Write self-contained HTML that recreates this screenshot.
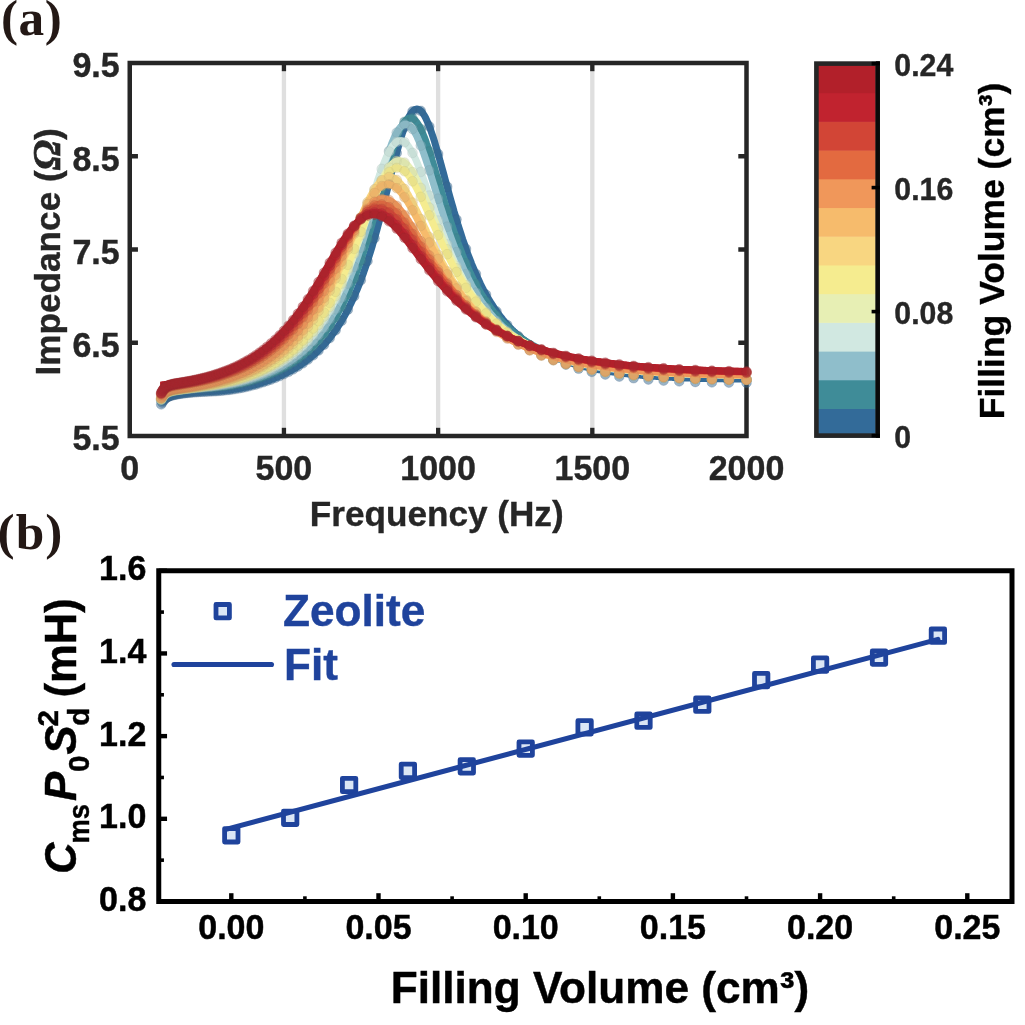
<!DOCTYPE html>
<html lang="en"><head><meta charset="utf-8"><title>Impedance vs filling volume</title>
<style>html,body{margin:0;padding:0;background:#fff}svg{display:block}</style></head>
<body>
<svg width="1025" height="1025" viewBox="0 0 1025 1025">
<rect width="1025" height="1025" fill="#ffffff"/>
<defs>
<marker id="m0" markerWidth="12" markerHeight="12" refX="6" refY="6" markerUnits="userSpaceOnUse"><circle cx="6" cy="6" r="4.9" fill="#35678f" fill-opacity="0.5" stroke="#396080" stroke-opacity="0.25" stroke-width="0.9"/></marker>
<marker id="m1" markerWidth="12" markerHeight="12" refX="6" refY="6" markerUnits="userSpaceOnUse"><circle cx="6" cy="6" r="4.9" fill="#40848e" fill-opacity="0.5" stroke="#41777f" stroke-opacity="0.25" stroke-width="0.9"/></marker>
<marker id="m2" markerWidth="12" markerHeight="12" refX="6" refY="6" markerUnits="userSpaceOnUse"><circle cx="6" cy="6" r="4.9" fill="#86b0bb" fill-opacity="0.5" stroke="#799aa3" stroke-opacity="0.25" stroke-width="0.9"/></marker>
<marker id="m3" markerWidth="12" markerHeight="12" refX="6" refY="6" markerUnits="userSpaceOnUse"><circle cx="6" cy="6" r="4.9" fill="#c0d5ce" fill-opacity="0.5" stroke="#a7b7b2" stroke-opacity="0.25" stroke-width="0.9"/></marker>
<marker id="m4" markerWidth="12" markerHeight="12" refX="6" refY="6" markerUnits="userSpaceOnUse"><circle cx="6" cy="6" r="4.9" fill="#d4dba7" fill-opacity="0.5" stroke="#b7bc93" stroke-opacity="0.25" stroke-width="0.9"/></marker>
<marker id="m5" markerWidth="12" markerHeight="12" refX="6" refY="6" markerUnits="userSpaceOnUse"><circle cx="6" cy="6" r="4.9" fill="#e0d886" fill-opacity="0.5" stroke="#c0ba79" stroke-opacity="0.25" stroke-width="0.9"/></marker>
<marker id="m6" markerWidth="12" markerHeight="12" refX="6" refY="6" markerUnits="userSpaceOnUse"><circle cx="6" cy="6" r="4.9" fill="#e3c57a" fill-opacity="0.5" stroke="#c3ab6f" stroke-opacity="0.25" stroke-width="0.9"/></marker>
<marker id="m7" markerWidth="12" markerHeight="12" refX="6" refY="6" markerUnits="userSpaceOnUse"><circle cx="6" cy="6" r="4.9" fill="#e1ad67" fill-opacity="0.5" stroke="#c19861" stroke-opacity="0.25" stroke-width="0.9"/></marker>
<marker id="m8" markerWidth="12" markerHeight="12" refX="6" refY="6" markerUnits="userSpaceOnUse"><circle cx="6" cy="6" r="4.9" fill="#dc8d58" fill-opacity="0.5" stroke="#bd7f54" stroke-opacity="0.25" stroke-width="0.9"/></marker>
<marker id="m9" markerWidth="12" markerHeight="12" refX="6" refY="6" markerUnits="userSpaceOnUse"><circle cx="6" cy="6" r="4.9" fill="#d06641" fill-opacity="0.5" stroke="#b45f42" stroke-opacity="0.25" stroke-width="0.9"/></marker>
<marker id="m10" markerWidth="12" markerHeight="12" refX="6" refY="6" markerUnits="userSpaceOnUse"><circle cx="6" cy="6" r="4.9" fill="#c14538" fill-opacity="0.5" stroke="#a8453b" stroke-opacity="0.25" stroke-width="0.9"/></marker>
<marker id="m11" markerWidth="12" markerHeight="12" refX="6" refY="6" markerUnits="userSpaceOnUse"><circle cx="6" cy="6" r="4.9" fill="#b22732" fill-opacity="0.5" stroke="#9c2e36" stroke-opacity="0.25" stroke-width="0.9"/></marker>
<marker id="m12" markerWidth="12" markerHeight="12" refX="6" refY="6" markerUnits="userSpaceOnUse"><circle cx="6" cy="6" r="4.9" fill="#a5252d" fill-opacity="0.5" stroke="#922b32" stroke-opacity="0.25" stroke-width="0.9"/></marker>
<clipPath id="clipa"><rect x="125" y="60" width="630" height="380"/></clipPath>
</defs>
<line x1="283.94" y1="63.0" x2="283.94" y2="436.0" stroke="#dfdfdf" stroke-width="4.3"/>
<line x1="438.12" y1="63.0" x2="438.12" y2="436.0" stroke="#dfdfdf" stroke-width="4.3"/>
<line x1="592.31" y1="63.0" x2="592.31" y2="436.0" stroke="#dfdfdf" stroke-width="4.3"/>
<rect x="129.75" y="63.0" width="616.75" height="373.0" fill="none" stroke="#262626" stroke-width="4.5"/>
<line x1="283.94" y1="63.0" x2="283.94" y2="71.2" stroke="#262626" stroke-width="4.3"/>
<line x1="283.94" y1="436.0" x2="283.94" y2="427.8" stroke="#262626" stroke-width="4.3"/>
<line x1="438.12" y1="63.0" x2="438.12" y2="71.2" stroke="#262626" stroke-width="4.3"/>
<line x1="438.12" y1="436.0" x2="438.12" y2="427.8" stroke="#262626" stroke-width="4.3"/>
<line x1="592.31" y1="63.0" x2="592.31" y2="71.2" stroke="#262626" stroke-width="4.3"/>
<line x1="592.31" y1="436.0" x2="592.31" y2="427.8" stroke="#262626" stroke-width="4.3"/>
<line x1="129.75" y1="342.75" x2="137.95" y2="342.75" stroke="#262626" stroke-width="4.5"/>
<line x1="746.5" y1="342.75" x2="738.3" y2="342.75" stroke="#262626" stroke-width="4.5"/>
<line x1="129.75" y1="249.50" x2="137.95" y2="249.50" stroke="#262626" stroke-width="4.5"/>
<line x1="746.5" y1="249.50" x2="738.3" y2="249.50" stroke="#262626" stroke-width="4.5"/>
<line x1="129.75" y1="156.25" x2="137.95" y2="156.25" stroke="#262626" stroke-width="4.5"/>
<line x1="746.5" y1="156.25" x2="738.3" y2="156.25" stroke="#262626" stroke-width="4.5"/>
<g fill="none" stroke-linejoin="round" stroke-linecap="butt">
<path d="M160.6 396.7 L161.6 396.6 L162.5 396.4 L163.5 396.3 L164.5 396.1 L165.5 396.0 L166.5 395.8 L167.4 395.6 L168.4 395.5 L169.4 395.3 L170.4 395.2 L171.3 395.0 L172.3 394.9 L173.3 394.7 L174.3 394.6 L175.3 394.4 L176.2 394.3 L177.2 394.1 L178.2 394.0 L179.2 393.8 L180.2 393.7 L181.1 393.6 L182.1 393.4 L183.1 393.3 L184.1 393.2 L185.0 393.1 L186.0 393.0 L187.0 392.9 L188.0 392.8 L189.0 392.7 L189.9 392.6 L190.9 392.5 L191.9 392.4 L192.9 392.3 L193.8 392.2 L194.8 392.2 L195.8 392.1 L196.8 392.0 L197.8 392.0 L198.7 391.9 L199.7 391.9 L200.7 391.8 L201.7 391.8 L202.6 391.7 L203.6 391.7 L204.6 391.6 L205.6 391.6 L206.6 391.5 L207.5 391.5 L208.5 391.5 L209.5 391.4 L210.5 391.4 L211.5 391.3 L212.4 391.3 L213.4 391.2 L214.4 391.2 L215.4 391.1 L216.3 391.0 L217.3 391.0 L218.3 390.9 L219.3 390.8 L220.3 390.8 L221.2 390.7 L222.2 390.6 L223.2 390.5 L224.2 390.4 L225.1 390.3 L226.1 390.2 L227.1 390.1 L228.1 390.0 L229.1 389.9 L230.0 389.8 L231.0 389.6 L232.0 389.5 L233.0 389.4 L233.9 389.2 L234.9 389.0 L235.9 388.9 L236.9 388.7 L237.9 388.6 L238.8 388.4 L239.8 388.2 L240.8 388.0 L241.8 387.8 L242.8 387.6 L243.7 387.4 L244.7 387.2 L245.7 387.0 L246.7 386.8 L247.6 386.5 L248.6 386.3 L249.6 386.1 L250.6 385.8 L251.6 385.6 L252.5 385.3 L253.5 385.1 L254.5 384.8 L255.5 384.6 L256.4 384.3 L257.4 384.0 L258.4 383.7 L259.4 383.4 L260.4 383.1 L261.3 382.8 L262.3 382.5 L263.3 382.2 L264.3 381.9 L265.2 381.6 L266.2 381.2 L267.2 380.9 L268.2 380.6 L269.2 380.2 L270.1 379.9 L271.1 379.5 L272.1 379.1 L273.1 378.8 L274.1 378.4 L275.0 378.0 L276.0 377.6 L277.0 377.2 L278.0 376.8 L278.9 376.4 L279.9 375.9 L280.9 375.5 L281.9 375.1 L282.9 374.6 L283.8 374.2 L284.8 373.7 L285.8 373.2 L286.8 372.7 L287.7 372.2 L288.7 371.7 L289.7 371.2 L290.7 370.7 L291.7 370.2 L292.6 369.6 L293.6 369.1 L294.6 368.5 L295.6 367.9 L296.6 367.3 L297.5 366.7 L298.5 366.1 L299.5 365.5 L300.5 364.9 L301.4 364.2 L302.4 363.6 L303.4 362.9 L304.4 362.2 L305.4 361.5 L306.3 360.8 L307.3 360.0 L308.3 359.3 L309.3 358.5 L310.2 357.7 L311.2 356.9 L312.2 356.1 L313.2 355.3 L314.2 354.5 L315.1 353.6 L316.1 352.7 L317.1 351.8 L318.1 350.9 L319.0 349.9 L320.0 348.9 L321.0 347.9 L322.0 346.9 L323.0 345.9 L323.9 344.8 L324.9 343.8 L325.9 342.6 L326.9 341.5 L327.9 340.4 L328.8 339.2 L329.8 337.9 L330.8 336.7 L331.8 335.4 L332.7 334.1 L333.7 332.8 L334.7 331.4 L335.7 330.0 L336.7 328.6 L337.6 327.1 L338.6 325.7 L339.6 324.1 L340.6 322.5 L341.5 320.9 L342.5 319.3 L343.5 317.6 L344.5 315.9 L345.5 314.1 L346.4 312.3 L347.4 310.5 L348.4 308.6 L349.4 306.6 L350.3 304.6 L351.3 302.6 L352.3 300.5 L353.3 298.4 L354.3 296.2 L355.2 294.0 L356.2 291.7 L357.2 289.3 L358.2 286.9 L359.2 284.5 L360.1 282.0 L361.1 279.4 L362.1 276.8 L363.1 274.1 L364.0 271.4 L365.0 268.6 L366.0 265.7 L367.0 262.8 L368.0 259.8 L368.9 256.8 L369.9 253.7 L370.9 250.5 L371.9 247.3 L372.8 244.0 L373.8 240.7 L374.8 237.3 L375.8 233.8 L376.8 230.3 L377.7 226.8 L378.7 223.1 L379.7 219.5 L380.7 215.8 L381.6 212.0 L382.6 208.2 L383.6 204.4 L384.6 200.6 L385.6 196.7 L386.5 192.8 L387.5 188.9 L388.5 185.0 L389.5 181.1 L390.5 177.1 L391.4 173.2 L392.4 169.4 L393.4 165.5 L394.4 161.7 L395.3 158.0 L396.3 154.3 L397.3 150.6 L398.3 147.1 L399.3 143.6 L400.2 140.3 L401.2 137.1 L402.2 133.9 L403.2 131.0 L404.1 128.2 L405.1 125.5 L406.1 123.0 L407.1 120.7 L408.1 118.5 L409.0 116.6 L410.0 114.9 L411.0 113.4 L412.0 112.1 L413.0 111.0 L413.9 110.2 L414.9 109.6 L415.9 109.2 L416.9 109.1 L417.8 109.2 L418.8 109.5 L419.8 110.1 L420.8 110.8 L421.8 111.8 L422.7 113.1 L423.7 114.5 L424.7 116.1 L425.7 118.0 L426.6 120.0 L427.6 122.2 L428.6 124.5 L429.6 127.0 L430.6 129.7 L431.5 132.5 L432.5 135.4 L433.5 138.4 L434.5 141.5 L435.4 144.7 L436.4 148.0 L437.4 151.4 L438.4 154.8 L439.4 158.3 L440.3 161.8 L441.3 165.3 L442.3 168.9 L443.3 172.5 L444.3 176.1 L445.2 179.6 L446.2 183.2 L447.2 186.8 L448.2 190.4 L449.1 193.9 L450.1 197.5 L451.1 200.9 L452.1 204.4 L453.1 207.8 L454.0 211.2 L455.0 214.6 L456.0 217.9 L457.0 221.1 L457.9 224.3 L458.9 227.5 L459.9 230.6 L460.9 233.6 L461.9 236.7 L462.8 239.6 L463.8 242.5 L464.8 245.3 L465.8 248.1 L466.7 250.9 L467.7 253.6 L468.7 256.2 L469.7 258.8 L470.7 261.3 L471.6 263.8 L472.6 266.2 L473.6 268.5 L474.6 270.9 L475.6 273.1 L476.5 275.3 L477.5 277.5 L478.5 279.6 L479.5 281.7 L480.4 283.7 L481.4 285.7 L482.4 287.7 L483.4 289.6 L484.4 291.4 L485.3 293.2 L486.3 295.0 L487.3 296.7 L488.3 298.4 L489.2 300.1 L490.2 301.7 L491.2 303.3 L492.2 304.8 L493.2 306.3 L494.1 307.8 L495.1 309.2 L496.1 310.6 L497.1 312.0 L498.0 313.4 L499.0 314.7 L500.0 316.0 L501.0 317.2 L502.0 318.5 L502.9 319.7 L503.9 320.8 L504.9 322.0 L505.9 323.1 L506.9 324.2 L507.8 325.3 L508.8 326.4 L509.8 327.4 L510.8 328.4 L511.7 329.4 L512.7 330.3 L513.7 331.3 L514.7 332.2 L515.7 333.1 L516.6 334.0 L517.6 334.9 L518.6 335.7 L519.6 336.5 L520.5 337.3 L521.5 338.1 L522.5 338.9 L523.5 339.7 L524.5 340.4 L525.4 341.2 L526.4 341.9 L527.4 342.6 L528.4 343.3 L529.4 343.9 L530.3 344.6 L531.3 345.2 L532.3 345.9 L533.3 346.5 L534.2 347.1 L535.2 347.7 L536.2 348.3 L537.2 348.8 L538.2 349.4 L539.1 350.0 L540.1 350.5 L541.1 351.0 L542.1 351.5 L543.0 352.0 L544.0 352.5 L545.0 353.0 L546.0 353.5 L547.0 354.0 L547.9 354.4 L548.9 354.9 L549.9 355.3 L550.9 355.8 L551.8 356.2 L552.8 356.6 L553.8 357.0 L554.8 357.4 L555.8 357.8 L556.7 358.2 L557.7 358.6 L558.7 359.0 L559.7 359.3 L560.7 359.7 L561.6 360.0 L562.6 360.4 L563.6 360.7 L564.6 361.1 L565.5 361.4 L566.5 361.7 L567.5 362.0 L568.5 362.3 L569.5 362.7 L570.4 363.0 L571.4 363.2 L572.4 363.5 L573.4 363.8 L574.3 364.1 L575.3 364.4 L576.3 364.6 L577.3 364.9 L578.3 365.2 L579.2 365.4 L580.2 365.7 L581.2 365.9 L582.2 366.2 L583.1 366.4 L584.1 366.6 L585.1 366.9 L586.1 367.1 L587.1 367.3 L588.0 367.5 L589.0 367.8 L590.0 368.0 L591.0 368.2 L592.0 368.4 L592.9 368.6 L593.9 368.8 L594.9 369.0 L595.9 369.2 L596.8 369.3 L597.8 369.5 L598.8 369.7 L599.8 369.9 L600.8 370.1 L601.7 370.2 L602.7 370.4 L603.7 370.6 L604.7 370.7 L605.6 370.9 L606.6 371.1 L607.6 371.2 L608.6 371.4 L609.6 371.5 L610.5 371.7 L611.5 371.8 L612.5 371.9 L613.5 372.1 L614.4 372.2 L615.4 372.4 L616.4 372.5 L617.4 372.6 L618.4 372.8 L619.3 372.9 L620.3 373.0 L621.3 373.1 L622.3 373.3 L623.3 373.4 L624.2 373.5 L625.2 373.6 L626.2 373.7 L627.2 373.8 L628.1 373.9 L629.1 374.0 L630.1 374.2 L631.1 374.3 L632.1 374.4 L633.0 374.5 L634.0 374.6 L635.0 374.7 L636.0 374.7 L636.9 374.8 L637.9 374.9 L638.9 375.0 L639.9 375.1 L640.9 375.2 L641.8 375.3 L642.8 375.4 L643.8 375.5 L644.8 375.5 L645.8 375.6 L646.7 375.7 L647.7 375.8 L648.7 375.9 L649.7 375.9 L650.6 376.0 L651.6 376.1 L652.6 376.1 L653.6 376.2 L654.6 376.3 L655.5 376.3 L656.5 376.4 L657.5 376.5 L658.5 376.5 L659.4 376.6 L660.4 376.7 L661.4 376.7 L662.4 376.8 L663.4 376.8 L664.3 376.9 L665.3 377.0 L666.3 377.0 L667.3 377.1 L668.2 377.1 L669.2 377.2 L670.2 377.2 L671.2 377.3 L672.2 377.3 L673.1 377.4 L674.1 377.4 L675.1 377.5 L676.1 377.5 L677.1 377.6 L678.0 377.6 L679.0 377.6 L680.0 377.7 L681.0 377.7 L681.9 377.8 L682.9 377.8 L683.9 377.8 L684.9 377.9 L685.9 377.9 L686.8 378.0 L687.8 378.0 L688.8 378.0 L689.8 378.1 L690.7 378.1 L691.7 378.1 L692.7 378.2 L693.7 378.2 L694.7 378.2 L695.6 378.3 L696.6 378.3 L697.6 378.3 L698.6 378.3 L699.5 378.4 L700.5 378.4 L701.5 378.4 L702.5 378.4 L703.5 378.5 L704.4 378.5 L705.4 378.5 L706.4 378.5 L707.4 378.6 L708.4 378.6 L709.3 378.6 L710.3 378.6 L711.3 378.7 L712.3 378.7 L713.2 378.7 L714.2 378.7 L715.2 378.7 L716.2 378.7 L717.2 378.8 L718.1 378.8 L719.1 378.8 L720.1 378.8 L721.1 378.8 L722.0 378.8 L723.0 378.8 L724.0 378.9 L725.0 378.9 L726.0 378.9 L726.9 378.9 L727.9 378.9 L728.9 378.9 L729.9 378.9 L730.8 378.9 L731.8 378.9 L732.8 379.0 L733.8 379.0 L734.8 379.0 L735.7 379.0 L736.7 379.0 L737.7 379.0 L738.7 379.0 L739.7 379.0 L740.6 379.0 L741.6 379.0 L742.6 379.0 L743.6 379.0 L744.5 379.0 L745.5 379.0 L746.5 379.0" stroke="#336b99" stroke-width="7"/>
<polyline points="161.2,404.4 162.2,402.6 163.1,401.0 164.1,399.8 165.1,398.8 166.1,397.9 167.2,397.2 168.3,396.7 169.4,396.2 170.6,395.8 171.8,395.4 173.0,395.1 174.3,394.8 175.6,394.5 176.9,394.3 178.3,394.0 179.7,393.8 181.2,393.6 182.7,393.4 184.3,393.2 185.9,393.0 187.5,392.8 189.2,392.6 190.9,392.5 192.7,392.3 194.6,392.2 196.5,392.1 198.4,391.9 200.4,391.8 202.5,391.7 204.6,391.6 206.8,391.5 209.1,391.4 211.4,391.3 213.8,391.2 216.3,391.1 218.8,390.9 221.4,390.7 224.1,390.4 226.9,390.1 229.7,389.8 232.7,389.4 235.7,388.9 238.8,388.4 242.0,387.8 245.3,387.1 248.6,386.3 252.1,385.4 255.7,384.5 259.4,383.4 263.2,382.2 267.1,380.9 271.1,379.5 275.3,377.9 279.5,376.1 283.9,374.1 288.5,371.9 293.1,369.4 297.9,366.5 302.8,363.3 307.9,359.6 313.1,355.4 318.5,350.5 324.0,344.8 329.7,338.1 335.6,330.2 341.6,320.9 347.8,309.7 354.2,296.3 360.8,280.3 367.5,261.1 374.5,238.3 381.7,211.9 389.1,182.7 396.7,153.0 404.5,127.2 412.5,111.5 420.8,110.9 429.3,126.4 438.1,153.9 447.2,186.7 456.5,219.5 466.0,248.9 475.9,273.9 486.0,294.6 496.5,311.4 507.2,325.0 518.3,336.2 529.7,345.4 541.4,353.1 553.4,359.5 565.9,364.6 578.6,368.7 591.8,371.9 605.3,374.5 619.3,376.6 633.6,378.2 648.4,379.5 663.6,380.6 679.2,381.4 695.3,382.0 711.9,382.4 728.9,382.6 746.5,382.7" stroke="none" marker-start="url(#m0)" marker-mid="url(#m0)" marker-end="url(#m0)"/>
<path d="M160.6 392.6 L161.6 392.5 L162.5 392.4 L163.5 392.2 L164.5 392.1 L165.5 391.9 L166.5 391.8 L167.4 391.6 L168.4 391.5 L169.4 391.3 L170.4 391.2 L171.3 391.0 L172.3 390.9 L173.3 390.8 L174.3 390.6 L175.3 390.5 L176.2 390.3 L177.2 390.2 L178.2 390.0 L179.2 389.9 L180.2 389.8 L181.1 389.7 L182.1 389.5 L183.1 389.4 L184.1 389.3 L185.0 389.2 L186.0 389.1 L187.0 388.9 L188.0 388.8 L189.0 388.7 L189.9 388.6 L190.9 388.5 L191.9 388.4 L192.9 388.4 L193.8 388.3 L194.8 388.2 L195.8 388.1 L196.8 388.0 L197.8 387.9 L198.7 387.9 L199.7 387.8 L200.7 387.7 L201.7 387.7 L202.6 387.6 L203.6 387.5 L204.6 387.5 L205.6 387.4 L206.6 387.3 L207.5 387.3 L208.5 387.2 L209.5 387.1 L210.5 387.1 L211.5 387.0 L212.4 386.9 L213.4 386.8 L214.4 386.7 L215.4 386.7 L216.3 386.6 L217.3 386.5 L218.3 386.4 L219.3 386.3 L220.3 386.2 L221.2 386.1 L222.2 386.0 L223.2 385.9 L224.2 385.7 L225.1 385.6 L226.1 385.5 L227.1 385.4 L228.1 385.2 L229.1 385.1 L230.0 384.9 L231.0 384.8 L232.0 384.6 L233.0 384.4 L233.9 384.3 L234.9 384.1 L235.9 383.9 L236.9 383.7 L237.9 383.5 L238.8 383.3 L239.8 383.1 L240.8 382.9 L241.8 382.7 L242.8 382.4 L243.7 382.2 L244.7 382.0 L245.7 381.7 L246.7 381.5 L247.6 381.2 L248.6 381.0 L249.6 380.7 L250.6 380.4 L251.6 380.2 L252.5 379.9 L253.5 379.6 L254.5 379.3 L255.5 379.0 L256.4 378.7 L257.4 378.4 L258.4 378.1 L259.4 377.8 L260.4 377.4 L261.3 377.1 L262.3 376.8 L263.3 376.4 L264.3 376.0 L265.2 375.7 L266.2 375.3 L267.2 374.9 L268.2 374.6 L269.2 374.2 L270.1 373.8 L271.1 373.4 L272.1 373.0 L273.1 372.5 L274.1 372.1 L275.0 371.7 L276.0 371.2 L277.0 370.8 L278.0 370.3 L278.9 369.9 L279.9 369.4 L280.9 368.9 L281.9 368.4 L282.9 367.9 L283.8 367.4 L284.8 366.9 L285.8 366.3 L286.8 365.8 L287.7 365.2 L288.7 364.6 L289.7 364.1 L290.7 363.5 L291.7 362.9 L292.6 362.3 L293.6 361.6 L294.6 361.0 L295.6 360.3 L296.6 359.7 L297.5 359.0 L298.5 358.3 L299.5 357.6 L300.5 356.9 L301.4 356.1 L302.4 355.4 L303.4 354.6 L304.4 353.8 L305.4 353.0 L306.3 352.2 L307.3 351.4 L308.3 350.5 L309.3 349.6 L310.2 348.7 L311.2 347.8 L312.2 346.9 L313.2 345.9 L314.2 345.0 L315.1 344.0 L316.1 342.9 L317.1 341.9 L318.1 340.8 L319.0 339.7 L320.0 338.6 L321.0 337.5 L322.0 336.3 L323.0 335.1 L323.9 333.9 L324.9 332.7 L325.9 331.4 L326.9 330.1 L327.9 328.8 L328.8 327.4 L329.8 326.0 L330.8 324.6 L331.8 323.1 L332.7 321.6 L333.7 320.1 L334.7 318.5 L335.7 316.9 L336.7 315.2 L337.6 313.6 L338.6 311.8 L339.6 310.1 L340.6 308.3 L341.5 306.4 L342.5 304.5 L343.5 302.6 L344.5 300.6 L345.5 298.6 L346.4 296.5 L347.4 294.4 L348.4 292.3 L349.4 290.0 L350.3 287.8 L351.3 285.5 L352.3 283.1 L353.3 280.7 L354.3 278.2 L355.2 275.7 L356.2 273.1 L357.2 270.5 L358.2 267.8 L359.2 265.0 L360.1 262.2 L361.1 259.4 L362.1 256.5 L363.1 253.5 L364.0 250.5 L365.0 247.4 L366.0 244.3 L367.0 241.1 L368.0 237.9 L368.9 234.6 L369.9 231.3 L370.9 227.9 L371.9 224.5 L372.8 221.1 L373.8 217.6 L374.8 214.0 L375.8 210.5 L376.8 206.9 L377.7 203.3 L378.7 199.6 L379.7 196.0 L380.7 192.3 L381.6 188.7 L382.6 185.0 L383.6 181.3 L384.6 177.7 L385.6 174.1 L386.5 170.5 L387.5 167.0 L388.5 163.5 L389.5 160.1 L390.5 156.7 L391.4 153.5 L392.4 150.3 L393.4 147.2 L394.4 144.2 L395.3 141.3 L396.3 138.6 L397.3 135.9 L398.3 133.5 L399.3 131.2 L400.2 129.0 L401.2 127.0 L402.2 125.2 L403.2 123.6 L404.1 122.2 L405.1 121.0 L406.1 120.0 L407.1 119.1 L408.1 118.5 L409.0 118.1 L410.0 117.9 L411.0 118.0 L412.0 118.2 L413.0 118.6 L413.9 119.3 L414.9 120.1 L415.9 121.2 L416.9 122.4 L417.8 123.8 L418.8 125.4 L419.8 127.2 L420.8 129.1 L421.8 131.2 L422.7 133.4 L423.7 135.8 L424.7 138.2 L425.7 140.8 L426.6 143.6 L427.6 146.4 L428.6 149.2 L429.6 152.2 L430.6 155.3 L431.5 158.4 L432.5 161.5 L433.5 164.7 L434.5 168.0 L435.4 171.2 L436.4 174.5 L437.4 177.8 L438.4 181.1 L439.4 184.4 L440.3 187.7 L441.3 191.0 L442.3 194.3 L443.3 197.6 L444.3 200.9 L445.2 204.1 L446.2 207.3 L447.2 210.5 L448.2 213.6 L449.1 216.7 L450.1 219.8 L451.1 222.8 L452.1 225.8 L453.1 228.7 L454.0 231.6 L455.0 234.5 L456.0 237.3 L457.0 240.0 L457.9 242.7 L458.9 245.4 L459.9 248.0 L460.9 250.6 L461.9 253.1 L462.8 255.6 L463.8 258.0 L464.8 260.4 L465.8 262.7 L466.7 265.0 L467.7 267.2 L468.7 269.4 L469.7 271.6 L470.7 273.7 L471.6 275.7 L472.6 277.7 L473.6 279.7 L474.6 281.6 L475.6 283.5 L476.5 285.4 L477.5 287.2 L478.5 288.9 L479.5 290.7 L480.4 292.4 L481.4 294.0 L482.4 295.6 L483.4 297.2 L484.4 298.8 L485.3 300.3 L486.3 301.8 L487.3 303.2 L488.3 304.6 L489.2 306.0 L490.2 307.4 L491.2 308.7 L492.2 310.0 L493.2 311.3 L494.1 312.5 L495.1 313.7 L496.1 314.9 L497.1 316.1 L498.0 317.2 L499.0 318.3 L500.0 319.4 L501.0 320.5 L502.0 321.5 L502.9 322.5 L503.9 323.5 L504.9 324.5 L505.9 325.5 L506.9 326.4 L507.8 327.3 L508.8 328.2 L509.8 329.1 L510.8 330.0 L511.7 330.8 L512.7 331.6 L513.7 332.5 L514.7 333.2 L515.7 334.0 L516.6 334.8 L517.6 335.5 L518.6 336.3 L519.6 337.0 L520.5 337.7 L521.5 338.4 L522.5 339.0 L523.5 339.7 L524.5 340.3 L525.4 341.0 L526.4 341.6 L527.4 342.2 L528.4 342.8 L529.4 343.4 L530.3 344.0 L531.3 344.5 L532.3 345.1 L533.3 345.6 L534.2 346.1 L535.2 346.7 L536.2 347.2 L537.2 347.7 L538.2 348.2 L539.1 348.7 L540.1 349.1 L541.1 349.6 L542.1 350.0 L543.0 350.5 L544.0 350.9 L545.0 351.4 L546.0 351.8 L547.0 352.2 L547.9 352.6 L548.9 353.0 L549.9 353.4 L550.9 353.8 L551.8 354.2 L552.8 354.5 L553.8 354.9 L554.8 355.3 L555.8 355.6 L556.7 356.0 L557.7 356.3 L558.7 356.6 L559.7 357.0 L560.7 357.3 L561.6 357.6 L562.6 357.9 L563.6 358.2 L564.6 358.5 L565.5 358.8 L566.5 359.1 L567.5 359.4 L568.5 359.6 L569.5 359.9 L570.4 360.2 L571.4 360.5 L572.4 360.7 L573.4 361.0 L574.3 361.2 L575.3 361.5 L576.3 361.7 L577.3 362.0 L578.3 362.2 L579.2 362.4 L580.2 362.6 L581.2 362.9 L582.2 363.1 L583.1 363.3 L584.1 363.5 L585.1 363.7 L586.1 363.9 L587.1 364.1 L588.0 364.3 L589.0 364.5 L590.0 364.7 L591.0 364.9 L592.0 365.1 L592.9 365.3 L593.9 365.4 L594.9 365.6 L595.9 365.8 L596.8 366.0 L597.8 366.1 L598.8 366.3 L599.8 366.5 L600.8 366.6 L601.7 366.8 L602.7 366.9 L603.7 367.1 L604.7 367.2 L605.6 367.4 L606.6 367.5 L607.6 367.7 L608.6 367.8 L609.6 367.9 L610.5 368.1 L611.5 368.2 L612.5 368.3 L613.5 368.5 L614.4 368.6 L615.4 368.7 L616.4 368.8 L617.4 369.0 L618.4 369.1 L619.3 369.2 L620.3 369.3 L621.3 369.4 L622.3 369.5 L623.3 369.6 L624.2 369.7 L625.2 369.9 L626.2 370.0 L627.2 370.1 L628.1 370.2 L629.1 370.3 L630.1 370.4 L631.1 370.4 L632.1 370.5 L633.0 370.6 L634.0 370.7 L635.0 370.8 L636.0 370.9 L636.9 371.0 L637.9 371.1 L638.9 371.2 L639.9 371.2 L640.9 371.3 L641.8 371.4 L642.8 371.5 L643.8 371.6 L644.8 371.6 L645.8 371.7 L646.7 371.8 L647.7 371.8 L648.7 371.9 L649.7 372.0 L650.6 372.1 L651.6 372.1 L652.6 372.2 L653.6 372.3 L654.6 372.3 L655.5 372.4 L656.5 372.4 L657.5 372.5 L658.5 372.6 L659.4 372.6 L660.4 372.7 L661.4 372.7 L662.4 372.8 L663.4 372.8 L664.3 372.9 L665.3 372.9 L666.3 373.0 L667.3 373.0 L668.2 373.1 L669.2 373.1 L670.2 373.2 L671.2 373.2 L672.2 373.3 L673.1 373.3 L674.1 373.4 L675.1 373.4 L676.1 373.5 L677.1 373.5 L678.0 373.5 L679.0 373.6 L680.0 373.6 L681.0 373.7 L681.9 373.7 L682.9 373.7 L683.9 373.8 L684.9 373.8 L685.9 373.8 L686.8 373.9 L687.8 373.9 L688.8 373.9 L689.8 374.0 L690.7 374.0 L691.7 374.0 L692.7 374.1 L693.7 374.1 L694.7 374.1 L695.6 374.1 L696.6 374.2 L697.6 374.2 L698.6 374.2 L699.5 374.2 L700.5 374.3 L701.5 374.3 L702.5 374.3 L703.5 374.3 L704.4 374.4 L705.4 374.4 L706.4 374.4 L707.4 374.4 L708.4 374.4 L709.3 374.5 L710.3 374.5 L711.3 374.5 L712.3 374.5 L713.2 374.5 L714.2 374.5 L715.2 374.6 L716.2 374.6 L717.2 374.6 L718.1 374.6 L719.1 374.6 L720.1 374.6 L721.1 374.6 L722.0 374.7 L723.0 374.7 L724.0 374.7 L725.0 374.7 L726.0 374.7 L726.9 374.7 L727.9 374.7 L728.9 374.7 L729.9 374.7 L730.8 374.7 L731.8 374.8 L732.8 374.8 L733.8 374.8 L734.8 374.8 L735.7 374.8 L736.7 374.8 L737.7 374.8 L738.7 374.8 L739.7 374.8 L740.6 374.8 L741.6 374.8 L742.6 374.8 L743.6 374.8 L744.5 374.8 L745.5 374.8 L746.5 374.8" stroke="#3f8c98" stroke-width="7"/>
<polyline points="161.2,400.3 162.2,398.5 163.1,397.0 164.1,395.7 165.1,394.7 166.1,393.9 167.2,393.2 168.3,392.7 169.4,392.2 170.6,391.8 171.8,391.4 173.0,391.1 174.3,390.8 175.6,390.6 176.9,390.3 178.3,390.1 179.7,389.9 181.2,389.7 182.7,389.5 184.3,389.3 185.9,389.1 187.5,388.9 189.2,388.7 190.9,388.5 192.7,388.4 194.6,388.2 196.5,388.0 198.4,387.9 200.4,387.7 202.5,387.6 204.6,387.5 206.8,387.3 209.1,387.2 211.4,387.0 213.8,386.8 216.3,386.6 218.8,386.3 221.4,386.1 224.1,385.8 226.9,385.4 229.7,385.0 232.7,384.5 235.7,383.9 238.8,383.3 242.0,382.6 245.3,381.8 248.6,381.0 252.1,380.0 255.7,378.9 259.4,377.7 263.2,376.4 267.1,375.0 271.1,373.4 275.3,371.6 279.5,369.6 283.9,367.3 288.5,364.8 293.1,362.0 297.9,358.7 302.8,355.1 307.9,350.9 313.1,346.0 318.5,340.4 324.0,333.8 329.7,326.1 335.6,317.1 341.6,306.3 347.8,293.6 354.2,278.4 360.8,260.4 367.5,239.3 374.5,215.1 381.7,188.5 389.1,161.5 396.7,137.6 404.5,121.8 412.5,118.4 420.8,129.2 429.3,151.5 438.1,180.3 447.2,210.4 456.5,238.6 466.0,263.4 475.9,284.2 486.0,301.5 496.5,315.6 507.2,327.3 518.3,337.0 529.7,345.2 541.4,352.2 553.4,358.1 565.9,362.8 578.6,366.6 591.8,369.6 605.3,371.9 619.3,373.8 633.6,375.3 648.4,376.5 663.6,377.5 679.2,378.2 695.3,378.8 711.9,379.1 728.9,379.4 746.5,379.5" stroke="none" marker-start="url(#m1)" marker-mid="url(#m1)" marker-end="url(#m1)"/>
<path d="M160.6 392.3 L161.6 392.1 L162.5 392.0 L163.5 391.9 L164.5 391.8 L165.5 391.6 L166.5 391.5 L167.4 391.4 L168.4 391.2 L169.4 391.1 L170.4 390.9 L171.3 390.8 L172.3 390.7 L173.3 390.5 L174.3 390.4 L175.3 390.3 L176.2 390.1 L177.2 390.0 L178.2 389.9 L179.2 389.7 L180.2 389.6 L181.1 389.5 L182.1 389.4 L183.1 389.2 L184.1 389.1 L185.0 389.0 L186.0 388.9 L187.0 388.8 L188.0 388.7 L189.0 388.6 L189.9 388.5 L190.9 388.4 L191.9 388.3 L192.9 388.2 L193.8 388.1 L194.8 388.0 L195.8 387.9 L196.8 387.8 L197.8 387.7 L198.7 387.6 L199.7 387.5 L200.7 387.4 L201.7 387.4 L202.6 387.3 L203.6 387.2 L204.6 387.1 L205.6 387.0 L206.6 386.9 L207.5 386.8 L208.5 386.8 L209.5 386.7 L210.5 386.6 L211.5 386.5 L212.4 386.4 L213.4 386.3 L214.4 386.2 L215.4 386.1 L216.3 386.0 L217.3 385.9 L218.3 385.7 L219.3 385.6 L220.3 385.5 L221.2 385.4 L222.2 385.2 L223.2 385.1 L224.2 385.0 L225.1 384.8 L226.1 384.7 L227.1 384.5 L228.1 384.3 L229.1 384.2 L230.0 384.0 L231.0 383.8 L232.0 383.6 L233.0 383.5 L233.9 383.3 L234.9 383.1 L235.9 382.9 L236.9 382.6 L237.9 382.4 L238.8 382.2 L239.8 382.0 L240.8 381.7 L241.8 381.5 L242.8 381.3 L243.7 381.0 L244.7 380.8 L245.7 380.5 L246.7 380.2 L247.6 379.9 L248.6 379.7 L249.6 379.4 L250.6 379.1 L251.6 378.8 L252.5 378.5 L253.5 378.2 L254.5 377.9 L255.5 377.5 L256.4 377.2 L257.4 376.9 L258.4 376.5 L259.4 376.2 L260.4 375.8 L261.3 375.5 L262.3 375.1 L263.3 374.7 L264.3 374.3 L265.2 373.9 L266.2 373.5 L267.2 373.1 L268.2 372.7 L269.2 372.3 L270.1 371.9 L271.1 371.4 L272.1 371.0 L273.1 370.5 L274.1 370.1 L275.0 369.6 L276.0 369.1 L277.0 368.6 L278.0 368.1 L278.9 367.6 L279.9 367.1 L280.9 366.5 L281.9 366.0 L282.9 365.5 L283.8 364.9 L284.8 364.3 L285.8 363.7 L286.8 363.1 L287.7 362.5 L288.7 361.9 L289.7 361.3 L290.7 360.6 L291.7 360.0 L292.6 359.3 L293.6 358.6 L294.6 357.9 L295.6 357.2 L296.6 356.5 L297.5 355.7 L298.5 354.9 L299.5 354.2 L300.5 353.4 L301.4 352.6 L302.4 351.7 L303.4 350.9 L304.4 350.0 L305.4 349.1 L306.3 348.2 L307.3 347.3 L308.3 346.4 L309.3 345.4 L310.2 344.4 L311.2 343.4 L312.2 342.4 L313.2 341.3 L314.2 340.2 L315.1 339.1 L316.1 338.0 L317.1 336.8 L318.1 335.7 L319.0 334.5 L320.0 333.2 L321.0 332.0 L322.0 330.7 L323.0 329.4 L323.9 328.0 L324.9 326.6 L325.9 325.2 L326.9 323.8 L327.9 322.3 L328.8 320.8 L329.8 319.2 L330.8 317.6 L331.8 316.0 L332.7 314.4 L333.7 312.7 L334.7 310.9 L335.7 309.2 L336.7 307.3 L337.6 305.5 L338.6 303.6 L339.6 301.6 L340.6 299.6 L341.5 297.6 L342.5 295.5 L343.5 293.4 L344.5 291.2 L345.5 289.0 L346.4 286.7 L347.4 284.4 L348.4 282.0 L349.4 279.6 L350.3 277.2 L351.3 274.6 L352.3 272.1 L353.3 269.4 L354.3 266.7 L355.2 264.0 L356.2 261.2 L357.2 258.4 L358.2 255.5 L359.2 252.5 L360.1 249.6 L361.1 246.5 L362.1 243.4 L363.1 240.3 L364.0 237.1 L365.0 233.9 L366.0 230.6 L367.0 227.3 L368.0 223.9 L368.9 220.5 L369.9 217.1 L370.9 213.7 L371.9 210.2 L372.8 206.7 L373.8 203.2 L374.8 199.6 L375.8 196.1 L376.8 192.6 L377.7 189.0 L378.7 185.5 L379.7 182.0 L380.7 178.6 L381.6 175.1 L382.6 171.7 L383.6 168.4 L384.6 165.1 L385.6 161.8 L386.5 158.7 L387.5 155.6 L388.5 152.6 L389.5 149.8 L390.5 147.0 L391.4 144.4 L392.4 141.9 L393.4 139.5 L394.4 137.3 L395.3 135.2 L396.3 133.3 L397.3 131.5 L398.3 130.0 L399.3 128.6 L400.2 127.4 L401.2 126.4 L402.2 125.6 L403.2 124.9 L404.1 124.5 L405.1 124.3 L406.1 124.3 L407.1 124.5 L408.1 124.8 L409.0 125.4 L410.0 126.2 L411.0 127.1 L412.0 128.2 L413.0 129.5 L413.9 131.0 L414.9 132.7 L415.9 134.4 L416.9 136.4 L417.8 138.5 L418.8 140.7 L419.8 143.0 L420.8 145.4 L421.8 148.0 L422.7 150.6 L423.7 153.4 L424.7 156.2 L425.7 159.1 L426.6 162.0 L427.6 165.0 L428.6 168.0 L429.6 171.1 L430.6 174.2 L431.5 177.4 L432.5 180.5 L433.5 183.7 L434.5 186.9 L435.4 190.0 L436.4 193.2 L437.4 196.4 L438.4 199.5 L439.4 202.7 L440.3 205.8 L441.3 208.9 L442.3 211.9 L443.3 215.0 L444.3 218.0 L445.2 220.9 L446.2 223.9 L447.2 226.8 L448.2 229.6 L449.1 232.4 L450.1 235.2 L451.1 237.9 L452.1 240.6 L453.1 243.3 L454.0 245.9 L455.0 248.4 L456.0 250.9 L457.0 253.4 L457.9 255.8 L458.9 258.2 L459.9 260.5 L460.9 262.8 L461.9 265.0 L462.8 267.2 L463.8 269.4 L464.8 271.5 L465.8 273.5 L466.7 275.6 L467.7 277.5 L468.7 279.5 L469.7 281.4 L470.7 283.2 L471.6 285.1 L472.6 286.9 L473.6 288.6 L474.6 290.3 L475.6 292.0 L476.5 293.6 L477.5 295.2 L478.5 296.8 L479.5 298.3 L480.4 299.8 L481.4 301.3 L482.4 302.7 L483.4 304.1 L484.4 305.5 L485.3 306.9 L486.3 308.2 L487.3 309.5 L488.3 310.7 L489.2 312.0 L490.2 313.2 L491.2 314.4 L492.2 315.5 L493.2 316.7 L494.1 317.8 L495.1 318.9 L496.1 319.9 L497.1 321.0 L498.0 322.0 L499.0 323.0 L500.0 324.0 L501.0 324.9 L502.0 325.9 L502.9 326.8 L503.9 327.7 L504.9 328.6 L505.9 329.4 L506.9 330.3 L507.8 331.1 L508.8 331.9 L509.8 332.7 L510.8 333.5 L511.7 334.2 L512.7 335.0 L513.7 335.7 L514.7 336.4 L515.7 337.1 L516.6 337.8 L517.6 338.5 L518.6 339.2 L519.6 339.8 L520.5 340.4 L521.5 341.1 L522.5 341.7 L523.5 342.3 L524.5 342.9 L525.4 343.4 L526.4 344.0 L527.4 344.6 L528.4 345.1 L529.4 345.6 L530.3 346.2 L531.3 346.7 L532.3 347.2 L533.3 347.7 L534.2 348.2 L535.2 348.6 L536.2 349.1 L537.2 349.6 L538.2 350.0 L539.1 350.5 L540.1 350.9 L541.1 351.3 L542.1 351.7 L543.0 352.2 L544.0 352.6 L545.0 353.0 L546.0 353.3 L547.0 353.7 L547.9 354.1 L548.9 354.5 L549.9 354.8 L550.9 355.2 L551.8 355.5 L552.8 355.9 L553.8 356.2 L554.8 356.6 L555.8 356.9 L556.7 357.2 L557.7 357.5 L558.7 357.8 L559.7 358.1 L560.7 358.4 L561.6 358.7 L562.6 359.0 L563.6 359.3 L564.6 359.6 L565.5 359.8 L566.5 360.1 L567.5 360.4 L568.5 360.6 L569.5 360.9 L570.4 361.1 L571.4 361.4 L572.4 361.6 L573.4 361.9 L574.3 362.1 L575.3 362.3 L576.3 362.6 L577.3 362.8 L578.3 363.0 L579.2 363.2 L580.2 363.4 L581.2 363.6 L582.2 363.8 L583.1 364.0 L584.1 364.2 L585.1 364.4 L586.1 364.6 L587.1 364.8 L588.0 365.0 L589.0 365.2 L590.0 365.4 L591.0 365.5 L592.0 365.7 L592.9 365.9 L593.9 366.0 L594.9 366.2 L595.9 366.4 L596.8 366.5 L597.8 366.7 L598.8 366.8 L599.8 367.0 L600.8 367.1 L601.7 367.3 L602.7 367.4 L603.7 367.6 L604.7 367.7 L605.6 367.9 L606.6 368.0 L607.6 368.1 L608.6 368.3 L609.6 368.4 L610.5 368.5 L611.5 368.6 L612.5 368.8 L613.5 368.9 L614.4 369.0 L615.4 369.1 L616.4 369.2 L617.4 369.4 L618.4 369.5 L619.3 369.6 L620.3 369.7 L621.3 369.8 L622.3 369.9 L623.3 370.0 L624.2 370.1 L625.2 370.2 L626.2 370.3 L627.2 370.4 L628.1 370.5 L629.1 370.6 L630.1 370.7 L631.1 370.8 L632.1 370.9 L633.0 370.9 L634.0 371.0 L635.0 371.1 L636.0 371.2 L636.9 371.3 L637.9 371.4 L638.9 371.4 L639.9 371.5 L640.9 371.6 L641.8 371.7 L642.8 371.7 L643.8 371.8 L644.8 371.9 L645.8 372.0 L646.7 372.0 L647.7 372.1 L648.7 372.2 L649.7 372.2 L650.6 372.3 L651.6 372.4 L652.6 372.4 L653.6 372.5 L654.6 372.5 L655.5 372.6 L656.5 372.7 L657.5 372.7 L658.5 372.8 L659.4 372.8 L660.4 372.9 L661.4 372.9 L662.4 373.0 L663.4 373.0 L664.3 373.1 L665.3 373.1 L666.3 373.2 L667.3 373.2 L668.2 373.3 L669.2 373.3 L670.2 373.4 L671.2 373.4 L672.2 373.5 L673.1 373.5 L674.1 373.5 L675.1 373.6 L676.1 373.6 L677.1 373.7 L678.0 373.7 L679.0 373.7 L680.0 373.8 L681.0 373.8 L681.9 373.9 L682.9 373.9 L683.9 373.9 L684.9 374.0 L685.9 374.0 L686.8 374.0 L687.8 374.1 L688.8 374.1 L689.8 374.1 L690.7 374.1 L691.7 374.2 L692.7 374.2 L693.7 374.2 L694.7 374.3 L695.6 374.3 L696.6 374.3 L697.6 374.3 L698.6 374.4 L699.5 374.4 L700.5 374.4 L701.5 374.4 L702.5 374.5 L703.5 374.5 L704.4 374.5 L705.4 374.5 L706.4 374.5 L707.4 374.6 L708.4 374.6 L709.3 374.6 L710.3 374.6 L711.3 374.6 L712.3 374.6 L713.2 374.7 L714.2 374.7 L715.2 374.7 L716.2 374.7 L717.2 374.7 L718.1 374.7 L719.1 374.7 L720.1 374.8 L721.1 374.8 L722.0 374.8 L723.0 374.8 L724.0 374.8 L725.0 374.8 L726.0 374.8 L726.9 374.8 L727.9 374.8 L728.9 374.9 L729.9 374.9 L730.8 374.9 L731.8 374.9 L732.8 374.9 L733.8 374.9 L734.8 374.9 L735.7 374.9 L736.7 374.9 L737.7 374.9 L738.7 374.9 L739.7 374.9 L740.6 374.9 L741.6 374.9 L742.6 374.9 L743.6 374.9 L744.5 374.9 L745.5 374.9 L746.5 374.9" stroke="#8fbecb" stroke-width="7"/>
<polyline points="161.2,400.0 162.2,398.1 163.1,396.6 164.1,395.4 165.1,394.4 166.1,393.6 167.2,392.9 168.3,392.4 169.4,391.9 170.6,391.5 171.8,391.2 173.0,390.9 174.3,390.6 175.6,390.4 176.9,390.2 178.3,389.9 179.7,389.7 181.2,389.5 182.7,389.3 184.3,389.1 185.9,388.9 187.5,388.7 189.2,388.5 190.9,388.4 192.7,388.2 194.6,388.0 196.5,387.8 198.4,387.6 200.4,387.5 202.5,387.3 204.6,387.1 206.8,386.9 209.1,386.7 211.4,386.5 213.8,386.2 216.3,386.0 218.8,385.7 221.4,385.3 224.1,385.0 226.9,384.5 229.7,384.1 232.7,383.5 235.7,382.9 238.8,382.2 242.0,381.5 245.3,380.6 248.6,379.7 252.1,378.6 255.7,377.4 259.4,376.2 263.2,374.7 267.1,373.2 271.1,371.4 275.3,369.5 279.5,367.3 283.9,364.8 288.5,362.1 293.1,359.0 297.9,355.4 302.8,351.4 307.9,346.7 313.1,341.4 318.5,335.2 324.0,327.9 329.7,319.4 335.6,309.4 341.6,297.5 347.8,283.5 354.2,266.9 360.8,247.6 367.5,225.3 374.5,200.7 381.7,175.0 389.1,151.0 396.7,132.6 404.5,124.4 412.5,129.0 420.8,145.6 429.3,170.4 438.1,198.7 447.2,226.7 456.5,252.1 466.0,274.1 475.9,292.6 486.0,307.9 496.5,320.6 507.2,331.1 518.3,339.9 529.7,347.4 541.4,353.9 553.4,359.4 565.9,363.9 578.6,367.4 591.8,370.2 605.3,372.4 619.3,374.2 633.6,375.6 648.4,376.8 663.6,377.7 679.2,378.4 695.3,378.9 711.9,379.3 728.9,379.5 746.5,379.6" stroke="none" marker-start="url(#m2)" marker-mid="url(#m2)" marker-end="url(#m2)"/>
<path d="M160.6 391.9 L161.6 391.8 L162.5 391.6 L163.5 391.5 L164.5 391.4 L165.5 391.3 L166.5 391.2 L167.4 391.0 L168.4 390.9 L169.4 390.8 L170.4 390.6 L171.3 390.5 L172.3 390.4 L173.3 390.3 L174.3 390.1 L175.3 390.0 L176.2 389.9 L177.2 389.7 L178.2 389.6 L179.2 389.5 L180.2 389.4 L181.1 389.2 L182.1 389.1 L183.1 389.0 L184.1 388.9 L185.0 388.7 L186.0 388.6 L187.0 388.5 L188.0 388.4 L189.0 388.3 L189.9 388.2 L190.9 388.1 L191.9 387.9 L192.9 387.8 L193.8 387.7 L194.8 387.6 L195.8 387.5 L196.8 387.4 L197.8 387.3 L198.7 387.2 L199.7 387.1 L200.7 387.0 L201.7 386.9 L202.6 386.8 L203.6 386.7 L204.6 386.6 L205.6 386.5 L206.6 386.4 L207.5 386.3 L208.5 386.1 L209.5 386.0 L210.5 385.9 L211.5 385.8 L212.4 385.7 L213.4 385.5 L214.4 385.4 L215.4 385.3 L216.3 385.2 L217.3 385.0 L218.3 384.9 L219.3 384.7 L220.3 384.6 L221.2 384.4 L222.2 384.3 L223.2 384.1 L224.2 383.9 L225.1 383.8 L226.1 383.6 L227.1 383.4 L228.1 383.2 L229.1 383.0 L230.0 382.8 L231.0 382.6 L232.0 382.4 L233.0 382.2 L233.9 382.0 L234.9 381.7 L235.9 381.5 L236.9 381.3 L237.9 381.0 L238.8 380.8 L239.8 380.5 L240.8 380.3 L241.8 380.0 L242.8 379.7 L243.7 379.4 L244.7 379.1 L245.7 378.8 L246.7 378.5 L247.6 378.2 L248.6 377.9 L249.6 377.6 L250.6 377.3 L251.6 377.0 L252.5 376.6 L253.5 376.3 L254.5 375.9 L255.5 375.6 L256.4 375.2 L257.4 374.8 L258.4 374.4 L259.4 374.0 L260.4 373.7 L261.3 373.2 L262.3 372.8 L263.3 372.4 L264.3 372.0 L265.2 371.6 L266.2 371.1 L267.2 370.7 L268.2 370.2 L269.2 369.7 L270.1 369.3 L271.1 368.8 L272.1 368.3 L273.1 367.8 L274.1 367.2 L275.0 366.7 L276.0 366.2 L277.0 365.6 L278.0 365.1 L278.9 364.5 L279.9 363.9 L280.9 363.3 L281.9 362.7 L282.9 362.1 L283.8 361.5 L284.8 360.8 L285.8 360.2 L286.8 359.5 L287.7 358.8 L288.7 358.1 L289.7 357.4 L290.7 356.7 L291.7 356.0 L292.6 355.2 L293.6 354.4 L294.6 353.6 L295.6 352.8 L296.6 352.0 L297.5 351.2 L298.5 350.3 L299.5 349.4 L300.5 348.6 L301.4 347.6 L302.4 346.7 L303.4 345.8 L304.4 344.8 L305.4 343.8 L306.3 342.8 L307.3 341.7 L308.3 340.7 L309.3 339.6 L310.2 338.5 L311.2 337.4 L312.2 336.2 L313.2 335.0 L314.2 333.8 L315.1 332.6 L316.1 331.3 L317.1 330.0 L318.1 328.7 L319.0 327.4 L320.0 326.0 L321.0 324.6 L322.0 323.1 L323.0 321.7 L323.9 320.2 L324.9 318.6 L325.9 317.1 L326.9 315.5 L327.9 313.8 L328.8 312.1 L329.8 310.4 L330.8 308.7 L331.8 306.9 L332.7 305.0 L333.7 303.2 L334.7 301.3 L335.7 299.3 L336.7 297.3 L337.6 295.3 L338.6 293.2 L339.6 291.1 L340.6 288.9 L341.5 286.7 L342.5 284.5 L343.5 282.2 L344.5 279.8 L345.5 277.5 L346.4 275.0 L347.4 272.6 L348.4 270.0 L349.4 267.5 L350.3 264.9 L351.3 262.2 L352.3 259.5 L353.3 256.8 L354.3 254.0 L355.2 251.1 L356.2 248.3 L357.2 245.4 L358.2 242.4 L359.2 239.4 L360.1 236.4 L361.1 233.4 L362.1 230.3 L363.1 227.2 L364.0 224.1 L365.0 221.0 L366.0 217.8 L367.0 214.6 L368.0 211.4 L368.9 208.3 L369.9 205.1 L370.9 201.9 L371.9 198.7 L372.8 195.6 L373.8 192.4 L374.8 189.3 L375.8 186.3 L376.8 183.2 L377.7 180.2 L378.7 177.3 L379.7 174.5 L380.7 171.7 L381.6 168.9 L382.6 166.3 L383.6 163.8 L384.6 161.3 L385.6 159.0 L386.5 156.8 L387.5 154.7 L388.5 152.7 L389.5 150.8 L390.5 149.1 L391.4 147.6 L392.4 146.1 L393.4 144.9 L394.4 143.8 L395.3 142.9 L396.3 142.1 L397.3 141.5 L398.3 141.0 L399.3 140.8 L400.2 140.7 L401.2 140.7 L402.2 141.0 L403.2 141.4 L404.1 142.0 L405.1 142.7 L406.1 143.6 L407.1 144.6 L408.1 145.8 L409.0 147.1 L410.0 148.6 L411.0 150.2 L412.0 151.9 L413.0 153.7 L413.9 155.7 L414.9 157.7 L415.9 159.8 L416.9 162.1 L417.8 164.4 L418.8 166.8 L419.8 169.3 L420.8 171.8 L421.8 174.4 L422.7 177.0 L423.7 179.7 L424.7 182.4 L425.7 185.1 L426.6 187.9 L427.6 190.6 L428.6 193.4 L429.6 196.3 L430.6 199.1 L431.5 201.9 L432.5 204.7 L433.5 207.5 L434.5 210.3 L435.4 213.1 L436.4 215.9 L437.4 218.6 L438.4 221.3 L439.4 224.0 L440.3 226.7 L441.3 229.4 L442.3 232.0 L443.3 234.6 L444.3 237.1 L445.2 239.6 L446.2 242.1 L447.2 244.6 L448.2 247.0 L449.1 249.4 L450.1 251.7 L451.1 254.0 L452.1 256.3 L453.1 258.5 L454.0 260.7 L455.0 262.9 L456.0 265.0 L457.0 267.1 L457.9 269.1 L458.9 271.1 L459.9 273.1 L460.9 275.0 L461.9 276.9 L462.8 278.8 L463.8 280.6 L464.8 282.4 L465.8 284.2 L466.7 285.9 L467.7 287.6 L468.7 289.2 L469.7 290.8 L470.7 292.4 L471.6 294.0 L472.6 295.5 L473.6 297.0 L474.6 298.5 L475.6 299.9 L476.5 301.3 L477.5 302.7 L478.5 304.0 L479.5 305.4 L480.4 306.7 L481.4 307.9 L482.4 309.2 L483.4 310.4 L484.4 311.6 L485.3 312.8 L486.3 313.9 L487.3 315.0 L488.3 316.1 L489.2 317.2 L490.2 318.3 L491.2 319.3 L492.2 320.3 L493.2 321.3 L494.1 322.3 L495.1 323.2 L496.1 324.2 L497.1 325.1 L498.0 326.0 L499.0 326.9 L500.0 327.7 L501.0 328.6 L502.0 329.4 L502.9 330.2 L503.9 331.0 L504.9 331.8 L505.9 332.6 L506.9 333.3 L507.8 334.1 L508.8 334.8 L509.8 335.5 L510.8 336.2 L511.7 336.9 L512.7 337.5 L513.7 338.2 L514.7 338.8 L515.7 339.5 L516.6 340.1 L517.6 340.7 L518.6 341.3 L519.6 341.9 L520.5 342.5 L521.5 343.0 L522.5 343.6 L523.5 344.1 L524.5 344.7 L525.4 345.2 L526.4 345.7 L527.4 346.2 L528.4 346.7 L529.4 347.2 L530.3 347.7 L531.3 348.1 L532.3 348.6 L533.3 349.1 L534.2 349.5 L535.2 349.9 L536.2 350.4 L537.2 350.8 L538.2 351.2 L539.1 351.6 L540.1 352.0 L541.1 352.4 L542.1 352.8 L543.0 353.2 L544.0 353.5 L545.0 353.9 L546.0 354.3 L547.0 354.6 L547.9 355.0 L548.9 355.3 L549.9 355.6 L550.9 356.0 L551.8 356.3 L552.8 356.6 L553.8 356.9 L554.8 357.2 L555.8 357.5 L556.7 357.8 L557.7 358.1 L558.7 358.4 L559.7 358.7 L560.7 359.0 L561.6 359.3 L562.6 359.5 L563.6 359.8 L564.6 360.1 L565.5 360.3 L566.5 360.6 L567.5 360.8 L568.5 361.1 L569.5 361.3 L570.4 361.5 L571.4 361.8 L572.4 362.0 L573.4 362.2 L574.3 362.4 L575.3 362.7 L576.3 362.9 L577.3 363.1 L578.3 363.3 L579.2 363.5 L580.2 363.7 L581.2 363.9 L582.2 364.1 L583.1 364.3 L584.1 364.5 L585.1 364.7 L586.1 364.8 L587.1 365.0 L588.0 365.2 L589.0 365.4 L590.0 365.5 L591.0 365.7 L592.0 365.9 L592.9 366.0 L593.9 366.2 L594.9 366.4 L595.9 366.5 L596.8 366.7 L597.8 366.8 L598.8 367.0 L599.8 367.1 L600.8 367.3 L601.7 367.4 L602.7 367.5 L603.7 367.7 L604.7 367.8 L605.6 368.0 L606.6 368.1 L607.6 368.2 L608.6 368.3 L609.6 368.5 L610.5 368.6 L611.5 368.7 L612.5 368.8 L613.5 368.9 L614.4 369.1 L615.4 369.2 L616.4 369.3 L617.4 369.4 L618.4 369.5 L619.3 369.6 L620.3 369.7 L621.3 369.8 L622.3 369.9 L623.3 370.0 L624.2 370.1 L625.2 370.2 L626.2 370.3 L627.2 370.4 L628.1 370.5 L629.1 370.6 L630.1 370.7 L631.1 370.8 L632.1 370.9 L633.0 371.0 L634.0 371.0 L635.0 371.1 L636.0 371.2 L636.9 371.3 L637.9 371.4 L638.9 371.4 L639.9 371.5 L640.9 371.6 L641.8 371.7 L642.8 371.7 L643.8 371.8 L644.8 371.9 L645.8 372.0 L646.7 372.0 L647.7 372.1 L648.7 372.2 L649.7 372.2 L650.6 372.3 L651.6 372.3 L652.6 372.4 L653.6 372.5 L654.6 372.5 L655.5 372.6 L656.5 372.6 L657.5 372.7 L658.5 372.8 L659.4 372.8 L660.4 372.9 L661.4 372.9 L662.4 373.0 L663.4 373.0 L664.3 373.1 L665.3 373.1 L666.3 373.2 L667.3 373.2 L668.2 373.3 L669.2 373.3 L670.2 373.4 L671.2 373.4 L672.2 373.5 L673.1 373.5 L674.1 373.5 L675.1 373.6 L676.1 373.6 L677.1 373.7 L678.0 373.7 L679.0 373.7 L680.0 373.8 L681.0 373.8 L681.9 373.8 L682.9 373.9 L683.9 373.9 L684.9 374.0 L685.9 374.0 L686.8 374.0 L687.8 374.1 L688.8 374.1 L689.8 374.1 L690.7 374.1 L691.7 374.2 L692.7 374.2 L693.7 374.2 L694.7 374.3 L695.6 374.3 L696.6 374.3 L697.6 374.3 L698.6 374.4 L699.5 374.4 L700.5 374.4 L701.5 374.4 L702.5 374.5 L703.5 374.5 L704.4 374.5 L705.4 374.5 L706.4 374.5 L707.4 374.6 L708.4 374.6 L709.3 374.6 L710.3 374.6 L711.3 374.6 L712.3 374.7 L713.2 374.7 L714.2 374.7 L715.2 374.7 L716.2 374.7 L717.2 374.7 L718.1 374.8 L719.1 374.8 L720.1 374.8 L721.1 374.8 L722.0 374.8 L723.0 374.8 L724.0 374.8 L725.0 374.9 L726.0 374.9 L726.9 374.9 L727.9 374.9 L728.9 374.9 L729.9 374.9 L730.8 374.9 L731.8 374.9 L732.8 374.9 L733.8 374.9 L734.8 374.9 L735.7 375.0 L736.7 375.0 L737.7 375.0 L738.7 375.0 L739.7 375.0 L740.6 375.0 L741.6 375.0 L742.6 375.0 L743.6 375.0 L744.5 375.0 L745.5 375.0 L746.5 375.0" stroke="#d1e8e1" stroke-width="7"/>
<polyline points="161.2,399.6 162.2,397.8 163.1,396.3 164.1,395.1 165.1,394.1 166.1,393.3 167.2,392.6 168.3,392.1 169.4,391.6 170.6,391.2 171.8,390.9 173.0,390.6 174.3,390.4 175.6,390.1 176.9,389.9 178.3,389.7 179.7,389.5 181.2,389.3 182.7,389.1 184.3,388.9 185.9,388.7 187.5,388.5 189.2,388.3 190.9,388.1 192.7,387.9 194.6,387.7 196.5,387.4 198.4,387.2 200.4,387.0 202.5,386.8 204.6,386.6 206.8,386.3 209.1,386.1 211.4,385.8 213.8,385.5 216.3,385.2 218.8,384.8 221.4,384.4 224.1,383.9 226.9,383.4 229.7,382.9 232.7,382.3 235.7,381.6 238.8,380.8 242.0,379.9 245.3,379.0 248.6,377.9 252.1,376.8 255.7,375.5 259.4,374.0 263.2,372.5 267.1,370.7 271.1,368.8 275.3,366.6 279.5,364.1 283.9,361.4 288.5,358.3 293.1,354.8 297.9,350.9 302.8,346.3 307.9,341.1 313.1,335.1 318.5,328.1 324.0,320.1 329.7,310.6 335.6,299.5 341.6,286.6 347.8,271.6 354.2,254.2 360.8,234.4 367.5,212.8 374.5,190.3 381.7,168.9 389.1,151.6 396.7,141.9 404.5,142.2 412.5,152.9 420.8,171.9 429.3,195.6 438.1,220.6 447.2,244.5 456.5,266.0 466.0,284.7 475.9,300.5 486.0,313.7 496.5,324.8 507.2,334.1 518.3,342.0 529.7,348.9 541.4,355.0 553.4,360.1 565.9,364.3 578.6,367.7 591.8,370.4 605.3,372.5 619.3,374.2 633.6,375.6 648.4,376.8 663.6,377.7 679.2,378.4 695.3,378.9 711.9,379.3 728.9,379.5 746.5,379.6" stroke="none" marker-start="url(#m3)" marker-mid="url(#m3)" marker-end="url(#m3)"/>
<path d="M160.6 391.6 L161.6 391.5 L162.5 391.4 L163.5 391.2 L164.5 391.1 L165.5 391.0 L166.5 390.9 L167.4 390.8 L168.4 390.7 L169.4 390.6 L170.4 390.4 L171.3 390.3 L172.3 390.2 L173.3 390.1 L174.3 389.9 L175.3 389.8 L176.2 389.7 L177.2 389.6 L178.2 389.5 L179.2 389.3 L180.2 389.2 L181.1 389.1 L182.1 389.0 L183.1 388.8 L184.1 388.7 L185.0 388.6 L186.0 388.5 L187.0 388.4 L188.0 388.2 L189.0 388.1 L189.9 388.0 L190.9 387.9 L191.9 387.8 L192.9 387.6 L193.8 387.5 L194.8 387.4 L195.8 387.3 L196.8 387.2 L197.8 387.1 L198.7 386.9 L199.7 386.8 L200.7 386.7 L201.7 386.6 L202.6 386.5 L203.6 386.3 L204.6 386.2 L205.6 386.1 L206.6 386.0 L207.5 385.8 L208.5 385.7 L209.5 385.6 L210.5 385.4 L211.5 385.3 L212.4 385.2 L213.4 385.0 L214.4 384.9 L215.4 384.7 L216.3 384.6 L217.3 384.4 L218.3 384.2 L219.3 384.1 L220.3 383.9 L221.2 383.7 L222.2 383.6 L223.2 383.4 L224.2 383.2 L225.1 383.0 L226.1 382.8 L227.1 382.6 L228.1 382.4 L229.1 382.2 L230.0 381.9 L231.0 381.7 L232.0 381.5 L233.0 381.2 L233.9 381.0 L234.9 380.7 L235.9 380.5 L236.9 380.2 L237.9 380.0 L238.8 379.7 L239.8 379.4 L240.8 379.1 L241.8 378.8 L242.8 378.6 L243.7 378.3 L244.7 377.9 L245.7 377.6 L246.7 377.3 L247.6 377.0 L248.6 376.6 L249.6 376.3 L250.6 376.0 L251.6 375.6 L252.5 375.2 L253.5 374.9 L254.5 374.5 L255.5 374.1 L256.4 373.7 L257.4 373.3 L258.4 372.9 L259.4 372.5 L260.4 372.1 L261.3 371.7 L262.3 371.2 L263.3 370.8 L264.3 370.3 L265.2 369.9 L266.2 369.4 L267.2 368.9 L268.2 368.4 L269.2 367.9 L270.1 367.4 L271.1 366.9 L272.1 366.4 L273.1 365.8 L274.1 365.3 L275.0 364.7 L276.0 364.2 L277.0 363.6 L278.0 363.0 L278.9 362.4 L279.9 361.8 L280.9 361.2 L281.9 360.5 L282.9 359.9 L283.8 359.2 L284.8 358.5 L285.8 357.8 L286.8 357.1 L287.7 356.4 L288.7 355.7 L289.7 354.9 L290.7 354.2 L291.7 353.4 L292.6 352.6 L293.6 351.8 L294.6 351.0 L295.6 350.1 L296.6 349.3 L297.5 348.4 L298.5 347.5 L299.5 346.6 L300.5 345.7 L301.4 344.7 L302.4 343.8 L303.4 342.8 L304.4 341.8 L305.4 340.7 L306.3 339.7 L307.3 338.6 L308.3 337.5 L309.3 336.4 L310.2 335.3 L311.2 334.1 L312.2 332.9 L313.2 331.7 L314.2 330.5 L315.1 329.2 L316.1 327.9 L317.1 326.6 L318.1 325.2 L319.0 323.9 L320.0 322.5 L321.0 321.1 L322.0 319.6 L323.0 318.1 L323.9 316.6 L324.9 315.0 L325.9 313.5 L326.9 311.9 L327.9 310.2 L328.8 308.5 L329.8 306.8 L330.8 305.1 L331.8 303.3 L332.7 301.5 L333.7 299.7 L334.7 297.8 L335.7 295.9 L336.7 293.9 L337.6 291.9 L338.6 289.9 L339.6 287.9 L340.6 285.8 L341.5 283.6 L342.5 281.5 L343.5 279.3 L344.5 277.0 L345.5 274.8 L346.4 272.5 L347.4 270.1 L348.4 267.7 L349.4 265.3 L350.3 262.9 L351.3 260.4 L352.3 257.9 L353.3 255.4 L354.3 252.8 L355.2 250.2 L356.2 247.6 L357.2 245.0 L358.2 242.3 L359.2 239.7 L360.1 237.0 L361.1 234.3 L362.1 231.5 L363.1 228.8 L364.0 226.1 L365.0 223.3 L366.0 220.6 L367.0 217.9 L368.0 215.2 L368.9 212.4 L369.9 209.8 L370.9 207.1 L371.9 204.4 L372.8 201.8 L373.8 199.2 L374.8 196.7 L375.8 194.2 L376.8 191.8 L377.7 189.4 L378.7 187.0 L379.7 184.8 L380.7 182.6 L381.6 180.5 L382.6 178.5 L383.6 176.5 L384.6 174.7 L385.6 172.9 L386.5 171.3 L387.5 169.7 L388.5 168.3 L389.5 167.0 L390.5 165.8 L391.4 164.7 L392.4 163.7 L393.4 162.9 L394.4 162.2 L395.3 161.6 L396.3 161.2 L397.3 160.9 L398.3 160.7 L399.3 160.6 L400.2 160.7 L401.2 160.9 L402.2 161.3 L403.2 161.7 L404.1 162.3 L405.1 163.1 L406.1 163.9 L407.1 164.8 L408.1 165.9 L409.0 167.1 L410.0 168.3 L411.0 169.7 L412.0 171.2 L413.0 172.7 L413.9 174.4 L414.9 176.1 L415.9 177.9 L416.9 179.8 L417.8 181.7 L418.8 183.7 L419.8 185.7 L420.8 187.8 L421.8 190.0 L422.7 192.1 L423.7 194.4 L424.7 196.6 L425.7 198.9 L426.6 201.2 L427.6 203.5 L428.6 205.8 L429.6 208.2 L430.6 210.6 L431.5 212.9 L432.5 215.3 L433.5 217.6 L434.5 220.0 L435.4 222.4 L436.4 224.7 L437.4 227.1 L438.4 229.4 L439.4 231.7 L440.3 234.0 L441.3 236.3 L442.3 238.5 L443.3 240.7 L444.3 243.0 L445.2 245.2 L446.2 247.3 L447.2 249.5 L448.2 251.6 L449.1 253.7 L450.1 255.7 L451.1 257.8 L452.1 259.8 L453.1 261.8 L454.0 263.7 L455.0 265.6 L456.0 267.5 L457.0 269.4 L457.9 271.2 L458.9 273.0 L459.9 274.8 L460.9 276.5 L461.9 278.3 L462.8 280.0 L463.8 281.6 L464.8 283.3 L465.8 284.9 L466.7 286.4 L467.7 288.0 L468.7 289.5 L469.7 291.0 L470.7 292.5 L471.6 293.9 L472.6 295.3 L473.6 296.7 L474.6 298.1 L475.6 299.4 L476.5 300.8 L477.5 302.0 L478.5 303.3 L479.5 304.6 L480.4 305.8 L481.4 307.0 L482.4 308.2 L483.4 309.3 L484.4 310.5 L485.3 311.6 L486.3 312.7 L487.3 313.7 L488.3 314.8 L489.2 315.8 L490.2 316.8 L491.2 317.8 L492.2 318.8 L493.2 319.8 L494.1 320.7 L495.1 321.6 L496.1 322.6 L497.1 323.4 L498.0 324.3 L499.0 325.2 L500.0 326.0 L501.0 326.8 L502.0 327.7 L502.9 328.5 L503.9 329.2 L504.9 330.0 L505.9 330.8 L506.9 331.5 L507.8 332.2 L508.8 332.9 L509.8 333.6 L510.8 334.3 L511.7 335.0 L512.7 335.7 L513.7 336.3 L514.7 337.0 L515.7 337.6 L516.6 338.2 L517.6 338.8 L518.6 339.4 L519.6 340.0 L520.5 340.6 L521.5 341.2 L522.5 341.7 L523.5 342.3 L524.5 342.8 L525.4 343.3 L526.4 343.8 L527.4 344.4 L528.4 344.9 L529.4 345.3 L530.3 345.8 L531.3 346.3 L532.3 346.8 L533.3 347.2 L534.2 347.7 L535.2 348.1 L536.2 348.6 L537.2 349.0 L538.2 349.4 L539.1 349.8 L540.1 350.2 L541.1 350.7 L542.1 351.0 L543.0 351.4 L544.0 351.8 L545.0 352.2 L546.0 352.6 L547.0 352.9 L547.9 353.3 L548.9 353.6 L549.9 354.0 L550.9 354.3 L551.8 354.7 L552.8 355.0 L553.8 355.3 L554.8 355.6 L555.8 356.0 L556.7 356.3 L557.7 356.6 L558.7 356.9 L559.7 357.2 L560.7 357.5 L561.6 357.7 L562.6 358.0 L563.6 358.3 L564.6 358.6 L565.5 358.8 L566.5 359.1 L567.5 359.4 L568.5 359.6 L569.5 359.9 L570.4 360.1 L571.4 360.4 L572.4 360.6 L573.4 360.8 L574.3 361.1 L575.3 361.3 L576.3 361.5 L577.3 361.8 L578.3 362.0 L579.2 362.2 L580.2 362.4 L581.2 362.6 L582.2 362.8 L583.1 363.0 L584.1 363.2 L585.1 363.4 L586.1 363.6 L587.1 363.8 L588.0 364.0 L589.0 364.2 L590.0 364.4 L591.0 364.5 L592.0 364.7 L592.9 364.9 L593.9 365.1 L594.9 365.2 L595.9 365.4 L596.8 365.6 L597.8 365.7 L598.8 365.9 L599.8 366.1 L600.8 366.2 L601.7 366.4 L602.7 366.5 L603.7 366.7 L604.7 366.8 L605.6 366.9 L606.6 367.1 L607.6 367.2 L608.6 367.4 L609.6 367.5 L610.5 367.6 L611.5 367.8 L612.5 367.9 L613.5 368.0 L614.4 368.2 L615.4 368.3 L616.4 368.4 L617.4 368.5 L618.4 368.6 L619.3 368.8 L620.3 368.9 L621.3 369.0 L622.3 369.1 L623.3 369.2 L624.2 369.3 L625.2 369.4 L626.2 369.5 L627.2 369.6 L628.1 369.7 L629.1 369.8 L630.1 369.9 L631.1 370.0 L632.1 370.1 L633.0 370.2 L634.0 370.3 L635.0 370.4 L636.0 370.5 L636.9 370.6 L637.9 370.7 L638.9 370.8 L639.9 370.9 L640.9 370.9 L641.8 371.0 L642.8 371.1 L643.8 371.2 L644.8 371.3 L645.8 371.4 L646.7 371.4 L647.7 371.5 L648.7 371.6 L649.7 371.7 L650.6 371.7 L651.6 371.8 L652.6 371.9 L653.6 371.9 L654.6 372.0 L655.5 372.1 L656.5 372.1 L657.5 372.2 L658.5 372.3 L659.4 372.3 L660.4 372.4 L661.4 372.5 L662.4 372.5 L663.4 372.6 L664.3 372.6 L665.3 372.7 L666.3 372.8 L667.3 372.8 L668.2 372.9 L669.2 372.9 L670.2 373.0 L671.2 373.0 L672.2 373.1 L673.1 373.1 L674.1 373.2 L675.1 373.2 L676.1 373.3 L677.1 373.3 L678.0 373.4 L679.0 373.4 L680.0 373.5 L681.0 373.5 L681.9 373.5 L682.9 373.6 L683.9 373.6 L684.9 373.7 L685.9 373.7 L686.8 373.8 L687.8 373.8 L688.8 373.8 L689.8 373.9 L690.7 373.9 L691.7 373.9 L692.7 374.0 L693.7 374.0 L694.7 374.0 L695.6 374.1 L696.6 374.1 L697.6 374.2 L698.6 374.2 L699.5 374.2 L700.5 374.2 L701.5 374.3 L702.5 374.3 L703.5 374.3 L704.4 374.4 L705.4 374.4 L706.4 374.4 L707.4 374.4 L708.4 374.5 L709.3 374.5 L710.3 374.5 L711.3 374.5 L712.3 374.6 L713.2 374.6 L714.2 374.6 L715.2 374.6 L716.2 374.7 L717.2 374.7 L718.1 374.7 L719.1 374.7 L720.1 374.7 L721.1 374.8 L722.0 374.8 L723.0 374.8 L724.0 374.8 L725.0 374.8 L726.0 374.9 L726.9 374.9 L727.9 374.9 L728.9 374.9 L729.9 374.9 L730.8 374.9 L731.8 375.0 L732.8 375.0 L733.8 375.0 L734.8 375.0 L735.7 375.0 L736.7 375.0 L737.7 375.0 L738.7 375.0 L739.7 375.1 L740.6 375.1 L741.6 375.1 L742.6 375.1 L743.6 375.1 L744.5 375.1 L745.5 375.1 L746.5 375.1" stroke="#e7efb4" stroke-width="7"/>
<polyline points="161.2,399.3 162.2,397.5 163.1,396.0 164.1,394.8 165.1,393.8 166.1,393.0 167.2,392.4 168.3,391.8 169.4,391.4 170.6,391.0 171.8,390.7 173.0,390.4 174.3,390.2 175.6,389.9 176.9,389.7 178.3,389.5 179.7,389.3 181.2,389.1 182.7,388.9 184.3,388.7 185.9,388.5 187.5,388.3 189.2,388.1 190.9,387.9 192.7,387.7 194.6,387.4 196.5,387.2 198.4,387.0 200.4,386.7 202.5,386.5 204.6,386.2 206.8,385.9 209.1,385.6 211.4,385.3 213.8,385.0 216.3,384.6 218.8,384.2 221.4,383.7 224.1,383.2 226.9,382.6 229.7,382.0 232.7,381.3 235.7,380.6 238.8,379.7 242.0,378.8 245.3,377.8 248.6,376.6 252.1,375.4 255.7,374.0 259.4,372.5 263.2,370.8 267.1,369.0 271.1,366.9 275.3,364.6 279.5,362.0 283.9,359.1 288.5,355.9 293.1,352.2 297.9,348.1 302.8,343.4 307.9,338.0 313.1,331.8 318.5,324.7 324.0,316.5 329.7,307.0 335.6,296.1 341.6,283.5 347.8,269.2 354.2,253.0 360.8,235.2 367.5,216.3 374.5,197.5 381.7,180.4 389.1,167.5 396.7,161.0 404.5,162.6 412.5,172.1 420.8,187.9 429.3,207.6 438.1,228.8 447.2,249.4 456.5,268.4 466.0,285.3 475.9,300.0 486.0,312.5 496.5,323.2 507.2,332.3 518.3,340.2 529.7,347.1 541.4,353.2 553.4,358.5 565.9,362.9 578.6,366.4 591.8,369.2 605.3,371.5 619.3,373.4 633.6,374.9 648.4,376.2 663.6,377.2 679.2,378.1 695.3,378.7 711.9,379.2 728.9,379.5 746.5,379.7" stroke="none" marker-start="url(#m4)" marker-mid="url(#m4)" marker-end="url(#m4)"/>
<path d="M160.6 391.3 L161.6 391.2 L162.5 391.1 L163.5 391.0 L164.5 390.9 L165.5 390.8 L166.5 390.7 L167.4 390.6 L168.4 390.5 L169.4 390.4 L170.4 390.3 L171.3 390.1 L172.3 390.0 L173.3 389.9 L174.3 389.8 L175.3 389.7 L176.2 389.6 L177.2 389.4 L178.2 389.3 L179.2 389.2 L180.2 389.1 L181.1 389.0 L182.1 388.8 L183.1 388.7 L184.1 388.6 L185.0 388.5 L186.0 388.3 L187.0 388.2 L188.0 388.1 L189.0 388.0 L189.9 387.9 L190.9 387.7 L191.9 387.6 L192.9 387.5 L193.8 387.4 L194.8 387.2 L195.8 387.1 L196.8 387.0 L197.8 386.8 L198.7 386.7 L199.7 386.6 L200.7 386.5 L201.7 386.3 L202.6 386.2 L203.6 386.1 L204.6 385.9 L205.6 385.8 L206.6 385.6 L207.5 385.5 L208.5 385.3 L209.5 385.2 L210.5 385.0 L211.5 384.9 L212.4 384.7 L213.4 384.6 L214.4 384.4 L215.4 384.2 L216.3 384.1 L217.3 383.9 L218.3 383.7 L219.3 383.5 L220.3 383.3 L221.2 383.1 L222.2 382.9 L223.2 382.7 L224.2 382.5 L225.1 382.3 L226.1 382.1 L227.1 381.9 L228.1 381.6 L229.1 381.4 L230.0 381.2 L231.0 380.9 L232.0 380.7 L233.0 380.4 L233.9 380.2 L234.9 379.9 L235.9 379.6 L236.9 379.4 L237.9 379.1 L238.8 378.8 L239.8 378.5 L240.8 378.2 L241.8 377.9 L242.8 377.6 L243.7 377.2 L244.7 376.9 L245.7 376.6 L246.7 376.2 L247.6 375.9 L248.6 375.5 L249.6 375.2 L250.6 374.8 L251.6 374.4 L252.5 374.1 L253.5 373.7 L254.5 373.3 L255.5 372.9 L256.4 372.5 L257.4 372.0 L258.4 371.6 L259.4 371.2 L260.4 370.7 L261.3 370.3 L262.3 369.8 L263.3 369.4 L264.3 368.9 L265.2 368.4 L266.2 367.9 L267.2 367.4 L268.2 366.9 L269.2 366.4 L270.1 365.8 L271.1 365.3 L272.1 364.7 L273.1 364.2 L274.1 363.6 L275.0 363.0 L276.0 362.4 L277.0 361.8 L278.0 361.2 L278.9 360.5 L279.9 359.9 L280.9 359.2 L281.9 358.6 L282.9 357.9 L283.8 357.2 L284.8 356.5 L285.8 355.8 L286.8 355.0 L287.7 354.3 L288.7 353.5 L289.7 352.7 L290.7 351.9 L291.7 351.1 L292.6 350.3 L293.6 349.4 L294.6 348.6 L295.6 347.7 L296.6 346.8 L297.5 345.9 L298.5 344.9 L299.5 344.0 L300.5 343.0 L301.4 342.0 L302.4 341.0 L303.4 340.0 L304.4 338.9 L305.4 337.8 L306.3 336.7 L307.3 335.6 L308.3 334.5 L309.3 333.3 L310.2 332.1 L311.2 330.9 L312.2 329.7 L313.2 328.4 L314.2 327.1 L315.1 325.8 L316.1 324.5 L317.1 323.1 L318.1 321.7 L319.0 320.3 L320.0 318.9 L321.0 317.4 L322.0 315.9 L323.0 314.3 L323.9 312.8 L324.9 311.2 L325.9 309.6 L326.9 307.9 L327.9 306.2 L328.8 304.5 L329.8 302.8 L330.8 301.0 L331.8 299.2 L332.7 297.3 L333.7 295.4 L334.7 293.5 L335.7 291.6 L336.7 289.6 L337.6 287.6 L338.6 285.6 L339.6 283.5 L340.6 281.4 L341.5 279.2 L342.5 277.1 L343.5 274.9 L344.5 272.6 L345.5 270.4 L346.4 268.1 L347.4 265.7 L348.4 263.4 L349.4 261.0 L350.3 258.6 L351.3 256.2 L352.3 253.7 L353.3 251.2 L354.3 248.8 L355.2 246.2 L356.2 243.7 L357.2 241.2 L358.2 238.6 L359.2 236.0 L360.1 233.5 L361.1 230.9 L362.1 228.3 L363.1 225.7 L364.0 223.2 L365.0 220.6 L366.0 218.0 L367.0 215.5 L368.0 213.0 L368.9 210.5 L369.9 208.0 L370.9 205.6 L371.9 203.2 L372.8 200.9 L373.8 198.6 L374.8 196.3 L375.8 194.1 L376.8 192.0 L377.7 189.9 L378.7 187.9 L379.7 185.9 L380.7 184.1 L381.6 182.3 L382.6 180.6 L383.6 179.0 L384.6 177.5 L385.6 176.1 L386.5 174.8 L387.5 173.6 L388.5 172.5 L389.5 171.5 L390.5 170.7 L391.4 169.9 L392.4 169.3 L393.4 168.8 L394.4 168.4 L395.3 168.1 L396.3 167.9 L397.3 167.9 L398.3 168.0 L399.3 168.2 L400.2 168.5 L401.2 168.9 L402.2 169.5 L403.2 170.1 L404.1 170.9 L405.1 171.7 L406.1 172.7 L407.1 173.8 L408.1 174.9 L409.0 176.2 L410.0 177.5 L411.0 178.9 L412.0 180.4 L413.0 182.0 L413.9 183.6 L414.9 185.3 L415.9 187.1 L416.9 188.9 L417.8 190.8 L418.8 192.7 L419.8 194.7 L420.8 196.7 L421.8 198.7 L422.7 200.8 L423.7 202.9 L424.7 205.0 L425.7 207.2 L426.6 209.3 L427.6 211.5 L428.6 213.7 L429.6 215.9 L430.6 218.1 L431.5 220.3 L432.5 222.5 L433.5 224.7 L434.5 226.9 L435.4 229.1 L436.4 231.3 L437.4 233.5 L438.4 235.6 L439.4 237.8 L440.3 239.9 L441.3 242.0 L442.3 244.1 L443.3 246.2 L444.3 248.2 L445.2 250.3 L446.2 252.3 L447.2 254.3 L448.2 256.3 L449.1 258.2 L450.1 260.1 L451.1 262.0 L452.1 263.9 L453.1 265.7 L454.0 267.5 L455.0 269.3 L456.0 271.1 L457.0 272.8 L457.9 274.6 L458.9 276.2 L459.9 277.9 L460.9 279.5 L461.9 281.1 L462.8 282.7 L463.8 284.3 L464.8 285.8 L465.8 287.3 L466.7 288.8 L467.7 290.3 L468.7 291.7 L469.7 293.1 L470.7 294.5 L471.6 295.9 L472.6 297.2 L473.6 298.5 L474.6 299.8 L475.6 301.1 L476.5 302.3 L477.5 303.5 L478.5 304.8 L479.5 305.9 L480.4 307.1 L481.4 308.2 L482.4 309.4 L483.4 310.5 L484.4 311.5 L485.3 312.6 L486.3 313.6 L487.3 314.7 L488.3 315.7 L489.2 316.7 L490.2 317.6 L491.2 318.6 L492.2 319.5 L493.2 320.4 L494.1 321.3 L495.1 322.2 L496.1 323.1 L497.1 324.0 L498.0 324.8 L499.0 325.6 L500.0 326.4 L501.0 327.2 L502.0 328.0 L502.9 328.8 L503.9 329.5 L504.9 330.3 L505.9 331.0 L506.9 331.7 L507.8 332.4 L508.8 333.1 L509.8 333.8 L510.8 334.5 L511.7 335.1 L512.7 335.8 L513.7 336.4 L514.7 337.0 L515.7 337.6 L516.6 338.2 L517.6 338.8 L518.6 339.4 L519.6 340.0 L520.5 340.6 L521.5 341.1 L522.5 341.6 L523.5 342.2 L524.5 342.7 L525.4 343.2 L526.4 343.7 L527.4 344.2 L528.4 344.7 L529.4 345.2 L530.3 345.7 L531.3 346.1 L532.3 346.6 L533.3 347.1 L534.2 347.5 L535.2 347.9 L536.2 348.4 L537.2 348.8 L538.2 349.2 L539.1 349.6 L540.1 350.0 L541.1 350.4 L542.1 350.8 L543.0 351.2 L544.0 351.6 L545.0 351.9 L546.0 352.3 L547.0 352.7 L547.9 353.0 L548.9 353.4 L549.9 353.7 L550.9 354.0 L551.8 354.4 L552.8 354.7 L553.8 355.0 L554.8 355.3 L555.8 355.7 L556.7 356.0 L557.7 356.3 L558.7 356.6 L559.7 356.9 L560.7 357.1 L561.6 357.4 L562.6 357.7 L563.6 358.0 L564.6 358.3 L565.5 358.5 L566.5 358.8 L567.5 359.0 L568.5 359.3 L569.5 359.5 L570.4 359.8 L571.4 360.0 L572.4 360.3 L573.4 360.5 L574.3 360.7 L575.3 361.0 L576.3 361.2 L577.3 361.4 L578.3 361.6 L579.2 361.9 L580.2 362.1 L581.2 362.3 L582.2 362.5 L583.1 362.7 L584.1 362.9 L585.1 363.1 L586.1 363.3 L587.1 363.5 L588.0 363.7 L589.0 363.9 L590.0 364.0 L591.0 364.2 L592.0 364.4 L592.9 364.6 L593.9 364.8 L594.9 364.9 L595.9 365.1 L596.8 365.3 L597.8 365.4 L598.8 365.6 L599.8 365.7 L600.8 365.9 L601.7 366.1 L602.7 366.2 L603.7 366.4 L604.7 366.5 L605.6 366.7 L606.6 366.8 L607.6 366.9 L608.6 367.1 L609.6 367.2 L610.5 367.3 L611.5 367.5 L612.5 367.6 L613.5 367.7 L614.4 367.9 L615.4 368.0 L616.4 368.1 L617.4 368.2 L618.4 368.4 L619.3 368.5 L620.3 368.6 L621.3 368.7 L622.3 368.8 L623.3 368.9 L624.2 369.1 L625.2 369.2 L626.2 369.3 L627.2 369.4 L628.1 369.5 L629.1 369.6 L630.1 369.7 L631.1 369.8 L632.1 369.9 L633.0 370.0 L634.0 370.1 L635.0 370.2 L636.0 370.3 L636.9 370.4 L637.9 370.5 L638.9 370.5 L639.9 370.6 L640.9 370.7 L641.8 370.8 L642.8 370.9 L643.8 371.0 L644.8 371.1 L645.8 371.1 L646.7 371.2 L647.7 371.3 L648.7 371.4 L649.7 371.4 L650.6 371.5 L651.6 371.6 L652.6 371.7 L653.6 371.7 L654.6 371.8 L655.5 371.9 L656.5 371.9 L657.5 372.0 L658.5 372.1 L659.4 372.1 L660.4 372.2 L661.4 372.3 L662.4 372.3 L663.4 372.4 L664.3 372.5 L665.3 372.5 L666.3 372.6 L667.3 372.6 L668.2 372.7 L669.2 372.8 L670.2 372.8 L671.2 372.9 L672.2 372.9 L673.1 373.0 L674.1 373.0 L675.1 373.1 L676.1 373.1 L677.1 373.2 L678.0 373.2 L679.0 373.3 L680.0 373.3 L681.0 373.4 L681.9 373.4 L682.9 373.5 L683.9 373.5 L684.9 373.5 L685.9 373.6 L686.8 373.6 L687.8 373.7 L688.8 373.7 L689.8 373.7 L690.7 373.8 L691.7 373.8 L692.7 373.9 L693.7 373.9 L694.7 373.9 L695.6 374.0 L696.6 374.0 L697.6 374.0 L698.6 374.1 L699.5 374.1 L700.5 374.1 L701.5 374.2 L702.5 374.2 L703.5 374.2 L704.4 374.3 L705.4 374.3 L706.4 374.3 L707.4 374.4 L708.4 374.4 L709.3 374.4 L710.3 374.4 L711.3 374.5 L712.3 374.5 L713.2 374.5 L714.2 374.6 L715.2 374.6 L716.2 374.6 L717.2 374.6 L718.1 374.6 L719.1 374.7 L720.1 374.7 L721.1 374.7 L722.0 374.7 L723.0 374.8 L724.0 374.8 L725.0 374.8 L726.0 374.8 L726.9 374.8 L727.9 374.9 L728.9 374.9 L729.9 374.9 L730.8 374.9 L731.8 374.9 L732.8 374.9 L733.8 375.0 L734.8 375.0 L735.7 375.0 L736.7 375.0 L737.7 375.0 L738.7 375.0 L739.7 375.0 L740.6 375.1 L741.6 375.1 L742.6 375.1 L743.6 375.1 L744.5 375.1 L745.5 375.1 L746.5 375.1" stroke="#f5ec8f" stroke-width="7"/>
<polyline points="161.2,399.1 162.2,397.2 163.1,395.8 164.1,394.6 165.1,393.6 166.1,392.8 167.2,392.2 168.3,391.7 169.4,391.2 170.6,390.9 171.8,390.5 173.0,390.3 174.3,390.0 175.6,389.8 176.9,389.6 178.3,389.4 179.7,389.2 181.2,389.0 182.7,388.8 184.3,388.6 185.9,388.4 187.5,388.2 189.2,388.0 190.9,387.7 192.7,387.5 194.6,387.3 196.5,387.0 198.4,386.8 200.4,386.5 202.5,386.2 204.6,385.9 206.8,385.6 209.1,385.3 211.4,384.9 213.8,384.5 216.3,384.1 218.8,383.6 221.4,383.1 224.1,382.5 226.9,381.9 229.7,381.2 232.7,380.5 235.7,379.7 238.8,378.8 242.0,377.8 245.3,376.7 248.6,375.5 252.1,374.2 255.7,372.8 259.4,371.2 263.2,369.4 267.1,367.4 271.1,365.3 275.3,362.8 279.5,360.1 283.9,357.1 288.5,353.7 293.1,349.9 297.9,345.5 302.8,340.6 307.9,334.9 313.1,328.5 318.5,321.1 324.0,312.7 329.7,302.9 335.6,291.8 341.6,279.1 347.8,264.8 354.2,248.9 360.8,231.8 367.5,214.1 374.5,197.0 381.7,182.2 389.1,171.9 396.7,167.9 404.5,171.2 412.5,181.3 420.8,196.8 429.3,215.4 438.1,235.1 447.2,254.2 456.5,272.0 466.0,287.8 475.9,301.6 486.0,313.5 496.5,323.7 507.2,332.5 518.3,340.2 529.7,346.9 541.4,353.0 553.4,358.2 565.9,362.5 578.6,366.0 591.8,368.9 605.3,371.2 619.3,373.1 633.6,374.7 648.4,376.0 663.6,377.1 679.2,377.9 695.3,378.6 711.9,379.1 728.9,379.5 746.5,379.7" stroke="none" marker-start="url(#m5)" marker-mid="url(#m5)" marker-end="url(#m5)"/>
<path d="M160.6 391.0 L161.6 390.9 L162.5 390.8 L163.5 390.7 L164.5 390.6 L165.5 390.5 L166.5 390.4 L167.4 390.3 L168.4 390.2 L169.4 390.1 L170.4 389.9 L171.3 389.8 L172.3 389.7 L173.3 389.6 L174.3 389.5 L175.3 389.4 L176.2 389.2 L177.2 389.1 L178.2 389.0 L179.2 388.9 L180.2 388.7 L181.1 388.6 L182.1 388.5 L183.1 388.4 L184.1 388.2 L185.0 388.1 L186.0 388.0 L187.0 387.8 L188.0 387.7 L189.0 387.6 L189.9 387.4 L190.9 387.3 L191.9 387.2 L192.9 387.0 L193.8 386.9 L194.8 386.7 L195.8 386.6 L196.8 386.4 L197.8 386.3 L198.7 386.2 L199.7 386.0 L200.7 385.8 L201.7 385.7 L202.6 385.5 L203.6 385.4 L204.6 385.2 L205.6 385.1 L206.6 384.9 L207.5 384.7 L208.5 384.5 L209.5 384.4 L210.5 384.2 L211.5 384.0 L212.4 383.8 L213.4 383.6 L214.4 383.4 L215.4 383.2 L216.3 383.0 L217.3 382.8 L218.3 382.6 L219.3 382.4 L220.3 382.2 L221.2 381.9 L222.2 381.7 L223.2 381.5 L224.2 381.2 L225.1 381.0 L226.1 380.7 L227.1 380.5 L228.1 380.2 L229.1 379.9 L230.0 379.7 L231.0 379.4 L232.0 379.1 L233.0 378.8 L233.9 378.5 L234.9 378.2 L235.9 377.9 L236.9 377.6 L237.9 377.3 L238.8 376.9 L239.8 376.6 L240.8 376.3 L241.8 375.9 L242.8 375.6 L243.7 375.2 L244.7 374.8 L245.7 374.4 L246.7 374.1 L247.6 373.7 L248.6 373.3 L249.6 372.8 L250.6 372.4 L251.6 372.0 L252.5 371.6 L253.5 371.1 L254.5 370.7 L255.5 370.2 L256.4 369.8 L257.4 369.3 L258.4 368.8 L259.4 368.3 L260.4 367.8 L261.3 367.3 L262.3 366.8 L263.3 366.2 L264.3 365.7 L265.2 365.1 L266.2 364.6 L267.2 364.0 L268.2 363.4 L269.2 362.8 L270.1 362.2 L271.1 361.6 L272.1 360.9 L273.1 360.3 L274.1 359.6 L275.0 359.0 L276.0 358.3 L277.0 357.6 L278.0 356.9 L278.9 356.1 L279.9 355.4 L280.9 354.6 L281.9 353.9 L282.9 353.1 L283.8 352.3 L284.8 351.5 L285.8 350.6 L286.8 349.8 L287.7 348.9 L288.7 348.1 L289.7 347.2 L290.7 346.2 L291.7 345.3 L292.6 344.3 L293.6 343.4 L294.6 342.4 L295.6 341.4 L296.6 340.3 L297.5 339.3 L298.5 338.2 L299.5 337.1 L300.5 336.0 L301.4 334.8 L302.4 333.7 L303.4 332.5 L304.4 331.3 L305.4 330.1 L306.3 328.8 L307.3 327.5 L308.3 326.2 L309.3 324.9 L310.2 323.5 L311.2 322.1 L312.2 320.7 L313.2 319.3 L314.2 317.8 L315.1 316.3 L316.1 314.8 L317.1 313.2 L318.1 311.7 L319.0 310.0 L320.0 308.4 L321.0 306.7 L322.0 305.0 L323.0 303.3 L323.9 301.5 L324.9 299.8 L325.9 297.9 L326.9 296.1 L327.9 294.2 L328.8 292.3 L329.8 290.3 L330.8 288.4 L331.8 286.4 L332.7 284.3 L333.7 282.3 L334.7 280.2 L335.7 278.0 L336.7 275.9 L337.6 273.7 L338.6 271.5 L339.6 269.3 L340.6 267.0 L341.5 264.7 L342.5 262.4 L343.5 260.1 L344.5 257.7 L345.5 255.4 L346.4 253.0 L347.4 250.6 L348.4 248.2 L349.4 245.8 L350.3 243.3 L351.3 240.9 L352.3 238.4 L353.3 236.0 L354.3 233.6 L355.2 231.1 L356.2 228.7 L357.2 226.3 L358.2 223.9 L359.2 221.5 L360.1 219.1 L361.1 216.7 L362.1 214.4 L363.1 212.1 L364.0 209.9 L365.0 207.7 L366.0 205.5 L367.0 203.4 L368.0 201.4 L368.9 199.4 L369.9 197.4 L370.9 195.5 L371.9 193.7 L372.8 192.0 L373.8 190.3 L374.8 188.8 L375.8 187.3 L376.8 185.9 L377.7 184.6 L378.7 183.4 L379.7 182.3 L380.7 181.3 L381.6 180.3 L382.6 179.5 L383.6 178.8 L384.6 178.3 L385.6 177.8 L386.5 177.4 L387.5 177.1 L388.5 177.0 L389.5 177.0 L390.5 177.0 L391.4 177.2 L392.4 177.5 L393.4 177.9 L394.4 178.4 L395.3 178.9 L396.3 179.6 L397.3 180.4 L398.3 181.3 L399.3 182.3 L400.2 183.3 L401.2 184.5 L402.2 185.7 L403.2 187.0 L404.1 188.4 L405.1 189.8 L406.1 191.3 L407.1 192.9 L408.1 194.5 L409.0 196.2 L410.0 197.9 L411.0 199.7 L412.0 201.5 L413.0 203.4 L413.9 205.2 L414.9 207.2 L415.9 209.1 L416.9 211.1 L417.8 213.1 L418.8 215.1 L419.8 217.1 L420.8 219.1 L421.8 221.2 L422.7 223.2 L423.7 225.3 L424.7 227.4 L425.7 229.4 L426.6 231.5 L427.6 233.5 L428.6 235.6 L429.6 237.6 L430.6 239.6 L431.5 241.6 L432.5 243.7 L433.5 245.6 L434.5 247.6 L435.4 249.6 L436.4 251.5 L437.4 253.4 L438.4 255.3 L439.4 257.2 L440.3 259.1 L441.3 260.9 L442.3 262.7 L443.3 264.5 L444.3 266.3 L445.2 268.1 L446.2 269.8 L447.2 271.5 L448.2 273.2 L449.1 274.8 L450.1 276.5 L451.1 278.1 L452.1 279.7 L453.1 281.2 L454.0 282.8 L455.0 284.3 L456.0 285.8 L457.0 287.3 L457.9 288.7 L458.9 290.1 L459.9 291.5 L460.9 292.9 L461.9 294.3 L462.8 295.6 L463.8 296.9 L464.8 298.2 L465.8 299.5 L466.7 300.7 L467.7 301.9 L468.7 303.1 L469.7 304.3 L470.7 305.5 L471.6 306.6 L472.6 307.8 L473.6 308.9 L474.6 309.9 L475.6 311.0 L476.5 312.1 L477.5 313.1 L478.5 314.1 L479.5 315.1 L480.4 316.1 L481.4 317.0 L482.4 318.0 L483.4 318.9 L484.4 319.8 L485.3 320.7 L486.3 321.6 L487.3 322.5 L488.3 323.3 L489.2 324.2 L490.2 325.0 L491.2 325.8 L492.2 326.6 L493.2 327.4 L494.1 328.1 L495.1 328.9 L496.1 329.6 L497.1 330.3 L498.0 331.1 L499.0 331.8 L500.0 332.4 L501.0 333.1 L502.0 333.8 L502.9 334.4 L503.9 335.1 L504.9 335.7 L505.9 336.3 L506.9 337.0 L507.8 337.6 L508.8 338.2 L509.8 338.7 L510.8 339.3 L511.7 339.9 L512.7 340.4 L513.7 341.0 L514.7 341.5 L515.7 342.0 L516.6 342.5 L517.6 343.1 L518.6 343.6 L519.6 344.1 L520.5 344.5 L521.5 345.0 L522.5 345.5 L523.5 345.9 L524.5 346.4 L525.4 346.8 L526.4 347.3 L527.4 347.7 L528.4 348.1 L529.4 348.6 L530.3 349.0 L531.3 349.4 L532.3 349.8 L533.3 350.2 L534.2 350.6 L535.2 350.9 L536.2 351.3 L537.2 351.7 L538.2 352.0 L539.1 352.4 L540.1 352.8 L541.1 353.1 L542.1 353.4 L543.0 353.8 L544.0 354.1 L545.0 354.4 L546.0 354.7 L547.0 355.1 L547.9 355.4 L548.9 355.7 L549.9 356.0 L550.9 356.3 L551.8 356.6 L552.8 356.9 L553.8 357.1 L554.8 357.4 L555.8 357.7 L556.7 358.0 L557.7 358.2 L558.7 358.5 L559.7 358.8 L560.7 359.0 L561.6 359.3 L562.6 359.5 L563.6 359.8 L564.6 360.0 L565.5 360.2 L566.5 360.5 L567.5 360.7 L568.5 360.9 L569.5 361.1 L570.4 361.4 L571.4 361.6 L572.4 361.8 L573.4 362.0 L574.3 362.2 L575.3 362.4 L576.3 362.6 L577.3 362.8 L578.3 363.0 L579.2 363.2 L580.2 363.4 L581.2 363.6 L582.2 363.8 L583.1 363.9 L584.1 364.1 L585.1 364.3 L586.1 364.5 L587.1 364.6 L588.0 364.8 L589.0 365.0 L590.0 365.1 L591.0 365.3 L592.0 365.5 L592.9 365.6 L593.9 365.8 L594.9 365.9 L595.9 366.1 L596.8 366.2 L597.8 366.4 L598.8 366.5 L599.8 366.7 L600.8 366.8 L601.7 366.9 L602.7 367.1 L603.7 367.2 L604.7 367.3 L605.6 367.5 L606.6 367.6 L607.6 367.7 L608.6 367.9 L609.6 368.0 L610.5 368.1 L611.5 368.2 L612.5 368.3 L613.5 368.5 L614.4 368.6 L615.4 368.7 L616.4 368.8 L617.4 368.9 L618.4 369.0 L619.3 369.1 L620.3 369.2 L621.3 369.3 L622.3 369.4 L623.3 369.5 L624.2 369.6 L625.2 369.7 L626.2 369.8 L627.2 369.9 L628.1 370.0 L629.1 370.1 L630.1 370.2 L631.1 370.3 L632.1 370.4 L633.0 370.5 L634.0 370.6 L635.0 370.7 L636.0 370.7 L636.9 370.8 L637.9 370.9 L638.9 371.0 L639.9 371.1 L640.9 371.1 L641.8 371.2 L642.8 371.3 L643.8 371.4 L644.8 371.5 L645.8 371.5 L646.7 371.6 L647.7 371.7 L648.7 371.7 L649.7 371.8 L650.6 371.9 L651.6 371.9 L652.6 372.0 L653.6 372.1 L654.6 372.1 L655.5 372.2 L656.5 372.3 L657.5 372.3 L658.5 372.4 L659.4 372.4 L660.4 372.5 L661.4 372.6 L662.4 372.6 L663.4 372.7 L664.3 372.7 L665.3 372.8 L666.3 372.8 L667.3 372.9 L668.2 372.9 L669.2 373.0 L670.2 373.0 L671.2 373.1 L672.2 373.1 L673.1 373.2 L674.1 373.2 L675.1 373.3 L676.1 373.3 L677.1 373.4 L678.0 373.4 L679.0 373.5 L680.0 373.5 L681.0 373.5 L681.9 373.6 L682.9 373.6 L683.9 373.7 L684.9 373.7 L685.9 373.7 L686.8 373.8 L687.8 373.8 L688.8 373.8 L689.8 373.9 L690.7 373.9 L691.7 374.0 L692.7 374.0 L693.7 374.0 L694.7 374.1 L695.6 374.1 L696.6 374.1 L697.6 374.2 L698.6 374.2 L699.5 374.2 L700.5 374.2 L701.5 374.3 L702.5 374.3 L703.5 374.3 L704.4 374.4 L705.4 374.4 L706.4 374.4 L707.4 374.4 L708.4 374.5 L709.3 374.5 L710.3 374.5 L711.3 374.5 L712.3 374.6 L713.2 374.6 L714.2 374.6 L715.2 374.6 L716.2 374.6 L717.2 374.7 L718.1 374.7 L719.1 374.7 L720.1 374.7 L721.1 374.7 L722.0 374.8 L723.0 374.8 L724.0 374.8 L725.0 374.8 L726.0 374.8 L726.9 374.8 L727.9 374.9 L728.9 374.9 L729.9 374.9 L730.8 374.9 L731.8 374.9 L732.8 374.9 L733.8 374.9 L734.8 375.0 L735.7 375.0 L736.7 375.0 L737.7 375.0 L738.7 375.0 L739.7 375.0 L740.6 375.0 L741.6 375.0 L742.6 375.1 L743.6 375.1 L744.5 375.1 L745.5 375.1 L746.5 375.1" stroke="#f8d681" stroke-width="7"/>
<polyline points="161.2,398.7 162.2,396.9 163.1,395.4 164.1,394.2 165.1,393.3 166.1,392.5 167.2,391.9 168.3,391.3 169.4,390.9 170.6,390.5 171.8,390.2 173.0,390.0 174.3,389.7 175.6,389.5 176.9,389.3 178.3,389.1 179.7,388.9 181.2,388.6 182.7,388.4 184.3,388.2 185.9,388.0 187.5,387.8 189.2,387.5 190.9,387.3 192.7,387.0 194.6,386.8 196.5,386.5 198.4,386.2 200.4,385.9 202.5,385.6 204.6,385.2 206.8,384.8 209.1,384.4 211.4,384.0 213.8,383.5 216.3,383.0 218.8,382.5 221.4,381.9 224.1,381.2 226.9,380.5 229.7,379.8 232.7,378.9 235.7,378.0 238.8,377.0 242.0,375.8 245.3,374.6 248.6,373.2 252.1,371.8 255.7,370.1 259.4,368.3 263.2,366.3 267.1,364.0 271.1,361.6 275.3,358.8 279.5,355.7 283.9,352.2 288.5,348.3 293.1,343.9 297.9,338.9 302.8,333.2 307.9,326.7 313.1,319.4 318.5,311.0 324.0,301.4 329.7,290.5 335.6,278.3 341.6,264.6 347.8,249.6 354.2,233.7 360.8,217.6 367.5,202.2 374.5,189.2 381.7,180.3 389.1,177.0 396.7,179.9 404.5,188.9 412.5,202.6 420.8,219.2 429.3,237.1 438.1,254.8 447.2,271.5 456.5,286.5 466.0,299.8 475.9,311.4 486.0,321.5 496.5,330.2 507.2,337.7 518.3,344.3 529.7,350.3 541.4,355.6 553.4,360.3 565.9,364.2 578.6,367.4 591.8,369.9 605.3,372.0 619.3,373.7 633.6,375.2 648.4,376.4 663.6,377.3 679.2,378.1 695.3,378.7 711.9,379.2 728.9,379.5 746.5,379.7" stroke="none" marker-start="url(#m6)" marker-mid="url(#m6)" marker-end="url(#m6)"/>
<path d="M160.6 390.7 L161.6 390.6 L162.5 390.5 L163.5 390.4 L164.5 390.3 L165.5 390.2 L166.5 390.1 L167.4 390.0 L168.4 389.9 L169.4 389.8 L170.4 389.7 L171.3 389.6 L172.3 389.5 L173.3 389.3 L174.3 389.2 L175.3 389.1 L176.2 389.0 L177.2 388.9 L178.2 388.8 L179.2 388.6 L180.2 388.5 L181.1 388.4 L182.1 388.2 L183.1 388.1 L184.1 388.0 L185.0 387.9 L186.0 387.7 L187.0 387.6 L188.0 387.4 L189.0 387.3 L189.9 387.2 L190.9 387.0 L191.9 386.9 L192.9 386.7 L193.8 386.6 L194.8 386.4 L195.8 386.3 L196.8 386.1 L197.8 386.0 L198.7 385.8 L199.7 385.6 L200.7 385.5 L201.7 385.3 L202.6 385.1 L203.6 385.0 L204.6 384.8 L205.6 384.6 L206.6 384.4 L207.5 384.2 L208.5 384.1 L209.5 383.9 L210.5 383.7 L211.5 383.5 L212.4 383.3 L213.4 383.1 L214.4 382.8 L215.4 382.6 L216.3 382.4 L217.3 382.2 L218.3 382.0 L219.3 381.7 L220.3 381.5 L221.2 381.2 L222.2 381.0 L223.2 380.7 L224.2 380.5 L225.1 380.2 L226.1 379.9 L227.1 379.7 L228.1 379.4 L229.1 379.1 L230.0 378.8 L231.0 378.5 L232.0 378.2 L233.0 377.9 L233.9 377.6 L234.9 377.3 L235.9 376.9 L236.9 376.6 L237.9 376.3 L238.8 375.9 L239.8 375.5 L240.8 375.2 L241.8 374.8 L242.8 374.4 L243.7 374.1 L244.7 373.7 L245.7 373.3 L246.7 372.9 L247.6 372.4 L248.6 372.0 L249.6 371.6 L250.6 371.2 L251.6 370.7 L252.5 370.3 L253.5 369.8 L254.5 369.3 L255.5 368.8 L256.4 368.3 L257.4 367.8 L258.4 367.3 L259.4 366.8 L260.4 366.3 L261.3 365.8 L262.3 365.2 L263.3 364.6 L264.3 364.1 L265.2 363.5 L266.2 362.9 L267.2 362.3 L268.2 361.7 L269.2 361.1 L270.1 360.4 L271.1 359.8 L272.1 359.1 L273.1 358.4 L274.1 357.7 L275.0 357.0 L276.0 356.3 L277.0 355.6 L278.0 354.9 L278.9 354.1 L279.9 353.3 L280.9 352.5 L281.9 351.7 L282.9 350.9 L283.8 350.1 L284.8 349.2 L285.8 348.4 L286.8 347.5 L287.7 346.6 L288.7 345.7 L289.7 344.7 L290.7 343.8 L291.7 342.8 L292.6 341.8 L293.6 340.8 L294.6 339.8 L295.6 338.7 L296.6 337.7 L297.5 336.6 L298.5 335.5 L299.5 334.3 L300.5 333.2 L301.4 332.0 L302.4 330.8 L303.4 329.6 L304.4 328.3 L305.4 327.1 L306.3 325.8 L307.3 324.4 L308.3 323.1 L309.3 321.7 L310.2 320.3 L311.2 318.9 L312.2 317.5 L313.2 316.0 L314.2 314.5 L315.1 313.0 L316.1 311.4 L317.1 309.9 L318.1 308.3 L319.0 306.6 L320.0 305.0 L321.0 303.3 L322.0 301.6 L323.0 299.8 L323.9 298.0 L324.9 296.2 L325.9 294.4 L326.9 292.6 L327.9 290.7 L328.8 288.8 L329.8 286.8 L330.8 284.9 L331.8 282.9 L332.7 280.9 L333.7 278.8 L334.7 276.8 L335.7 274.7 L336.7 272.6 L337.6 270.4 L338.6 268.3 L339.6 266.1 L340.6 263.9 L341.5 261.7 L342.5 259.5 L343.5 257.2 L344.5 255.0 L345.5 252.7 L346.4 250.4 L347.4 248.1 L348.4 245.8 L349.4 243.5 L350.3 241.3 L351.3 239.0 L352.3 236.7 L353.3 234.4 L354.3 232.1 L355.2 229.9 L356.2 227.6 L357.2 225.4 L358.2 223.2 L359.2 221.0 L360.1 218.9 L361.1 216.8 L362.1 214.7 L363.1 212.6 L364.0 210.7 L365.0 208.7 L366.0 206.8 L367.0 205.0 L368.0 203.2 L368.9 201.5 L369.9 199.8 L370.9 198.2 L371.9 196.7 L372.8 195.2 L373.8 193.9 L374.8 192.6 L375.8 191.4 L376.8 190.3 L377.7 189.3 L378.7 188.3 L379.7 187.5 L380.7 186.7 L381.6 186.1 L382.6 185.5 L383.6 185.1 L384.6 184.7 L385.6 184.5 L386.5 184.3 L387.5 184.2 L388.5 184.3 L389.5 184.4 L390.5 184.6 L391.4 184.9 L392.4 185.4 L393.4 185.9 L394.4 186.5 L395.3 187.1 L396.3 187.9 L397.3 188.8 L398.3 189.7 L399.3 190.7 L400.2 191.8 L401.2 192.9 L402.2 194.2 L403.2 195.4 L404.1 196.8 L405.1 198.2 L406.1 199.6 L407.1 201.1 L408.1 202.7 L409.0 204.3 L410.0 205.9 L411.0 207.6 L412.0 209.3 L413.0 211.1 L413.9 212.8 L414.9 214.6 L415.9 216.5 L416.9 218.3 L417.8 220.2 L418.8 222.0 L419.8 223.9 L420.8 225.8 L421.8 227.7 L422.7 229.6 L423.7 231.5 L424.7 233.4 L425.7 235.3 L426.6 237.2 L427.6 239.1 L428.6 241.0 L429.6 242.9 L430.6 244.8 L431.5 246.6 L432.5 248.5 L433.5 250.3 L434.5 252.2 L435.4 254.0 L436.4 255.8 L437.4 257.6 L438.4 259.3 L439.4 261.1 L440.3 262.8 L441.3 264.5 L442.3 266.2 L443.3 267.9 L444.3 269.5 L445.2 271.2 L446.2 272.8 L447.2 274.4 L448.2 275.9 L449.1 277.5 L450.1 279.0 L451.1 280.5 L452.1 282.0 L453.1 283.5 L454.0 284.9 L455.0 286.4 L456.0 287.8 L457.0 289.1 L457.9 290.5 L458.9 291.9 L459.9 293.2 L460.9 294.5 L461.9 295.8 L462.8 297.0 L463.8 298.3 L464.8 299.5 L465.8 300.7 L466.7 301.9 L467.7 303.0 L468.7 304.2 L469.7 305.3 L470.7 306.4 L471.6 307.5 L472.6 308.6 L473.6 309.6 L474.6 310.7 L475.6 311.7 L476.5 312.7 L477.5 313.7 L478.5 314.6 L479.5 315.6 L480.4 316.5 L481.4 317.4 L482.4 318.4 L483.4 319.2 L484.4 320.1 L485.3 321.0 L486.3 321.8 L487.3 322.7 L488.3 323.5 L489.2 324.3 L490.2 325.1 L491.2 325.9 L492.2 326.6 L493.2 327.4 L494.1 328.1 L495.1 328.9 L496.1 329.6 L497.1 330.3 L498.0 331.0 L499.0 331.7 L500.0 332.3 L501.0 333.0 L502.0 333.6 L502.9 334.3 L503.9 334.9 L504.9 335.5 L505.9 336.1 L506.9 336.7 L507.8 337.3 L508.8 337.9 L509.8 338.5 L510.8 339.0 L511.7 339.6 L512.7 340.1 L513.7 340.7 L514.7 341.2 L515.7 341.7 L516.6 342.2 L517.6 342.7 L518.6 343.2 L519.6 343.7 L520.5 344.2 L521.5 344.6 L522.5 345.1 L523.5 345.5 L524.5 346.0 L525.4 346.4 L526.4 346.9 L527.4 347.3 L528.4 347.7 L529.4 348.1 L530.3 348.5 L531.3 348.9 L532.3 349.3 L533.3 349.7 L534.2 350.1 L535.2 350.5 L536.2 350.9 L537.2 351.2 L538.2 351.6 L539.1 351.9 L540.1 352.3 L541.1 352.6 L542.1 353.0 L543.0 353.3 L544.0 353.6 L545.0 354.0 L546.0 354.3 L547.0 354.6 L547.9 354.9 L548.9 355.2 L549.9 355.5 L550.9 355.8 L551.8 356.1 L552.8 356.4 L553.8 356.7 L554.8 356.9 L555.8 357.2 L556.7 357.5 L557.7 357.8 L558.7 358.0 L559.7 358.3 L560.7 358.5 L561.6 358.8 L562.6 359.0 L563.6 359.3 L564.6 359.5 L565.5 359.8 L566.5 360.0 L567.5 360.2 L568.5 360.5 L569.5 360.7 L570.4 360.9 L571.4 361.1 L572.4 361.3 L573.4 361.5 L574.3 361.8 L575.3 362.0 L576.3 362.2 L577.3 362.4 L578.3 362.6 L579.2 362.8 L580.2 363.0 L581.2 363.1 L582.2 363.3 L583.1 363.5 L584.1 363.7 L585.1 363.9 L586.1 364.1 L587.1 364.2 L588.0 364.4 L589.0 364.6 L590.0 364.7 L591.0 364.9 L592.0 365.1 L592.9 365.2 L593.9 365.4 L594.9 365.5 L595.9 365.7 L596.8 365.8 L597.8 366.0 L598.8 366.1 L599.8 366.3 L600.8 366.4 L601.7 366.6 L602.7 366.7 L603.7 366.8 L604.7 367.0 L605.6 367.1 L606.6 367.2 L607.6 367.4 L608.6 367.5 L609.6 367.6 L610.5 367.8 L611.5 367.9 L612.5 368.0 L613.5 368.1 L614.4 368.2 L615.4 368.4 L616.4 368.5 L617.4 368.6 L618.4 368.7 L619.3 368.8 L620.3 368.9 L621.3 369.0 L622.3 369.1 L623.3 369.2 L624.2 369.3 L625.2 369.4 L626.2 369.5 L627.2 369.6 L628.1 369.7 L629.1 369.8 L630.1 369.9 L631.1 370.0 L632.1 370.1 L633.0 370.2 L634.0 370.3 L635.0 370.4 L636.0 370.5 L636.9 370.6 L637.9 370.6 L638.9 370.7 L639.9 370.8 L640.9 370.9 L641.8 371.0 L642.8 371.0 L643.8 371.1 L644.8 371.2 L645.8 371.3 L646.7 371.4 L647.7 371.4 L648.7 371.5 L649.7 371.6 L650.6 371.6 L651.6 371.7 L652.6 371.8 L653.6 371.8 L654.6 371.9 L655.5 372.0 L656.5 372.0 L657.5 372.1 L658.5 372.2 L659.4 372.2 L660.4 372.3 L661.4 372.4 L662.4 372.4 L663.4 372.5 L664.3 372.5 L665.3 372.6 L666.3 372.6 L667.3 372.7 L668.2 372.8 L669.2 372.8 L670.2 372.9 L671.2 372.9 L672.2 373.0 L673.1 373.0 L674.1 373.1 L675.1 373.1 L676.1 373.2 L677.1 373.2 L678.0 373.3 L679.0 373.3 L680.0 373.3 L681.0 373.4 L681.9 373.4 L682.9 373.5 L683.9 373.5 L684.9 373.6 L685.9 373.6 L686.8 373.6 L687.8 373.7 L688.8 373.7 L689.8 373.8 L690.7 373.8 L691.7 373.8 L692.7 373.9 L693.7 373.9 L694.7 373.9 L695.6 374.0 L696.6 374.0 L697.6 374.1 L698.6 374.1 L699.5 374.1 L700.5 374.2 L701.5 374.2 L702.5 374.2 L703.5 374.2 L704.4 374.3 L705.4 374.3 L706.4 374.3 L707.4 374.4 L708.4 374.4 L709.3 374.4 L710.3 374.4 L711.3 374.5 L712.3 374.5 L713.2 374.5 L714.2 374.5 L715.2 374.6 L716.2 374.6 L717.2 374.6 L718.1 374.6 L719.1 374.7 L720.1 374.7 L721.1 374.7 L722.0 374.7 L723.0 374.7 L724.0 374.8 L725.0 374.8 L726.0 374.8 L726.9 374.8 L727.9 374.8 L728.9 374.9 L729.9 374.9 L730.8 374.9 L731.8 374.9 L732.8 374.9 L733.8 374.9 L734.8 375.0 L735.7 375.0 L736.7 375.0 L737.7 375.0 L738.7 375.0 L739.7 375.0 L740.6 375.0 L741.6 375.1 L742.6 375.1 L743.6 375.1 L744.5 375.1 L745.5 375.1 L746.5 375.1" stroke="#f6bb6c" stroke-width="7"/>
<polyline points="161.2,398.4 162.2,396.6 163.1,395.1 164.1,393.9 165.1,393.0 166.1,392.2 167.2,391.6 168.3,391.1 169.4,390.6 170.6,390.3 171.8,390.0 173.0,389.7 174.3,389.5 175.6,389.2 176.9,389.0 178.3,388.8 179.7,388.6 181.2,388.4 182.7,388.2 184.3,388.0 185.9,387.8 187.5,387.5 189.2,387.3 190.9,387.0 192.7,386.7 194.6,386.5 196.5,386.2 198.4,385.9 200.4,385.5 202.5,385.2 204.6,384.8 206.8,384.4 209.1,383.9 211.4,383.5 213.8,383.0 216.3,382.4 218.8,381.8 221.4,381.2 224.1,380.5 226.9,379.7 229.7,378.9 232.7,378.0 235.7,377.0 238.8,375.9 242.0,374.7 245.3,373.4 248.6,372.0 252.1,370.4 255.7,368.7 259.4,366.8 263.2,364.7 267.1,362.4 271.1,359.8 275.3,356.9 279.5,353.6 283.9,350.0 288.5,345.9 293.1,341.3 297.9,336.2 302.8,330.3 307.9,323.6 313.1,316.1 318.5,307.6 324.0,297.9 329.7,287.0 335.6,274.9 341.6,261.6 347.8,247.2 354.2,232.3 360.8,217.5 367.5,203.9 374.5,193.0 381.7,186.1 389.1,184.3 396.7,188.2 404.5,197.3 412.5,210.3 420.8,225.9 429.3,242.5 438.1,258.9 447.2,274.3 456.5,288.5 466.0,301.0 475.9,312.1 486.0,321.7 496.5,330.1 507.2,337.5 518.3,344.0 529.7,349.8 541.4,355.2 553.4,359.9 565.9,363.8 578.6,366.9 591.8,369.5 605.3,371.7 619.3,373.4 633.6,374.9 648.4,376.1 663.6,377.1 679.2,377.9 695.3,378.6 711.9,379.1 728.9,379.5 746.5,379.7" stroke="none" marker-start="url(#m7)" marker-mid="url(#m7)" marker-end="url(#m7)"/>
<path d="M160.6 390.3 L161.6 390.2 L162.5 390.1 L163.5 390.0 L164.5 389.9 L165.5 389.8 L166.5 389.7 L167.4 389.6 L168.4 389.5 L169.4 389.4 L170.4 389.3 L171.3 389.2 L172.3 389.1 L173.3 388.9 L174.3 388.8 L175.3 388.7 L176.2 388.6 L177.2 388.5 L178.2 388.3 L179.2 388.2 L180.2 388.1 L181.1 387.9 L182.1 387.8 L183.1 387.7 L184.1 387.5 L185.0 387.4 L186.0 387.2 L187.0 387.1 L188.0 386.9 L189.0 386.8 L189.9 386.6 L190.9 386.5 L191.9 386.3 L192.9 386.2 L193.8 386.0 L194.8 385.8 L195.8 385.7 L196.8 385.5 L197.8 385.3 L198.7 385.1 L199.7 384.9 L200.7 384.8 L201.7 384.6 L202.6 384.4 L203.6 384.2 L204.6 384.0 L205.6 383.8 L206.6 383.6 L207.5 383.4 L208.5 383.2 L209.5 382.9 L210.5 382.7 L211.5 382.5 L212.4 382.3 L213.4 382.0 L214.4 381.8 L215.4 381.5 L216.3 381.3 L217.3 381.0 L218.3 380.8 L219.3 380.5 L220.3 380.3 L221.2 380.0 L222.2 379.7 L223.2 379.4 L224.2 379.1 L225.1 378.8 L226.1 378.5 L227.1 378.2 L228.1 377.9 L229.1 377.6 L230.0 377.3 L231.0 376.9 L232.0 376.6 L233.0 376.2 L233.9 375.9 L234.9 375.5 L235.9 375.2 L236.9 374.8 L237.9 374.4 L238.8 374.0 L239.8 373.6 L240.8 373.2 L241.8 372.8 L242.8 372.4 L243.7 372.0 L244.7 371.6 L245.7 371.1 L246.7 370.7 L247.6 370.2 L248.6 369.7 L249.6 369.3 L250.6 368.8 L251.6 368.3 L252.5 367.8 L253.5 367.3 L254.5 366.8 L255.5 366.2 L256.4 365.7 L257.4 365.1 L258.4 364.6 L259.4 364.0 L260.4 363.4 L261.3 362.8 L262.3 362.2 L263.3 361.6 L264.3 361.0 L265.2 360.4 L266.2 359.7 L267.2 359.1 L268.2 358.4 L269.2 357.7 L270.1 357.0 L271.1 356.3 L272.1 355.6 L273.1 354.8 L274.1 354.1 L275.0 353.3 L276.0 352.5 L277.0 351.7 L278.0 350.9 L278.9 350.1 L279.9 349.2 L280.9 348.4 L281.9 347.5 L282.9 346.6 L283.8 345.7 L284.8 344.8 L285.8 343.9 L286.8 342.9 L287.7 341.9 L288.7 340.9 L289.7 339.9 L290.7 338.9 L291.7 337.9 L292.6 336.8 L293.6 335.7 L294.6 334.6 L295.6 333.5 L296.6 332.3 L297.5 331.2 L298.5 330.0 L299.5 328.8 L300.5 327.5 L301.4 326.3 L302.4 325.0 L303.4 323.7 L304.4 322.4 L305.4 321.1 L306.3 319.7 L307.3 318.3 L308.3 316.9 L309.3 315.5 L310.2 314.0 L311.2 312.5 L312.2 311.0 L313.2 309.5 L314.2 308.0 L315.1 306.4 L316.1 304.8 L317.1 303.2 L318.1 301.5 L319.0 299.9 L320.0 298.2 L321.0 296.5 L322.0 294.7 L323.0 293.0 L323.9 291.2 L324.9 289.4 L325.9 287.6 L326.9 285.7 L327.9 283.9 L328.8 282.0 L329.8 280.1 L330.8 278.2 L331.8 276.3 L332.7 274.3 L333.7 272.3 L334.7 270.4 L335.7 268.4 L336.7 266.4 L337.6 264.4 L338.6 262.3 L339.6 260.3 L340.6 258.3 L341.5 256.2 L342.5 254.2 L343.5 252.2 L344.5 250.1 L345.5 248.1 L346.4 246.1 L347.4 244.0 L348.4 242.0 L349.4 240.0 L350.3 238.1 L351.3 236.1 L352.3 234.2 L353.3 232.2 L354.3 230.4 L355.2 228.5 L356.2 226.7 L357.2 224.9 L358.2 223.1 L359.2 221.4 L360.1 219.7 L361.1 218.1 L362.1 216.5 L363.1 215.0 L364.0 213.5 L365.0 212.1 L366.0 210.8 L367.0 209.5 L368.0 208.2 L368.9 207.1 L369.9 206.0 L370.9 205.0 L371.9 204.0 L372.8 203.1 L373.8 202.3 L374.8 201.6 L375.8 201.0 L376.8 200.4 L377.7 199.9 L378.7 199.5 L379.7 199.2 L380.7 198.9 L381.6 198.8 L382.6 198.7 L383.6 198.7 L384.6 198.8 L385.6 198.9 L386.5 199.2 L387.5 199.5 L388.5 199.9 L389.5 200.3 L390.5 200.9 L391.4 201.5 L392.4 202.1 L393.4 202.9 L394.4 203.7 L395.3 204.6 L396.3 205.5 L397.3 206.5 L398.3 207.5 L399.3 208.6 L400.2 209.8 L401.2 211.0 L402.2 212.2 L403.2 213.5 L404.1 214.8 L405.1 216.2 L406.1 217.6 L407.1 219.0 L408.1 220.4 L409.0 221.9 L410.0 223.4 L411.0 225.0 L412.0 226.5 L413.0 228.1 L413.9 229.7 L414.9 231.3 L415.9 232.9 L416.9 234.5 L417.8 236.2 L418.8 237.8 L419.8 239.4 L420.8 241.1 L421.8 242.7 L422.7 244.4 L423.7 246.0 L424.7 247.7 L425.7 249.3 L426.6 251.0 L427.6 252.6 L428.6 254.2 L429.6 255.8 L430.6 257.5 L431.5 259.1 L432.5 260.6 L433.5 262.2 L434.5 263.8 L435.4 265.3 L436.4 266.9 L437.4 268.4 L438.4 269.9 L439.4 271.4 L440.3 272.9 L441.3 274.4 L442.3 275.8 L443.3 277.2 L444.3 278.7 L445.2 280.1 L446.2 281.4 L447.2 282.8 L448.2 284.2 L449.1 285.5 L450.1 286.8 L451.1 288.1 L452.1 289.4 L453.1 290.7 L454.0 291.9 L455.0 293.2 L456.0 294.4 L457.0 295.6 L457.9 296.8 L458.9 297.9 L459.9 299.1 L460.9 300.2 L461.9 301.3 L462.8 302.4 L463.8 303.5 L464.8 304.6 L465.8 305.6 L466.7 306.7 L467.7 307.7 L468.7 308.7 L469.7 309.7 L470.7 310.7 L471.6 311.6 L472.6 312.6 L473.6 313.5 L474.6 314.4 L475.6 315.3 L476.5 316.2 L477.5 317.1 L478.5 317.9 L479.5 318.8 L480.4 319.6 L481.4 320.5 L482.4 321.3 L483.4 322.1 L484.4 322.9 L485.3 323.6 L486.3 324.4 L487.3 325.1 L488.3 325.9 L489.2 326.6 L490.2 327.3 L491.2 328.0 L492.2 328.7 L493.2 329.4 L494.1 330.1 L495.1 330.7 L496.1 331.4 L497.1 332.0 L498.0 332.7 L499.0 333.3 L500.0 333.9 L501.0 334.5 L502.0 335.1 L502.9 335.7 L503.9 336.2 L504.9 336.8 L505.9 337.4 L506.9 337.9 L507.8 338.5 L508.8 339.0 L509.8 339.5 L510.8 340.0 L511.7 340.5 L512.7 341.0 L513.7 341.5 L514.7 342.0 L515.7 342.5 L516.6 343.0 L517.6 343.4 L518.6 343.9 L519.6 344.4 L520.5 344.8 L521.5 345.2 L522.5 345.7 L523.5 346.1 L524.5 346.5 L525.4 346.9 L526.4 347.3 L527.4 347.7 L528.4 348.1 L529.4 348.5 L530.3 348.9 L531.3 349.3 L532.3 349.6 L533.3 350.0 L534.2 350.4 L535.2 350.7 L536.2 351.1 L537.2 351.4 L538.2 351.8 L539.1 352.1 L540.1 352.4 L541.1 352.8 L542.1 353.1 L543.0 353.4 L544.0 353.7 L545.0 354.0 L546.0 354.3 L547.0 354.6 L547.9 354.9 L548.9 355.2 L549.9 355.5 L550.9 355.8 L551.8 356.1 L552.8 356.3 L553.8 356.6 L554.8 356.9 L555.8 357.1 L556.7 357.4 L557.7 357.6 L558.7 357.9 L559.7 358.1 L560.7 358.4 L561.6 358.6 L562.6 358.9 L563.6 359.1 L564.6 359.3 L565.5 359.6 L566.5 359.8 L567.5 360.0 L568.5 360.2 L569.5 360.5 L570.4 360.7 L571.4 360.9 L572.4 361.1 L573.4 361.3 L574.3 361.5 L575.3 361.7 L576.3 361.9 L577.3 362.1 L578.3 362.3 L579.2 362.5 L580.2 362.7 L581.2 362.9 L582.2 363.0 L583.1 363.2 L584.1 363.4 L585.1 363.6 L586.1 363.7 L587.1 363.9 L588.0 364.1 L589.0 364.2 L590.0 364.4 L591.0 364.6 L592.0 364.7 L592.9 364.9 L593.9 365.0 L594.9 365.2 L595.9 365.3 L596.8 365.5 L597.8 365.6 L598.8 365.8 L599.8 365.9 L600.8 366.1 L601.7 366.2 L602.7 366.4 L603.7 366.5 L604.7 366.6 L605.6 366.8 L606.6 366.9 L607.6 367.0 L608.6 367.1 L609.6 367.3 L610.5 367.4 L611.5 367.5 L612.5 367.6 L613.5 367.8 L614.4 367.9 L615.4 368.0 L616.4 368.1 L617.4 368.2 L618.4 368.3 L619.3 368.4 L620.3 368.5 L621.3 368.7 L622.3 368.8 L623.3 368.9 L624.2 369.0 L625.2 369.1 L626.2 369.2 L627.2 369.3 L628.1 369.4 L629.1 369.5 L630.1 369.6 L631.1 369.7 L632.1 369.7 L633.0 369.8 L634.0 369.9 L635.0 370.0 L636.0 370.1 L636.9 370.2 L637.9 370.3 L638.9 370.4 L639.9 370.4 L640.9 370.5 L641.8 370.6 L642.8 370.7 L643.8 370.8 L644.8 370.8 L645.8 370.9 L646.7 371.0 L647.7 371.1 L648.7 371.1 L649.7 371.2 L650.6 371.3 L651.6 371.4 L652.6 371.4 L653.6 371.5 L654.6 371.6 L655.5 371.6 L656.5 371.7 L657.5 371.8 L658.5 371.8 L659.4 371.9 L660.4 372.0 L661.4 372.0 L662.4 372.1 L663.4 372.1 L664.3 372.2 L665.3 372.3 L666.3 372.3 L667.3 372.4 L668.2 372.4 L669.2 372.5 L670.2 372.5 L671.2 372.6 L672.2 372.6 L673.1 372.7 L674.1 372.8 L675.1 372.8 L676.1 372.9 L677.1 372.9 L678.0 373.0 L679.0 373.0 L680.0 373.0 L681.0 373.1 L681.9 373.1 L682.9 373.2 L683.9 373.2 L684.9 373.3 L685.9 373.3 L686.8 373.4 L687.8 373.4 L688.8 373.4 L689.8 373.5 L690.7 373.5 L691.7 373.6 L692.7 373.6 L693.7 373.6 L694.7 373.7 L695.6 373.7 L696.6 373.7 L697.6 373.8 L698.6 373.8 L699.5 373.9 L700.5 373.9 L701.5 373.9 L702.5 374.0 L703.5 374.0 L704.4 374.0 L705.4 374.0 L706.4 374.1 L707.4 374.1 L708.4 374.1 L709.3 374.2 L710.3 374.2 L711.3 374.2 L712.3 374.3 L713.2 374.3 L714.2 374.3 L715.2 374.3 L716.2 374.4 L717.2 374.4 L718.1 374.4 L719.1 374.4 L720.1 374.5 L721.1 374.5 L722.0 374.5 L723.0 374.5 L724.0 374.5 L725.0 374.6 L726.0 374.6 L726.9 374.6 L727.9 374.6 L728.9 374.6 L729.9 374.7 L730.8 374.7 L731.8 374.7 L732.8 374.7 L733.8 374.7 L734.8 374.8 L735.7 374.8 L736.7 374.8 L737.7 374.8 L738.7 374.8 L739.7 374.8 L740.6 374.9 L741.6 374.9 L742.6 374.9 L743.6 374.9 L744.5 374.9 L745.5 374.9 L746.5 374.9" stroke="#f0975a" stroke-width="7"/>
<polyline points="161.2,398.0 162.2,396.2 163.1,394.7 164.1,393.6 165.1,392.6 166.1,391.8 167.2,391.2 168.3,390.7 169.4,390.2 170.6,389.9 171.8,389.6 173.0,389.3 174.3,389.1 175.6,388.8 176.9,388.6 178.3,388.4 179.7,388.2 181.2,388.0 182.7,387.7 184.3,387.5 185.9,387.3 187.5,387.0 189.2,386.8 190.9,386.5 192.7,386.2 194.6,385.9 196.5,385.5 198.4,385.2 200.4,384.8 202.5,384.4 204.6,384.0 206.8,383.5 209.1,383.0 211.4,382.5 213.8,381.9 216.3,381.3 218.8,380.6 221.4,379.9 224.1,379.1 226.9,378.3 229.7,377.4 232.7,376.4 235.7,375.3 238.8,374.1 242.0,372.7 245.3,371.3 248.6,369.7 252.1,368.0 255.7,366.1 259.4,364.0 263.2,361.7 267.1,359.1 271.1,356.3 275.3,353.1 279.5,349.6 283.9,345.6 288.5,341.2 293.1,336.3 297.9,330.7 302.8,324.5 307.9,317.5 313.1,309.6 318.5,300.8 324.0,291.1 329.7,280.3 335.6,268.6 341.6,256.1 347.8,243.2 354.2,230.5 360.8,218.7 367.5,208.8 374.5,201.8 381.7,198.8 389.1,200.1 396.7,205.8 404.5,215.3 412.5,227.4 420.8,241.2 429.3,255.5 438.1,269.5 447.2,282.8 456.5,295.0 466.0,305.9 475.9,315.7 486.0,324.3 496.5,331.9 507.2,338.6 518.3,344.7 529.7,350.3 541.4,355.4 553.4,359.9 565.9,363.7 578.6,366.8 591.8,369.4 605.3,371.5 619.3,373.2 633.6,374.7 648.4,375.9 663.6,377.0 679.2,377.8 695.3,378.5 711.9,379.0 728.9,379.5 746.5,379.7" stroke="none" marker-start="url(#m8)" marker-mid="url(#m8)" marker-end="url(#m8)"/>
<path d="M160.6 386.6 L161.6 386.5 L162.5 386.5 L163.5 386.4 L164.5 386.3 L165.5 386.2 L166.5 386.1 L167.4 386.0 L168.4 385.9 L169.4 385.8 L170.4 385.7 L171.3 385.6 L172.3 385.4 L173.3 385.3 L174.3 385.2 L175.3 385.1 L176.2 385.0 L177.2 384.8 L178.2 384.7 L179.2 384.6 L180.2 384.4 L181.1 384.3 L182.1 384.2 L183.1 384.0 L184.1 383.9 L185.0 383.7 L186.0 383.6 L187.0 383.4 L188.0 383.3 L189.0 383.1 L189.9 382.9 L190.9 382.8 L191.9 382.6 L192.9 382.4 L193.8 382.2 L194.8 382.1 L195.8 381.9 L196.8 381.7 L197.8 381.5 L198.7 381.3 L199.7 381.1 L200.7 380.9 L201.7 380.7 L202.6 380.5 L203.6 380.3 L204.6 380.1 L205.6 379.9 L206.6 379.6 L207.5 379.4 L208.5 379.2 L209.5 378.9 L210.5 378.7 L211.5 378.5 L212.4 378.2 L213.4 378.0 L214.4 377.7 L215.4 377.4 L216.3 377.2 L217.3 376.9 L218.3 376.6 L219.3 376.3 L220.3 376.0 L221.2 375.7 L222.2 375.4 L223.2 375.1 L224.2 374.8 L225.1 374.5 L226.1 374.2 L227.1 373.8 L228.1 373.5 L229.1 373.2 L230.0 372.8 L231.0 372.5 L232.0 372.1 L233.0 371.7 L233.9 371.4 L234.9 371.0 L235.9 370.6 L236.9 370.2 L237.9 369.8 L238.8 369.4 L239.8 368.9 L240.8 368.5 L241.8 368.1 L242.8 367.6 L243.7 367.2 L244.7 366.7 L245.7 366.2 L246.7 365.8 L247.6 365.3 L248.6 364.8 L249.6 364.3 L250.6 363.8 L251.6 363.2 L252.5 362.7 L253.5 362.2 L254.5 361.6 L255.5 361.0 L256.4 360.5 L257.4 359.9 L258.4 359.3 L259.4 358.7 L260.4 358.1 L261.3 357.4 L262.3 356.8 L263.3 356.1 L264.3 355.5 L265.2 354.8 L266.2 354.1 L267.2 353.4 L268.2 352.7 L269.2 352.0 L270.1 351.2 L271.1 350.5 L272.1 349.7 L273.1 348.9 L274.1 348.1 L275.0 347.3 L276.0 346.5 L277.0 345.7 L278.0 344.8 L278.9 343.9 L279.9 343.0 L280.9 342.1 L281.9 341.2 L282.9 340.3 L283.8 339.3 L284.8 338.4 L285.8 337.4 L286.8 336.4 L287.7 335.4 L288.7 334.3 L289.7 333.3 L290.7 332.2 L291.7 331.1 L292.6 330.0 L293.6 328.9 L294.6 327.7 L295.6 326.5 L296.6 325.4 L297.5 324.2 L298.5 322.9 L299.5 321.7 L300.5 320.4 L301.4 319.1 L302.4 317.8 L303.4 316.5 L304.4 315.1 L305.4 313.7 L306.3 312.4 L307.3 310.9 L308.3 309.5 L309.3 308.0 L310.2 306.6 L311.2 305.1 L312.2 303.5 L313.2 302.0 L314.2 300.4 L315.1 298.9 L316.1 297.3 L317.1 295.6 L318.1 294.0 L319.0 292.3 L320.0 290.7 L321.0 289.0 L322.0 287.2 L323.0 285.5 L323.9 283.8 L324.9 282.0 L325.9 280.2 L326.9 278.4 L327.9 276.6 L328.8 274.8 L329.8 273.0 L330.8 271.1 L331.8 269.2 L332.7 267.4 L333.7 265.5 L334.7 263.6 L335.7 261.8 L336.7 259.9 L337.6 258.0 L338.6 256.1 L339.6 254.2 L340.6 252.3 L341.5 250.5 L342.5 248.6 L343.5 246.7 L344.5 244.9 L345.5 243.0 L346.4 241.2 L347.4 239.4 L348.4 237.6 L349.4 235.9 L350.3 234.1 L351.3 232.4 L352.3 230.8 L353.3 229.1 L354.3 227.5 L355.2 225.9 L356.2 224.4 L357.2 222.9 L358.2 221.4 L359.2 220.0 L360.1 218.7 L361.1 217.4 L362.1 216.1 L363.1 214.9 L364.0 213.8 L365.0 212.7 L366.0 211.6 L367.0 210.7 L368.0 209.8 L368.9 208.9 L369.9 208.2 L370.9 207.5 L371.9 206.8 L372.8 206.3 L373.8 205.8 L374.8 205.3 L375.8 205.0 L376.8 204.7 L377.7 204.5 L378.7 204.4 L379.7 204.3 L380.7 204.3 L381.6 204.4 L382.6 204.5 L383.6 204.7 L384.6 205.0 L385.6 205.3 L386.5 205.7 L387.5 206.2 L388.5 206.7 L389.5 207.3 L390.5 208.0 L391.4 208.7 L392.4 209.4 L393.4 210.3 L394.4 211.1 L395.3 212.0 L396.3 213.0 L397.3 214.0 L398.3 215.1 L399.3 216.2 L400.2 217.3 L401.2 218.5 L402.2 219.7 L403.2 220.9 L404.1 222.2 L405.1 223.5 L406.1 224.8 L407.1 226.1 L408.1 227.5 L409.0 228.9 L410.0 230.3 L411.0 231.7 L412.0 233.2 L413.0 234.6 L413.9 236.1 L414.9 237.5 L415.9 239.0 L416.9 240.5 L417.8 242.0 L418.8 243.5 L419.8 245.0 L420.8 246.5 L421.8 248.0 L422.7 249.5 L423.7 251.0 L424.7 252.5 L425.7 254.0 L426.6 255.4 L427.6 256.9 L428.6 258.4 L429.6 259.9 L430.6 261.3 L431.5 262.8 L432.5 264.2 L433.5 265.6 L434.5 267.0 L435.4 268.4 L436.4 269.8 L437.4 271.2 L438.4 272.6 L439.4 273.9 L440.3 275.3 L441.3 276.6 L442.3 277.9 L443.3 279.2 L444.3 280.5 L445.2 281.8 L446.2 283.0 L447.2 284.3 L448.2 285.5 L449.1 286.7 L450.1 287.9 L451.1 289.1 L452.1 290.3 L453.1 291.4 L454.0 292.6 L455.0 293.7 L456.0 294.8 L457.0 295.9 L457.9 297.0 L458.9 298.1 L459.9 299.1 L460.9 300.1 L461.9 301.2 L462.8 302.2 L463.8 303.2 L464.8 304.2 L465.8 305.1 L466.7 306.1 L467.7 307.0 L468.7 308.0 L469.7 308.9 L470.7 309.8 L471.6 310.7 L472.6 311.6 L473.6 312.4 L474.6 313.3 L475.6 314.1 L476.5 314.9 L477.5 315.8 L478.5 316.6 L479.5 317.3 L480.4 318.1 L481.4 318.9 L482.4 319.7 L483.4 320.4 L484.4 321.1 L485.3 321.9 L486.3 322.6 L487.3 323.3 L488.3 324.0 L489.2 324.7 L490.2 325.3 L491.2 326.0 L492.2 326.6 L493.2 327.3 L494.1 327.9 L495.1 328.5 L496.1 329.2 L497.1 329.8 L498.0 330.4 L499.0 331.0 L500.0 331.5 L501.0 332.1 L502.0 332.7 L502.9 333.2 L503.9 333.8 L504.9 334.3 L505.9 334.8 L506.9 335.4 L507.8 335.9 L508.8 336.4 L509.8 336.9 L510.8 337.4 L511.7 337.9 L512.7 338.3 L513.7 338.8 L514.7 339.3 L515.7 339.7 L516.6 340.2 L517.6 340.6 L518.6 341.1 L519.6 341.5 L520.5 341.9 L521.5 342.4 L522.5 342.8 L523.5 343.2 L524.5 343.6 L525.4 344.0 L526.4 344.4 L527.4 344.8 L528.4 345.2 L529.4 345.5 L530.3 345.9 L531.3 346.3 L532.3 346.6 L533.3 347.0 L534.2 347.3 L535.2 347.7 L536.2 348.0 L537.2 348.4 L538.2 348.7 L539.1 349.0 L540.1 349.3 L541.1 349.7 L542.1 350.0 L543.0 350.3 L544.0 350.6 L545.0 350.9 L546.0 351.2 L547.0 351.5 L547.9 351.8 L548.9 352.0 L549.9 352.3 L550.9 352.6 L551.8 352.9 L552.8 353.1 L553.8 353.4 L554.8 353.7 L555.8 353.9 L556.7 354.2 L557.7 354.4 L558.7 354.7 L559.7 354.9 L560.7 355.2 L561.6 355.4 L562.6 355.7 L563.6 355.9 L564.6 356.1 L565.5 356.3 L566.5 356.6 L567.5 356.8 L568.5 357.0 L569.5 357.2 L570.4 357.4 L571.4 357.6 L572.4 357.8 L573.4 358.1 L574.3 358.3 L575.3 358.5 L576.3 358.6 L577.3 358.8 L578.3 359.0 L579.2 359.2 L580.2 359.4 L581.2 359.6 L582.2 359.8 L583.1 360.0 L584.1 360.1 L585.1 360.3 L586.1 360.5 L587.1 360.6 L588.0 360.8 L589.0 361.0 L590.0 361.1 L591.0 361.3 L592.0 361.5 L592.9 361.6 L593.9 361.8 L594.9 361.9 L595.9 362.1 L596.8 362.2 L597.8 362.4 L598.8 362.5 L599.8 362.7 L600.8 362.8 L601.7 363.0 L602.7 363.1 L603.7 363.2 L604.7 363.4 L605.6 363.5 L606.6 363.6 L607.6 363.8 L608.6 363.9 L609.6 364.0 L610.5 364.1 L611.5 364.3 L612.5 364.4 L613.5 364.5 L614.4 364.6 L615.4 364.7 L616.4 364.9 L617.4 365.0 L618.4 365.1 L619.3 365.2 L620.3 365.3 L621.3 365.4 L622.3 365.5 L623.3 365.6 L624.2 365.7 L625.2 365.8 L626.2 366.0 L627.2 366.1 L628.1 366.2 L629.1 366.2 L630.1 366.3 L631.1 366.4 L632.1 366.5 L633.0 366.6 L634.0 366.7 L635.0 366.8 L636.0 366.9 L636.9 367.0 L637.9 367.1 L638.9 367.2 L639.9 367.3 L640.9 367.3 L641.8 367.4 L642.8 367.5 L643.8 367.6 L644.8 367.7 L645.8 367.7 L646.7 367.8 L647.7 367.9 L648.7 368.0 L649.7 368.1 L650.6 368.1 L651.6 368.2 L652.6 368.3 L653.6 368.3 L654.6 368.4 L655.5 368.5 L656.5 368.6 L657.5 368.6 L658.5 368.7 L659.4 368.8 L660.4 368.8 L661.4 368.9 L662.4 369.0 L663.4 369.0 L664.3 369.1 L665.3 369.1 L666.3 369.2 L667.3 369.3 L668.2 369.3 L669.2 369.4 L670.2 369.4 L671.2 369.5 L672.2 369.5 L673.1 369.6 L674.1 369.7 L675.1 369.7 L676.1 369.8 L677.1 369.8 L678.0 369.9 L679.0 369.9 L680.0 370.0 L681.0 370.0 L681.9 370.1 L682.9 370.1 L683.9 370.2 L684.9 370.2 L685.9 370.2 L686.8 370.3 L687.8 370.3 L688.8 370.4 L689.8 370.4 L690.7 370.5 L691.7 370.5 L692.7 370.5 L693.7 370.6 L694.7 370.6 L695.6 370.7 L696.6 370.7 L697.6 370.7 L698.6 370.8 L699.5 370.8 L700.5 370.9 L701.5 370.9 L702.5 370.9 L703.5 371.0 L704.4 371.0 L705.4 371.0 L706.4 371.1 L707.4 371.1 L708.4 371.1 L709.3 371.2 L710.3 371.2 L711.3 371.2 L712.3 371.3 L713.2 371.3 L714.2 371.3 L715.2 371.3 L716.2 371.4 L717.2 371.4 L718.1 371.4 L719.1 371.5 L720.1 371.5 L721.1 371.5 L722.0 371.5 L723.0 371.6 L724.0 371.6 L725.0 371.6 L726.0 371.6 L726.9 371.7 L727.9 371.7 L728.9 371.7 L729.9 371.7 L730.8 371.7 L731.8 371.8 L732.8 371.8 L733.8 371.8 L734.8 371.8 L735.7 371.8 L736.7 371.9 L737.7 371.9 L738.7 371.9 L739.7 371.9 L740.6 371.9 L741.6 372.0 L742.6 372.0 L743.6 372.0 L744.5 372.0 L745.5 372.0 L746.5 372.0" stroke="#e36a40" stroke-width="7"/>
<polyline points="161.2,394.4 162.2,392.6 163.1,391.1 164.1,389.9 165.1,389.0 166.1,388.2 167.2,387.6 168.3,387.0 169.4,386.6 170.6,386.3 171.8,386.0 173.0,385.7 174.3,385.4 175.6,385.2 176.9,385.0 178.3,384.8 179.7,384.5 181.2,384.3 182.7,384.1 184.3,383.8 185.9,383.6 187.5,383.3 189.2,383.1 190.9,382.8 192.7,382.4 194.6,382.1 196.5,381.8 198.4,381.4 200.4,381.0 202.5,380.5 204.6,380.1 206.8,379.6 209.1,379.0 211.4,378.5 213.8,377.9 216.3,377.2 218.8,376.5 221.4,375.7 224.1,374.8 226.9,373.9 229.7,372.9 232.7,371.8 235.7,370.7 238.8,369.4 242.0,368.0 245.3,366.4 248.6,364.8 252.1,362.9 255.7,360.9 259.4,358.7 263.2,356.2 267.1,353.5 271.1,350.5 275.3,347.1 279.5,343.4 283.9,339.2 288.5,334.6 293.1,329.5 297.9,323.7 302.8,317.3 307.9,310.1 313.1,302.1 318.5,293.3 324.0,283.6 329.7,273.1 335.6,262.0 341.6,250.4 347.8,238.7 354.2,227.6 360.8,217.8 367.5,210.2 374.5,205.5 381.7,204.4 389.1,207.1 396.7,213.3 404.5,222.6 412.5,234.0 420.8,246.6 429.3,259.5 438.1,272.2 447.2,284.2 456.5,295.3 466.0,305.4 475.9,314.4 486.0,322.4 496.5,329.5 507.2,335.7 518.3,341.2 529.7,346.0 541.4,350.3 553.4,354.1 565.9,357.4 578.6,360.1 591.8,362.5 605.3,364.6 619.3,366.3 633.6,367.8 648.4,369.1 663.6,370.1 679.2,371.0 695.3,371.8 711.9,372.4 728.9,372.8 746.5,373.1" stroke="none" marker-start="url(#m9)" marker-mid="url(#m9)" marker-end="url(#m9)"/>
<path d="M160.6 386.0 L161.6 385.9 L162.5 385.9 L163.5 385.8 L164.5 385.7 L165.5 385.6 L166.5 385.5 L167.4 385.4 L168.4 385.3 L169.4 385.2 L170.4 385.1 L171.3 384.9 L172.3 384.8 L173.3 384.7 L174.3 384.6 L175.3 384.5 L176.2 384.3 L177.2 384.2 L178.2 384.1 L179.2 383.9 L180.2 383.8 L181.1 383.6 L182.1 383.5 L183.1 383.4 L184.1 383.2 L185.0 383.0 L186.0 382.9 L187.0 382.7 L188.0 382.6 L189.0 382.4 L189.9 382.2 L190.9 382.1 L191.9 381.9 L192.9 381.7 L193.8 381.5 L194.8 381.3 L195.8 381.1 L196.8 380.9 L197.8 380.7 L198.7 380.5 L199.7 380.3 L200.7 380.1 L201.7 379.9 L202.6 379.7 L203.6 379.4 L204.6 379.2 L205.6 379.0 L206.6 378.7 L207.5 378.5 L208.5 378.3 L209.5 378.0 L210.5 377.7 L211.5 377.5 L212.4 377.2 L213.4 376.9 L214.4 376.7 L215.4 376.4 L216.3 376.1 L217.3 375.8 L218.3 375.5 L219.3 375.2 L220.3 374.9 L221.2 374.6 L222.2 374.3 L223.2 373.9 L224.2 373.6 L225.1 373.3 L226.1 372.9 L227.1 372.6 L228.1 372.2 L229.1 371.8 L230.0 371.5 L231.0 371.1 L232.0 370.7 L233.0 370.3 L233.9 369.9 L234.9 369.5 L235.9 369.1 L236.9 368.7 L237.9 368.2 L238.8 367.8 L239.8 367.4 L240.8 366.9 L241.8 366.4 L242.8 366.0 L243.7 365.5 L244.7 365.0 L245.7 364.5 L246.7 364.0 L247.6 363.5 L248.6 363.0 L249.6 362.4 L250.6 361.9 L251.6 361.3 L252.5 360.8 L253.5 360.2 L254.5 359.6 L255.5 359.0 L256.4 358.4 L257.4 357.8 L258.4 357.2 L259.4 356.5 L260.4 355.9 L261.3 355.2 L262.3 354.5 L263.3 353.9 L264.3 353.2 L265.2 352.5 L266.2 351.7 L267.2 351.0 L268.2 350.2 L269.2 349.5 L270.1 348.7 L271.1 347.9 L272.1 347.1 L273.1 346.3 L274.1 345.4 L275.0 344.6 L276.0 343.7 L277.0 342.9 L278.0 342.0 L278.9 341.0 L279.9 340.1 L280.9 339.2 L281.9 338.2 L282.9 337.2 L283.8 336.2 L284.8 335.2 L285.8 334.2 L286.8 333.2 L287.7 332.1 L288.7 331.0 L289.7 329.9 L290.7 328.8 L291.7 327.7 L292.6 326.5 L293.6 325.3 L294.6 324.2 L295.6 322.9 L296.6 321.7 L297.5 320.5 L298.5 319.2 L299.5 317.9 L300.5 316.6 L301.4 315.3 L302.4 313.9 L303.4 312.5 L304.4 311.2 L305.4 309.7 L306.3 308.3 L307.3 306.9 L308.3 305.4 L309.3 303.9 L310.2 302.4 L311.2 300.9 L312.2 299.3 L313.2 297.8 L314.2 296.2 L315.1 294.6 L316.1 293.0 L317.1 291.3 L318.1 289.7 L319.0 288.0 L320.0 286.3 L321.0 284.6 L322.0 282.9 L323.0 281.2 L323.9 279.5 L324.9 277.7 L325.9 276.0 L326.9 274.2 L327.9 272.4 L328.8 270.6 L329.8 268.8 L330.8 267.0 L331.8 265.2 L332.7 263.4 L333.7 261.6 L334.7 259.8 L335.7 258.0 L336.7 256.1 L337.6 254.3 L338.6 252.5 L339.6 250.8 L340.6 249.0 L341.5 247.2 L342.5 245.5 L343.5 243.7 L344.5 242.0 L345.5 240.3 L346.4 238.6 L347.4 237.0 L348.4 235.3 L349.4 233.7 L350.3 232.2 L351.3 230.6 L352.3 229.1 L353.3 227.7 L354.3 226.2 L355.2 224.8 L356.2 223.5 L357.2 222.2 L358.2 221.0 L359.2 219.8 L360.1 218.6 L361.1 217.5 L362.1 216.5 L363.1 215.5 L364.0 214.6 L365.0 213.7 L366.0 212.9 L367.0 212.2 L368.0 211.5 L368.9 210.9 L369.9 210.3 L370.9 209.8 L371.9 209.4 L372.8 209.1 L373.8 208.8 L374.8 208.6 L375.8 208.4 L376.8 208.3 L377.7 208.3 L378.7 208.3 L379.7 208.4 L380.7 208.6 L381.6 208.8 L382.6 209.1 L383.6 209.5 L384.6 209.9 L385.6 210.4 L386.5 210.9 L387.5 211.5 L388.5 212.1 L389.5 212.8 L390.5 213.6 L391.4 214.4 L392.4 215.2 L393.4 216.1 L394.4 217.0 L395.3 218.0 L396.3 219.0 L397.3 220.0 L398.3 221.1 L399.3 222.2 L400.2 223.4 L401.2 224.6 L402.2 225.8 L403.2 227.0 L404.1 228.3 L405.1 229.5 L406.1 230.8 L407.1 232.1 L408.1 233.5 L409.0 234.8 L410.0 236.2 L411.0 237.6 L412.0 239.0 L413.0 240.3 L413.9 241.7 L414.9 243.2 L415.9 244.6 L416.9 246.0 L417.8 247.4 L418.8 248.8 L419.8 250.3 L420.8 251.7 L421.8 253.1 L422.7 254.5 L423.7 255.9 L424.7 257.3 L425.7 258.7 L426.6 260.1 L427.6 261.5 L428.6 262.9 L429.6 264.3 L430.6 265.7 L431.5 267.0 L432.5 268.4 L433.5 269.7 L434.5 271.1 L435.4 272.4 L436.4 273.7 L437.4 275.0 L438.4 276.3 L439.4 277.5 L440.3 278.8 L441.3 280.0 L442.3 281.3 L443.3 282.5 L444.3 283.7 L445.2 284.9 L446.2 286.1 L447.2 287.3 L448.2 288.4 L449.1 289.5 L450.1 290.7 L451.1 291.8 L452.1 292.9 L453.1 294.0 L454.0 295.1 L455.0 296.1 L456.0 297.2 L457.0 298.2 L457.9 299.2 L458.9 300.2 L459.9 301.2 L460.9 302.2 L461.9 303.2 L462.8 304.1 L463.8 305.1 L464.8 306.0 L465.8 306.9 L466.7 307.8 L467.7 308.7 L468.7 309.6 L469.7 310.5 L470.7 311.3 L471.6 312.2 L472.6 313.0 L473.6 313.8 L474.6 314.6 L475.6 315.4 L476.5 316.2 L477.5 317.0 L478.5 317.7 L479.5 318.5 L480.4 319.2 L481.4 320.0 L482.4 320.7 L483.4 321.4 L484.4 322.1 L485.3 322.8 L486.3 323.5 L487.3 324.1 L488.3 324.8 L489.2 325.5 L490.2 326.1 L491.2 326.7 L492.2 327.4 L493.2 328.0 L494.1 328.6 L495.1 329.2 L496.1 329.8 L497.1 330.3 L498.0 330.9 L499.0 331.5 L500.0 332.0 L501.0 332.6 L502.0 333.1 L502.9 333.7 L503.9 334.2 L504.9 334.7 L505.9 335.2 L506.9 335.7 L507.8 336.2 L508.8 336.7 L509.8 337.2 L510.8 337.7 L511.7 338.1 L512.7 338.6 L513.7 339.0 L514.7 339.5 L515.7 339.9 L516.6 340.4 L517.6 340.8 L518.6 341.2 L519.6 341.7 L520.5 342.1 L521.5 342.5 L522.5 342.9 L523.5 343.3 L524.5 343.7 L525.4 344.0 L526.4 344.4 L527.4 344.8 L528.4 345.2 L529.4 345.5 L530.3 345.9 L531.3 346.3 L532.3 346.6 L533.3 346.9 L534.2 347.3 L535.2 347.6 L536.2 348.0 L537.2 348.3 L538.2 348.6 L539.1 348.9 L540.1 349.2 L541.1 349.5 L542.1 349.9 L543.0 350.2 L544.0 350.5 L545.0 350.7 L546.0 351.0 L547.0 351.3 L547.9 351.6 L548.9 351.9 L549.9 352.2 L550.9 352.4 L551.8 352.7 L552.8 353.0 L553.8 353.2 L554.8 353.5 L555.8 353.7 L556.7 354.0 L557.7 354.2 L558.7 354.5 L559.7 354.7 L560.7 354.9 L561.6 355.2 L562.6 355.4 L563.6 355.6 L564.6 355.9 L565.5 356.1 L566.5 356.3 L567.5 356.5 L568.5 356.7 L569.5 357.0 L570.4 357.2 L571.4 357.4 L572.4 357.6 L573.4 357.8 L574.3 358.0 L575.3 358.2 L576.3 358.4 L577.3 358.6 L578.3 358.7 L579.2 358.9 L580.2 359.1 L581.2 359.3 L582.2 359.5 L583.1 359.6 L584.1 359.8 L585.1 360.0 L586.1 360.2 L587.1 360.3 L588.0 360.5 L589.0 360.7 L590.0 360.8 L591.0 361.0 L592.0 361.1 L592.9 361.3 L593.9 361.5 L594.9 361.6 L595.9 361.8 L596.8 361.9 L597.8 362.0 L598.8 362.2 L599.8 362.3 L600.8 362.5 L601.7 362.6 L602.7 362.8 L603.7 362.9 L604.7 363.0 L605.6 363.2 L606.6 363.3 L607.6 363.4 L608.6 363.5 L609.6 363.7 L610.5 363.8 L611.5 363.9 L612.5 364.0 L613.5 364.2 L614.4 364.3 L615.4 364.4 L616.4 364.5 L617.4 364.6 L618.4 364.7 L619.3 364.9 L620.3 365.0 L621.3 365.1 L622.3 365.2 L623.3 365.3 L624.2 365.4 L625.2 365.5 L626.2 365.6 L627.2 365.7 L628.1 365.8 L629.1 365.9 L630.1 366.0 L631.1 366.1 L632.1 366.2 L633.0 366.3 L634.0 366.4 L635.0 366.5 L636.0 366.5 L636.9 366.6 L637.9 366.7 L638.9 366.8 L639.9 366.9 L640.9 367.0 L641.8 367.1 L642.8 367.1 L643.8 367.2 L644.8 367.3 L645.8 367.4 L646.7 367.5 L647.7 367.5 L648.7 367.6 L649.7 367.7 L650.6 367.8 L651.6 367.8 L652.6 367.9 L653.6 368.0 L654.6 368.1 L655.5 368.1 L656.5 368.2 L657.5 368.3 L658.5 368.3 L659.4 368.4 L660.4 368.5 L661.4 368.5 L662.4 368.6 L663.4 368.7 L664.3 368.7 L665.3 368.8 L666.3 368.8 L667.3 368.9 L668.2 369.0 L669.2 369.0 L670.2 369.1 L671.2 369.1 L672.2 369.2 L673.1 369.3 L674.1 369.3 L675.1 369.4 L676.1 369.4 L677.1 369.5 L678.0 369.5 L679.0 369.6 L680.0 369.6 L681.0 369.7 L681.9 369.7 L682.9 369.8 L683.9 369.8 L684.9 369.9 L685.9 369.9 L686.8 370.0 L687.8 370.0 L688.8 370.0 L689.8 370.1 L690.7 370.1 L691.7 370.2 L692.7 370.2 L693.7 370.3 L694.7 370.3 L695.6 370.3 L696.6 370.4 L697.6 370.4 L698.6 370.5 L699.5 370.5 L700.5 370.5 L701.5 370.6 L702.5 370.6 L703.5 370.6 L704.4 370.7 L705.4 370.7 L706.4 370.7 L707.4 370.8 L708.4 370.8 L709.3 370.8 L710.3 370.9 L711.3 370.9 L712.3 370.9 L713.2 371.0 L714.2 371.0 L715.2 371.0 L716.2 371.1 L717.2 371.1 L718.1 371.1 L719.1 371.1 L720.1 371.2 L721.1 371.2 L722.0 371.2 L723.0 371.2 L724.0 371.3 L725.0 371.3 L726.0 371.3 L726.9 371.3 L727.9 371.4 L728.9 371.4 L729.9 371.4 L730.8 371.4 L731.8 371.5 L732.8 371.5 L733.8 371.5 L734.8 371.5 L735.7 371.5 L736.7 371.6 L737.7 371.6 L738.7 371.6 L739.7 371.6 L740.6 371.6 L741.6 371.7 L742.6 371.7 L743.6 371.7 L744.5 371.7 L745.5 371.7 L746.5 371.7" stroke="#d24536" stroke-width="7"/>
<polyline points="161.2,393.8 162.2,392.0 163.1,390.5 164.1,389.3 165.1,388.4 166.1,387.6 167.2,387.0 168.3,386.4 169.4,386.0 170.6,385.7 171.8,385.3 173.0,385.1 174.3,384.8 175.6,384.6 176.9,384.4 178.3,384.1 179.7,383.9 181.2,383.7 182.7,383.4 184.3,383.2 185.9,382.9 187.5,382.7 189.2,382.4 190.9,382.0 192.7,381.7 194.6,381.4 196.5,381.0 198.4,380.6 200.4,380.2 202.5,379.7 204.6,379.2 206.8,378.7 209.1,378.1 211.4,377.5 213.8,376.8 216.3,376.1 218.8,375.4 221.4,374.5 224.1,373.6 226.9,372.7 229.7,371.6 232.7,370.4 235.7,369.2 238.8,367.8 242.0,366.4 245.3,364.7 248.6,363.0 252.1,361.0 255.7,358.9 259.4,356.5 263.2,353.9 267.1,351.1 271.1,347.9 275.3,344.4 279.5,340.5 283.9,336.1 288.5,331.3 293.1,326.0 297.9,320.0 302.8,313.4 307.9,306.0 313.1,297.9 318.5,289.0 324.0,279.3 329.7,269.0 335.6,258.2 341.6,247.1 347.8,236.3 354.2,226.3 360.8,217.9 367.5,211.8 374.5,208.6 381.7,208.8 389.1,212.5 396.7,219.3 404.5,228.7 412.5,239.7 420.8,251.7 429.3,264.0 438.1,275.9 447.2,287.2 456.5,297.7 466.0,307.2 475.9,315.7 486.0,323.3 496.5,330.0 507.2,336.0 518.3,341.3 529.7,346.0 541.4,350.1 553.4,353.8 565.9,356.9 578.6,359.7 591.8,362.0 605.3,364.0 619.3,365.8 633.6,367.3 648.4,368.5 663.6,369.6 679.2,370.5 695.3,371.2 711.9,371.8 728.9,372.3 746.5,372.7" stroke="none" marker-start="url(#m10)" marker-mid="url(#m10)" marker-end="url(#m10)"/>
<path d="M160.6 385.5 L161.6 385.4 L162.5 385.3 L163.5 385.2 L164.5 385.1 L165.5 385.0 L166.5 384.9 L167.4 384.8 L168.4 384.7 L169.4 384.6 L170.4 384.5 L171.3 384.4 L172.3 384.3 L173.3 384.1 L174.3 384.0 L175.3 383.9 L176.2 383.8 L177.2 383.6 L178.2 383.5 L179.2 383.3 L180.2 383.2 L181.1 383.0 L182.1 382.9 L183.1 382.7 L184.1 382.6 L185.0 382.4 L186.0 382.3 L187.0 382.1 L188.0 381.9 L189.0 381.7 L189.9 381.6 L190.9 381.4 L191.9 381.2 L192.9 381.0 L193.8 380.8 L194.8 380.6 L195.8 380.4 L196.8 380.2 L197.8 380.0 L198.7 379.8 L199.7 379.5 L200.7 379.3 L201.7 379.1 L202.6 378.9 L203.6 378.6 L204.6 378.4 L205.6 378.1 L206.6 377.9 L207.5 377.6 L208.5 377.4 L209.5 377.1 L210.5 376.8 L211.5 376.6 L212.4 376.3 L213.4 376.0 L214.4 375.7 L215.4 375.4 L216.3 375.1 L217.3 374.8 L218.3 374.5 L219.3 374.1 L220.3 373.8 L221.2 373.5 L222.2 373.2 L223.2 372.8 L224.2 372.5 L225.1 372.1 L226.1 371.7 L227.1 371.4 L228.1 371.0 L229.1 370.6 L230.0 370.2 L231.0 369.8 L232.0 369.4 L233.0 369.0 L233.9 368.6 L234.9 368.1 L235.9 367.7 L236.9 367.3 L237.9 366.8 L238.8 366.3 L239.8 365.9 L240.8 365.4 L241.8 364.9 L242.8 364.4 L243.7 363.9 L244.7 363.4 L245.7 362.9 L246.7 362.3 L247.6 361.8 L248.6 361.3 L249.6 360.7 L250.6 360.1 L251.6 359.5 L252.5 359.0 L253.5 358.3 L254.5 357.7 L255.5 357.1 L256.4 356.5 L257.4 355.8 L258.4 355.2 L259.4 354.5 L260.4 353.8 L261.3 353.1 L262.3 352.4 L263.3 351.7 L264.3 351.0 L265.2 350.2 L266.2 349.5 L267.2 348.7 L268.2 347.9 L269.2 347.1 L270.1 346.3 L271.1 345.5 L272.1 344.6 L273.1 343.8 L274.1 342.9 L275.0 342.0 L276.0 341.1 L277.0 340.2 L278.0 339.3 L278.9 338.3 L279.9 337.4 L280.9 336.4 L281.9 335.4 L282.9 334.4 L283.8 333.3 L284.8 332.3 L285.8 331.2 L286.8 330.2 L287.7 329.1 L288.7 327.9 L289.7 326.8 L290.7 325.7 L291.7 324.5 L292.6 323.3 L293.6 322.1 L294.6 320.9 L295.6 319.6 L296.6 318.4 L297.5 317.1 L298.5 315.8 L299.5 314.5 L300.5 313.1 L301.4 311.8 L302.4 310.4 L303.4 309.0 L304.4 307.6 L305.4 306.2 L306.3 304.7 L307.3 303.2 L308.3 301.8 L309.3 300.3 L310.2 298.7 L311.2 297.2 L312.2 295.6 L313.2 294.1 L314.2 292.5 L315.1 290.9 L316.1 289.3 L317.1 287.6 L318.1 286.0 L319.0 284.4 L320.0 282.7 L321.0 281.0 L322.0 279.3 L323.0 277.6 L323.9 275.9 L324.9 274.2 L325.9 272.5 L326.9 270.7 L327.9 269.0 L328.8 267.3 L329.8 265.5 L330.8 263.8 L331.8 262.0 L332.7 260.3 L333.7 258.6 L334.7 256.8 L335.7 255.1 L336.7 253.4 L337.6 251.7 L338.6 250.0 L339.6 248.3 L340.6 246.7 L341.5 245.0 L342.5 243.4 L343.5 241.8 L344.5 240.2 L345.5 238.7 L346.4 237.1 L347.4 235.6 L348.4 234.2 L349.4 232.7 L350.3 231.3 L351.3 230.0 L352.3 228.6 L353.3 227.3 L354.3 226.1 L355.2 224.9 L356.2 223.7 L357.2 222.6 L358.2 221.6 L359.2 220.6 L360.1 219.6 L361.1 218.7 L362.1 217.9 L363.1 217.1 L364.0 216.4 L365.0 215.7 L366.0 215.1 L367.0 214.5 L368.0 214.0 L368.9 213.6 L369.9 213.2 L370.9 212.9 L371.9 212.7 L372.8 212.5 L373.8 212.4 L374.8 212.3 L375.8 212.3 L376.8 212.4 L377.7 212.5 L378.7 212.7 L379.7 212.9 L380.7 213.2 L381.6 213.5 L382.6 213.9 L383.6 214.4 L384.6 214.9 L385.6 215.5 L386.5 216.1 L387.5 216.7 L388.5 217.4 L389.5 218.2 L390.5 219.0 L391.4 219.8 L392.4 220.7 L393.4 221.6 L394.4 222.6 L395.3 223.6 L396.3 224.6 L397.3 225.6 L398.3 226.7 L399.3 227.8 L400.2 229.0 L401.2 230.1 L402.2 231.3 L403.2 232.5 L404.1 233.7 L405.1 235.0 L406.1 236.2 L407.1 237.5 L408.1 238.8 L409.0 240.1 L410.0 241.4 L411.0 242.7 L412.0 244.0 L413.0 245.4 L413.9 246.7 L414.9 248.0 L415.9 249.4 L416.9 250.7 L417.8 252.1 L418.8 253.4 L419.8 254.8 L420.8 256.1 L421.8 257.5 L422.7 258.8 L423.7 260.1 L424.7 261.5 L425.7 262.8 L426.6 264.1 L427.6 265.4 L428.6 266.7 L429.6 268.0 L430.6 269.3 L431.5 270.6 L432.5 271.9 L433.5 273.1 L434.5 274.4 L435.4 275.6 L436.4 276.9 L437.4 278.1 L438.4 279.3 L439.4 280.5 L440.3 281.7 L441.3 282.9 L442.3 284.0 L443.3 285.2 L444.3 286.3 L445.2 287.4 L446.2 288.6 L447.2 289.7 L448.2 290.8 L449.1 291.8 L450.1 292.9 L451.1 294.0 L452.1 295.0 L453.1 296.0 L454.0 297.0 L455.0 298.0 L456.0 299.0 L457.0 300.0 L457.9 301.0 L458.9 301.9 L459.9 302.9 L460.9 303.8 L461.9 304.7 L462.8 305.6 L463.8 306.5 L464.8 307.4 L465.8 308.3 L466.7 309.1 L467.7 310.0 L468.7 310.8 L469.7 311.7 L470.7 312.5 L471.6 313.3 L472.6 314.1 L473.6 314.9 L474.6 315.6 L475.6 316.4 L476.5 317.1 L477.5 317.9 L478.5 318.6 L479.5 319.3 L480.4 320.0 L481.4 320.7 L482.4 321.4 L483.4 322.1 L484.4 322.8 L485.3 323.4 L486.3 324.1 L487.3 324.7 L488.3 325.4 L489.2 326.0 L490.2 326.6 L491.2 327.2 L492.2 327.8 L493.2 328.4 L494.1 329.0 L495.1 329.6 L496.1 330.1 L497.1 330.7 L498.0 331.3 L499.0 331.8 L500.0 332.3 L501.0 332.9 L502.0 333.4 L502.9 333.9 L503.9 334.4 L504.9 334.9 L505.9 335.4 L506.9 335.9 L507.8 336.4 L508.8 336.8 L509.8 337.3 L510.8 337.8 L511.7 338.2 L512.7 338.7 L513.7 339.1 L514.7 339.6 L515.7 340.0 L516.6 340.4 L517.6 340.8 L518.6 341.2 L519.6 341.6 L520.5 342.1 L521.5 342.4 L522.5 342.8 L523.5 343.2 L524.5 343.6 L525.4 344.0 L526.4 344.4 L527.4 344.7 L528.4 345.1 L529.4 345.4 L530.3 345.8 L531.3 346.1 L532.3 346.5 L533.3 346.8 L534.2 347.1 L535.2 347.5 L536.2 347.8 L537.2 348.1 L538.2 348.4 L539.1 348.7 L540.1 349.1 L541.1 349.4 L542.1 349.7 L543.0 350.0 L544.0 350.2 L545.0 350.5 L546.0 350.8 L547.0 351.1 L547.9 351.4 L548.9 351.6 L549.9 351.9 L550.9 352.2 L551.8 352.4 L552.8 352.7 L553.8 353.0 L554.8 353.2 L555.8 353.5 L556.7 353.7 L557.7 354.0 L558.7 354.2 L559.7 354.4 L560.7 354.7 L561.6 354.9 L562.6 355.1 L563.6 355.4 L564.6 355.6 L565.5 355.8 L566.5 356.0 L567.5 356.2 L568.5 356.4 L569.5 356.6 L570.4 356.9 L571.4 357.1 L572.4 357.3 L573.4 357.5 L574.3 357.7 L575.3 357.8 L576.3 358.0 L577.3 358.2 L578.3 358.4 L579.2 358.6 L580.2 358.8 L581.2 359.0 L582.2 359.1 L583.1 359.3 L584.1 359.5 L585.1 359.7 L586.1 359.8 L587.1 360.0 L588.0 360.2 L589.0 360.3 L590.0 360.5 L591.0 360.6 L592.0 360.8 L592.9 361.0 L593.9 361.1 L594.9 361.3 L595.9 361.4 L596.8 361.6 L597.8 361.7 L598.8 361.8 L599.8 362.0 L600.8 362.1 L601.7 362.3 L602.7 362.4 L603.7 362.5 L604.7 362.7 L605.6 362.8 L606.6 362.9 L607.6 363.1 L608.6 363.2 L609.6 363.3 L610.5 363.4 L611.5 363.6 L612.5 363.7 L613.5 363.8 L614.4 363.9 L615.4 364.1 L616.4 364.2 L617.4 364.3 L618.4 364.4 L619.3 364.5 L620.3 364.6 L621.3 364.7 L622.3 364.8 L623.3 364.9 L624.2 365.0 L625.2 365.1 L626.2 365.2 L627.2 365.4 L628.1 365.5 L629.1 365.6 L630.1 365.6 L631.1 365.7 L632.1 365.8 L633.0 365.9 L634.0 366.0 L635.0 366.1 L636.0 366.2 L636.9 366.3 L637.9 366.4 L638.9 366.5 L639.9 366.6 L640.9 366.6 L641.8 366.7 L642.8 366.8 L643.8 366.9 L644.8 367.0 L645.8 367.1 L646.7 367.1 L647.7 367.2 L648.7 367.3 L649.7 367.4 L650.6 367.4 L651.6 367.5 L652.6 367.6 L653.6 367.7 L654.6 367.7 L655.5 367.8 L656.5 367.9 L657.5 367.9 L658.5 368.0 L659.4 368.1 L660.4 368.1 L661.4 368.2 L662.4 368.3 L663.4 368.3 L664.3 368.4 L665.3 368.5 L666.3 368.5 L667.3 368.6 L668.2 368.7 L669.2 368.7 L670.2 368.8 L671.2 368.8 L672.2 368.9 L673.1 368.9 L674.1 369.0 L675.1 369.1 L676.1 369.1 L677.1 369.2 L678.0 369.2 L679.0 369.3 L680.0 369.3 L681.0 369.4 L681.9 369.4 L682.9 369.5 L683.9 369.5 L684.9 369.6 L685.9 369.6 L686.8 369.7 L687.8 369.7 L688.8 369.7 L689.8 369.8 L690.7 369.8 L691.7 369.9 L692.7 369.9 L693.7 370.0 L694.7 370.0 L695.6 370.0 L696.6 370.1 L697.6 370.1 L698.6 370.2 L699.5 370.2 L700.5 370.2 L701.5 370.3 L702.5 370.3 L703.5 370.4 L704.4 370.4 L705.4 370.4 L706.4 370.5 L707.4 370.5 L708.4 370.5 L709.3 370.6 L710.3 370.6 L711.3 370.6 L712.3 370.7 L713.2 370.7 L714.2 370.7 L715.2 370.8 L716.2 370.8 L717.2 370.8 L718.1 370.8 L719.1 370.9 L720.1 370.9 L721.1 370.9 L722.0 371.0 L723.0 371.0 L724.0 371.0 L725.0 371.0 L726.0 371.1 L726.9 371.1 L727.9 371.1 L728.9 371.1 L729.9 371.2 L730.8 371.2 L731.8 371.2 L732.8 371.2 L733.8 371.2 L734.8 371.3 L735.7 371.3 L736.7 371.3 L737.7 371.3 L738.7 371.4 L739.7 371.4 L740.6 371.4 L741.6 371.4 L742.6 371.4 L743.6 371.4 L744.5 371.5 L745.5 371.5 L746.5 371.5" stroke="#c1232f" stroke-width="7"/>
<polyline points="161.2,393.2 162.2,391.4 163.1,390.0 164.1,388.8 165.1,387.8 166.1,387.0 167.2,386.4 168.3,385.9 169.4,385.5 170.6,385.1 171.8,384.8 173.0,384.5 174.3,384.2 175.6,384.0 176.9,383.8 178.3,383.5 179.7,383.3 181.2,383.1 182.7,382.8 184.3,382.6 185.9,382.3 187.5,382.0 189.2,381.7 190.9,381.4 192.7,381.0 194.6,380.7 196.5,380.3 198.4,379.8 200.4,379.4 202.5,378.9 204.6,378.4 206.8,377.8 209.1,377.2 211.4,376.6 213.8,375.9 216.3,375.1 218.8,374.3 221.4,373.4 224.1,372.5 226.9,371.4 229.7,370.3 232.7,369.1 235.7,367.8 238.8,366.4 242.0,364.8 245.3,363.1 248.6,361.2 252.1,359.2 255.7,357.0 259.4,354.5 263.2,351.8 267.1,348.8 271.1,345.5 275.3,341.8 279.5,337.7 283.9,333.2 288.5,328.3 293.1,322.7 297.9,316.6 302.8,309.8 307.9,302.4 313.1,294.2 318.5,285.3 324.0,275.8 329.7,265.7 335.6,255.3 341.6,244.9 347.8,235.0 354.2,226.2 360.8,219.0 367.5,214.2 374.5,212.3 381.7,213.5 389.1,217.9 396.7,224.9 404.5,234.1 412.5,244.8 420.8,256.2 429.3,267.7 438.1,279.0 447.2,289.6 456.5,299.5 466.0,308.5 475.9,316.7 486.0,323.9 496.5,330.4 507.2,336.1 518.3,341.2 529.7,345.7 541.4,349.7 553.4,353.3 565.9,356.3 578.6,359.0 591.8,361.3 605.3,363.3 619.3,365.1 633.6,366.5 648.4,367.8 663.6,368.9 679.2,369.8 695.3,370.6 711.9,371.2 728.9,371.7 746.5,372.1" stroke="none" marker-start="url(#m11)" marker-mid="url(#m11)" marker-end="url(#m11)"/>
<path d="M160.6 385.0 L161.6 384.9 L162.5 384.8 L163.5 384.7 L164.5 384.6 L165.5 384.5 L166.5 384.4 L167.4 384.3 L168.4 384.2 L169.4 384.1 L170.4 384.0 L171.3 383.9 L172.3 383.8 L173.3 383.6 L174.3 383.5 L175.3 383.4 L176.2 383.2 L177.2 383.1 L178.2 383.0 L179.2 382.8 L180.2 382.7 L181.1 382.5 L182.1 382.4 L183.1 382.2 L184.1 382.0 L185.0 381.9 L186.0 381.7 L187.0 381.5 L188.0 381.3 L189.0 381.2 L189.9 381.0 L190.9 380.8 L191.9 380.6 L192.9 380.4 L193.8 380.2 L194.8 380.0 L195.8 379.8 L196.8 379.5 L197.8 379.3 L198.7 379.1 L199.7 378.9 L200.7 378.6 L201.7 378.4 L202.6 378.2 L203.6 377.9 L204.6 377.7 L205.6 377.4 L206.6 377.1 L207.5 376.9 L208.5 376.6 L209.5 376.3 L210.5 376.0 L211.5 375.7 L212.4 375.5 L213.4 375.2 L214.4 374.8 L215.4 374.5 L216.3 374.2 L217.3 373.9 L218.3 373.6 L219.3 373.2 L220.3 372.9 L221.2 372.5 L222.2 372.2 L223.2 371.8 L224.2 371.5 L225.1 371.1 L226.1 370.7 L227.1 370.3 L228.1 369.9 L229.1 369.5 L230.0 369.1 L231.0 368.7 L232.0 368.3 L233.0 367.8 L233.9 367.4 L234.9 367.0 L235.9 366.5 L236.9 366.0 L237.9 365.6 L238.8 365.1 L239.8 364.6 L240.8 364.1 L241.8 363.6 L242.8 363.1 L243.7 362.6 L244.7 362.0 L245.7 361.5 L246.7 360.9 L247.6 360.4 L248.6 359.8 L249.6 359.2 L250.6 358.6 L251.6 358.0 L252.5 357.4 L253.5 356.8 L254.5 356.1 L255.5 355.5 L256.4 354.8 L257.4 354.1 L258.4 353.4 L259.4 352.7 L260.4 352.0 L261.3 351.3 L262.3 350.6 L263.3 349.8 L264.3 349.1 L265.2 348.3 L266.2 347.5 L267.2 346.7 L268.2 345.9 L269.2 345.1 L270.1 344.2 L271.1 343.4 L272.1 342.5 L273.1 341.6 L274.1 340.7 L275.0 339.8 L276.0 338.9 L277.0 337.9 L278.0 336.9 L278.9 336.0 L279.9 335.0 L280.9 334.0 L281.9 332.9 L282.9 331.9 L283.8 330.8 L284.8 329.7 L285.8 328.6 L286.8 327.5 L287.7 326.4 L288.7 325.2 L289.7 324.1 L290.7 322.9 L291.7 321.7 L292.6 320.5 L293.6 319.2 L294.6 318.0 L295.6 316.7 L296.6 315.4 L297.5 314.1 L298.5 312.8 L299.5 311.4 L300.5 310.1 L301.4 308.7 L302.4 307.3 L303.4 305.9 L304.4 304.4 L305.4 303.0 L306.3 301.5 L307.3 300.0 L308.3 298.5 L309.3 297.0 L310.2 295.5 L311.2 293.9 L312.2 292.4 L313.2 290.8 L314.2 289.2 L315.1 287.6 L316.1 286.0 L317.1 284.4 L318.1 282.7 L319.0 281.1 L320.0 279.4 L321.0 277.7 L322.0 276.1 L323.0 274.4 L323.9 272.7 L324.9 271.0 L325.9 269.3 L326.9 267.6 L327.9 265.9 L328.8 264.2 L329.8 262.5 L330.8 260.8 L331.8 259.2 L332.7 257.5 L333.7 255.8 L334.7 254.1 L335.7 252.5 L336.7 250.8 L337.6 249.2 L338.6 247.6 L339.6 246.0 L340.6 244.4 L341.5 242.9 L342.5 241.3 L343.5 239.8 L344.5 238.4 L345.5 236.9 L346.4 235.5 L347.4 234.1 L348.4 232.8 L349.4 231.5 L350.3 230.2 L351.3 228.9 L352.3 227.7 L353.3 226.6 L354.3 225.5 L355.2 224.4 L356.2 223.4 L357.2 222.5 L358.2 221.5 L359.2 220.7 L360.1 219.9 L361.1 219.1 L362.1 218.4 L363.1 217.8 L364.0 217.2 L365.0 216.7 L366.0 216.2 L367.0 215.8 L368.0 215.4 L368.9 215.1 L369.9 214.9 L370.9 214.7 L371.9 214.6 L372.8 214.5 L373.8 214.5 L374.8 214.6 L375.8 214.7 L376.8 214.9 L377.7 215.1 L378.7 215.4 L379.7 215.7 L380.7 216.1 L381.6 216.5 L382.6 217.0 L383.6 217.5 L384.6 218.1 L385.6 218.8 L386.5 219.4 L387.5 220.2 L388.5 220.9 L389.5 221.7 L390.5 222.5 L391.4 223.4 L392.4 224.3 L393.4 225.3 L394.4 226.2 L395.3 227.3 L396.3 228.3 L397.3 229.4 L398.3 230.4 L399.3 231.5 L400.2 232.7 L401.2 233.8 L402.2 235.0 L403.2 236.2 L404.1 237.4 L405.1 238.6 L406.1 239.9 L407.1 241.1 L408.1 242.4 L409.0 243.6 L410.0 244.9 L411.0 246.2 L412.0 247.5 L413.0 248.8 L413.9 250.1 L414.9 251.4 L415.9 252.7 L416.9 254.0 L417.8 255.3 L418.8 256.6 L419.8 257.9 L420.8 259.2 L421.8 260.5 L422.7 261.8 L423.7 263.1 L424.7 264.4 L425.7 265.6 L426.6 266.9 L427.6 268.2 L428.6 269.4 L429.6 270.7 L430.6 271.9 L431.5 273.1 L432.5 274.4 L433.5 275.6 L434.5 276.8 L435.4 278.0 L436.4 279.2 L437.4 280.3 L438.4 281.5 L439.4 282.6 L440.3 283.8 L441.3 284.9 L442.3 286.0 L443.3 287.1 L444.3 288.2 L445.2 289.3 L446.2 290.4 L447.2 291.4 L448.2 292.5 L449.1 293.5 L450.1 294.6 L451.1 295.6 L452.1 296.6 L453.1 297.6 L454.0 298.5 L455.0 299.5 L456.0 300.5 L457.0 301.4 L457.9 302.3 L458.9 303.2 L459.9 304.2 L460.9 305.0 L461.9 305.9 L462.8 306.8 L463.8 307.7 L464.8 308.5 L465.8 309.4 L466.7 310.2 L467.7 311.0 L468.7 311.8 L469.7 312.6 L470.7 313.4 L471.6 314.2 L472.6 314.9 L473.6 315.7 L474.6 316.4 L475.6 317.2 L476.5 317.9 L477.5 318.6 L478.5 319.3 L479.5 320.0 L480.4 320.7 L481.4 321.4 L482.4 322.1 L483.4 322.7 L484.4 323.4 L485.3 324.0 L486.3 324.6 L487.3 325.3 L488.3 325.9 L489.2 326.5 L490.2 327.1 L491.2 327.7 L492.2 328.3 L493.2 328.8 L494.1 329.4 L495.1 330.0 L496.1 330.5 L497.1 331.1 L498.0 331.6 L499.0 332.1 L500.0 332.7 L501.0 333.2 L502.0 333.7 L502.9 334.2 L503.9 334.7 L504.9 335.2 L505.9 335.6 L506.9 336.1 L507.8 336.6 L508.8 337.1 L509.8 337.5 L510.8 338.0 L511.7 338.4 L512.7 338.8 L513.7 339.3 L514.7 339.7 L515.7 340.1 L516.6 340.5 L517.6 340.9 L518.6 341.4 L519.6 341.8 L520.5 342.1 L521.5 342.5 L522.5 342.9 L523.5 343.3 L524.5 343.7 L525.4 344.0 L526.4 344.4 L527.4 344.8 L528.4 345.1 L529.4 345.5 L530.3 345.8 L531.3 346.2 L532.3 346.5 L533.3 346.8 L534.2 347.1 L535.2 347.5 L536.2 347.8 L537.2 348.1 L538.2 348.4 L539.1 348.7 L540.1 349.0 L541.1 349.3 L542.1 349.6 L543.0 349.9 L544.0 350.2 L545.0 350.5 L546.0 350.8 L547.0 351.0 L547.9 351.3 L548.9 351.6 L549.9 351.8 L550.9 352.1 L551.8 352.4 L552.8 352.6 L553.8 352.9 L554.8 353.1 L555.8 353.4 L556.7 353.6 L557.7 353.9 L558.7 354.1 L559.7 354.3 L560.7 354.6 L561.6 354.8 L562.6 355.0 L563.6 355.2 L564.6 355.5 L565.5 355.7 L566.5 355.9 L567.5 356.1 L568.5 356.3 L569.5 356.5 L570.4 356.7 L571.4 356.9 L572.4 357.1 L573.4 357.3 L574.3 357.5 L575.3 357.7 L576.3 357.9 L577.3 358.1 L578.3 358.3 L579.2 358.5 L580.2 358.6 L581.2 358.8 L582.2 359.0 L583.1 359.2 L584.1 359.4 L585.1 359.5 L586.1 359.7 L587.1 359.9 L588.0 360.0 L589.0 360.2 L590.0 360.3 L591.0 360.5 L592.0 360.7 L592.9 360.8 L593.9 361.0 L594.9 361.1 L595.9 361.3 L596.8 361.4 L597.8 361.6 L598.8 361.7 L599.8 361.8 L600.8 362.0 L601.7 362.1 L602.7 362.3 L603.7 362.4 L604.7 362.5 L605.6 362.7 L606.6 362.8 L607.6 362.9 L608.6 363.0 L609.6 363.2 L610.5 363.3 L611.5 363.4 L612.5 363.5 L613.5 363.7 L614.4 363.8 L615.4 363.9 L616.4 364.0 L617.4 364.1 L618.4 364.2 L619.3 364.4 L620.3 364.5 L621.3 364.6 L622.3 364.7 L623.3 364.8 L624.2 364.9 L625.2 365.0 L626.2 365.1 L627.2 365.2 L628.1 365.3 L629.1 365.4 L630.1 365.5 L631.1 365.6 L632.1 365.7 L633.0 365.8 L634.0 365.9 L635.0 366.0 L636.0 366.1 L636.9 366.2 L637.9 366.2 L638.9 366.3 L639.9 366.4 L640.9 366.5 L641.8 366.6 L642.8 366.7 L643.8 366.8 L644.8 366.8 L645.8 366.9 L646.7 367.0 L647.7 367.1 L648.7 367.2 L649.7 367.2 L650.6 367.3 L651.6 367.4 L652.6 367.5 L653.6 367.5 L654.6 367.6 L655.5 367.7 L656.5 367.7 L657.5 367.8 L658.5 367.9 L659.4 368.0 L660.4 368.0 L661.4 368.1 L662.4 368.2 L663.4 368.2 L664.3 368.3 L665.3 368.3 L666.3 368.4 L667.3 368.5 L668.2 368.5 L669.2 368.6 L670.2 368.6 L671.2 368.7 L672.2 368.8 L673.1 368.8 L674.1 368.9 L675.1 368.9 L676.1 369.0 L677.1 369.0 L678.0 369.1 L679.0 369.1 L680.0 369.2 L681.0 369.2 L681.9 369.3 L682.9 369.4 L683.9 369.4 L684.9 369.4 L685.9 369.5 L686.8 369.5 L687.8 369.6 L688.8 369.6 L689.8 369.7 L690.7 369.7 L691.7 369.8 L692.7 369.8 L693.7 369.9 L694.7 369.9 L695.6 369.9 L696.6 370.0 L697.6 370.0 L698.6 370.1 L699.5 370.1 L700.5 370.1 L701.5 370.2 L702.5 370.2 L703.5 370.3 L704.4 370.3 L705.4 370.3 L706.4 370.4 L707.4 370.4 L708.4 370.4 L709.3 370.5 L710.3 370.5 L711.3 370.5 L712.3 370.6 L713.2 370.6 L714.2 370.6 L715.2 370.7 L716.2 370.7 L717.2 370.7 L718.1 370.8 L719.1 370.8 L720.1 370.8 L721.1 370.8 L722.0 370.9 L723.0 370.9 L724.0 370.9 L725.0 371.0 L726.0 371.0 L726.9 371.0 L727.9 371.0 L728.9 371.1 L729.9 371.1 L730.8 371.1 L731.8 371.1 L732.8 371.1 L733.8 371.2 L734.8 371.2 L735.7 371.2 L736.7 371.2 L737.7 371.3 L738.7 371.3 L739.7 371.3 L740.6 371.3 L741.6 371.3 L742.6 371.4 L743.6 371.4 L744.5 371.4 L745.5 371.4 L746.5 371.4" stroke="#b2202a" stroke-width="7"/>
<polyline points="161.2,392.8 162.2,391.0 163.1,389.5 164.1,388.3 165.1,387.3 166.1,386.6 167.2,385.9 168.3,385.4 169.4,385.0 170.6,384.6 171.8,384.3 173.0,384.0 174.3,383.7 175.6,383.5 176.9,383.3 178.3,383.0 179.7,382.8 181.2,382.5 182.7,382.3 184.3,382.0 185.9,381.7 187.5,381.4 189.2,381.1 190.9,380.8 192.7,380.4 194.6,380.0 196.5,379.6 198.4,379.2 200.4,378.7 202.5,378.2 204.6,377.6 206.8,377.1 209.1,376.4 211.4,375.8 213.8,375.0 216.3,374.2 218.8,373.4 221.4,372.5 224.1,371.5 226.9,370.4 229.7,369.3 232.7,368.0 235.7,366.6 238.8,365.1 242.0,363.5 245.3,361.7 248.6,359.8 252.1,357.6 255.7,355.3 259.4,352.7 263.2,349.9 267.1,346.8 271.1,343.3 275.3,339.6 279.5,335.4 283.9,330.7 288.5,325.6 293.1,319.9 297.9,313.6 302.8,306.7 307.9,299.1 313.1,290.9 318.5,282.0 324.0,272.6 329.7,262.7 335.6,252.7 341.6,242.8 347.8,233.6 354.2,225.6 360.8,219.4 367.5,215.6 374.5,214.6 381.7,216.5 389.1,221.4 396.7,228.7 404.5,237.8 412.5,248.2 420.8,259.3 429.3,270.4 438.1,281.2 447.2,291.4 456.5,300.9 466.0,309.6 475.9,317.4 486.0,324.5 496.5,330.7 507.2,336.3 518.3,341.2 529.7,345.6 541.4,349.4 553.4,352.8 565.9,355.8 578.6,358.4 591.8,360.6 605.3,362.6 619.3,364.3 633.6,365.8 648.4,367.1 663.6,368.2 679.2,369.2 695.3,369.9 711.9,370.6 728.9,371.1 746.5,371.4" stroke="none" marker-start="url(#m12)" marker-mid="url(#m12)" marker-end="url(#m12)"/>
</g>
<g font-family="Liberation Sans, Arial, sans-serif" font-weight="bold" font-size="34" fill="#262626" stroke="#262626" stroke-width="0.4">
<text transform="translate(119.7 450.3) scale(1 1.02)" text-anchor="end">5.5</text>
<text transform="translate(119.7 357.1) scale(1 1.02)" text-anchor="end">6.5</text>
<text transform="translate(119.7 263.8) scale(1 1.02)" text-anchor="end">7.5</text>
<text transform="translate(119.7 170.6) scale(1 1.02)" text-anchor="end">8.5</text>
<text transform="translate(119.7 77.3) scale(1 1.02)" text-anchor="end">9.5</text>
<text transform="translate(129.8 480.3) scale(1 1.02)" text-anchor="middle">0</text>
<text transform="translate(283.9 480.3) scale(1 1.02)" text-anchor="middle">500</text>
<text transform="translate(438.1 480.3) scale(1 1.02)" text-anchor="middle">1000</text>
<text transform="translate(592.3 480.3) scale(1 1.02)" text-anchor="middle">1500</text>
<text transform="translate(746.5 480.3) scale(1 1.02)" text-anchor="middle">2000</text>
</g>
<text font-family="Liberation Sans, Arial, sans-serif" font-weight="bold" font-size="35.15" fill="#262626" stroke="#262626" stroke-width="0.35" x="436.7" y="525.6" text-anchor="middle">Frequency (Hz)</text>
<text font-family="Liberation Sans, Arial, sans-serif" font-weight="bold" font-size="35.2" fill="#262626" stroke="#262626" stroke-width="0.35" transform="translate(60.2 375.6) rotate(-90)">Impedance (<tspan font-family="Liberation Serif, serif" font-style="italic" font-size="40.5" stroke="#262626" stroke-width="0.7">Ω</tspan>)</text>
<rect x="816.4" y="408.49" width="61.20" height="29.21" fill="#336b99"/>
<rect x="816.4" y="379.78" width="61.20" height="29.21" fill="#3f8c98"/>
<rect x="816.4" y="351.08" width="61.20" height="29.21" fill="#8fbecb"/>
<rect x="816.4" y="322.37" width="61.20" height="29.21" fill="#d1e8e1"/>
<rect x="816.4" y="293.66" width="61.20" height="29.21" fill="#e7efb4"/>
<rect x="816.4" y="264.95" width="61.20" height="29.21" fill="#f5ec8f"/>
<rect x="816.4" y="236.25" width="61.20" height="29.21" fill="#f8d681"/>
<rect x="816.4" y="207.54" width="61.20" height="29.21" fill="#f6bb6c"/>
<rect x="816.4" y="178.83" width="61.20" height="29.21" fill="#f0975a"/>
<rect x="816.4" y="150.12" width="61.20" height="29.21" fill="#e36a40"/>
<rect x="816.4" y="121.42" width="61.20" height="29.21" fill="#d24536"/>
<rect x="816.4" y="92.71" width="61.20" height="29.21" fill="#c1232f"/>
<rect x="816.4" y="64.00" width="61.20" height="29.21" fill="#b2202a"/>
<rect x="816.4" y="63.6" width="61.20" height="372.00" fill="none" stroke="#262626" stroke-width="4.6"/>
<line x1="877.9" y1="61.300000000000004" x2="877.9" y2="437.90000000000003" stroke="#0a0a0a" stroke-width="4"/>
<line x1="879.9" y1="435.60" x2="871.6" y2="435.60" stroke="#000" stroke-width="3.6"/>
<line x1="879.9" y1="311.60" x2="871.6" y2="311.60" stroke="#000" stroke-width="3.6"/>
<line x1="879.9" y1="187.60" x2="871.6" y2="187.60" stroke="#000" stroke-width="3.6"/>
<line x1="879.9" y1="63.60" x2="871.6" y2="63.60" stroke="#000" stroke-width="3.6"/>
<g font-family="Liberation Sans, Arial, sans-serif" font-weight="bold" font-size="30.3" fill="#262626" stroke="#262626" stroke-width="0.35">
<text transform="translate(894.3 447.5) scale(1 1.02)" text-anchor="start">0</text>
<text transform="translate(894.3 323.5) scale(1 1.02)" text-anchor="start">0.08</text>
<text transform="translate(894.3 199.5) scale(1 1.02)" text-anchor="start">0.16</text>
<text transform="translate(894.3 75.5) scale(1 1.02)" text-anchor="start">0.24</text>
</g>
<text font-family="Liberation Sans, Arial, sans-serif" font-weight="bold" font-size="35.5" fill="#000" stroke="#000" stroke-width="0.35" transform="translate(1004.4 419.2) rotate(-90)">Filling Volume (cm³)</text>
<text font-family="Liberation Serif, Times New Roman, serif" font-weight="bold" font-size="51.3" fill="#231815" x="1.0" y="34.8" letter-spacing="0.5">(a)</text>
<text font-family="Liberation Serif, Times New Roman, serif" font-weight="bold" font-size="51.3" fill="#231815" x="-2.4" y="548.9" letter-spacing="1.0">(b)</text>
<rect x="224.6" y="828.6" width="13.4" height="13.4" fill="#dbe6f5" stroke="#1f439c" stroke-width="4.8" stroke-linejoin="round"/>
<rect x="283.5" y="811.1" width="13.4" height="13.4" fill="#dbe6f5" stroke="#1f439c" stroke-width="4.8" stroke-linejoin="round"/>
<rect x="342.4" y="778.3" width="13.4" height="13.4" fill="#dbe6f5" stroke="#1f439c" stroke-width="4.8" stroke-linejoin="round"/>
<rect x="401.2" y="764.2" width="13.4" height="13.4" fill="#dbe6f5" stroke="#1f439c" stroke-width="4.8" stroke-linejoin="round"/>
<rect x="460.1" y="759.7" width="13.4" height="13.4" fill="#dbe6f5" stroke="#1f439c" stroke-width="4.8" stroke-linejoin="round"/>
<rect x="519.0" y="741.9" width="13.4" height="13.4" fill="#dbe6f5" stroke="#1f439c" stroke-width="4.8" stroke-linejoin="round"/>
<rect x="577.9" y="720.7" width="13.4" height="13.4" fill="#dbe6f5" stroke="#1f439c" stroke-width="4.8" stroke-linejoin="round"/>
<rect x="636.8" y="714.0" width="13.4" height="13.4" fill="#dbe6f5" stroke="#1f439c" stroke-width="4.8" stroke-linejoin="round"/>
<rect x="695.6" y="698.0" width="13.4" height="13.4" fill="#dbe6f5" stroke="#1f439c" stroke-width="4.8" stroke-linejoin="round"/>
<rect x="754.5" y="673.4" width="13.4" height="13.4" fill="#dbe6f5" stroke="#1f439c" stroke-width="4.8" stroke-linejoin="round"/>
<rect x="813.4" y="657.9" width="13.4" height="13.4" fill="#dbe6f5" stroke="#1f439c" stroke-width="4.8" stroke-linejoin="round"/>
<rect x="872.3" y="650.9" width="13.4" height="13.4" fill="#dbe6f5" stroke="#1f439c" stroke-width="4.8" stroke-linejoin="round"/>
<rect x="931.2" y="629.0" width="13.4" height="13.4" fill="#dbe6f5" stroke="#1f439c" stroke-width="4.8" stroke-linejoin="round"/>
<line x1="226.9" y1="829.1" x2="937.9" y2="639.4" stroke="#1f439c" stroke-width="5.1" stroke-linecap="round"/>
<rect x="216.0" y="604.5" width="13.4" height="13.4" fill="#dbe6f5" stroke="#1f439c" stroke-width="4.8" stroke-linejoin="round"/>
<line x1="174" y1="664.5" x2="271.5" y2="664.5" stroke="#1f439c" stroke-width="5.1" stroke-linecap="round"/>
<text font-family="Liberation Sans, Arial, sans-serif" font-weight="bold" font-size="44.2" fill="#1f439c" stroke="#1f439c" stroke-width="0.4" x="283" y="625.8">Zeolite</text>
<text font-family="Liberation Sans, Arial, sans-serif" font-weight="bold" font-size="44.2" fill="#1f439c" stroke="#1f439c" stroke-width="0.4" x="284" y="679.6">Fit</text>
<rect x="158.75" y="570.75" width="853.25" height="330.75" fill="none" stroke="#000" stroke-width="5"/>
<line x1="231.30" y1="901.5" x2="231.30" y2="893.2" stroke="#000" stroke-width="4.4"/>
<line x1="304.90" y1="901.5" x2="304.90" y2="896.3" stroke="#000" stroke-width="3.6"/>
<line x1="378.50" y1="901.5" x2="378.50" y2="893.2" stroke="#000" stroke-width="4.4"/>
<line x1="452.10" y1="901.5" x2="452.10" y2="896.3" stroke="#000" stroke-width="3.6"/>
<line x1="525.70" y1="901.5" x2="525.70" y2="893.2" stroke="#000" stroke-width="4.4"/>
<line x1="599.30" y1="901.5" x2="599.30" y2="896.3" stroke="#000" stroke-width="3.6"/>
<line x1="672.90" y1="901.5" x2="672.90" y2="893.2" stroke="#000" stroke-width="4.4"/>
<line x1="746.50" y1="901.5" x2="746.50" y2="896.3" stroke="#000" stroke-width="3.6"/>
<line x1="820.10" y1="901.5" x2="820.10" y2="893.2" stroke="#000" stroke-width="4.4"/>
<line x1="893.70" y1="901.5" x2="893.70" y2="896.3" stroke="#000" stroke-width="3.6"/>
<line x1="967.30" y1="901.5" x2="967.30" y2="893.2" stroke="#000" stroke-width="4.4"/>
<line x1="158.75" y1="901.50" x2="167.05" y2="901.50" stroke="#000" stroke-width="4.4"/>
<line x1="158.75" y1="860.16" x2="163.95" y2="860.16" stroke="#000" stroke-width="3.6"/>
<line x1="158.75" y1="818.81" x2="167.05" y2="818.81" stroke="#000" stroke-width="4.4"/>
<line x1="158.75" y1="777.47" x2="163.95" y2="777.47" stroke="#000" stroke-width="3.6"/>
<line x1="158.75" y1="736.12" x2="167.05" y2="736.12" stroke="#000" stroke-width="4.4"/>
<line x1="158.75" y1="694.78" x2="163.95" y2="694.78" stroke="#000" stroke-width="3.6"/>
<line x1="158.75" y1="653.44" x2="167.05" y2="653.44" stroke="#000" stroke-width="4.4"/>
<line x1="158.75" y1="612.09" x2="163.95" y2="612.09" stroke="#000" stroke-width="3.6"/>
<line x1="158.75" y1="570.75" x2="167.05" y2="570.75" stroke="#000" stroke-width="4.4"/>
<g font-family="Liberation Sans, Arial, sans-serif" font-weight="bold" font-size="34" fill="#000" stroke="#000" stroke-width="0.45">
<text transform="translate(146.3 911.1) scale(1 1.02)" text-anchor="end">0.8</text>
<text transform="translate(146.3 828.4) scale(1 1.02)" text-anchor="end">1.0</text>
<text transform="translate(146.3 745.7) scale(1 1.02)" text-anchor="end">1.2</text>
<text transform="translate(146.3 663.0) scale(1 1.02)" text-anchor="end">1.4</text>
<text transform="translate(146.3 580.4) scale(1 1.02)" text-anchor="end">1.6</text>
<text transform="translate(231.3 938.6) scale(1 1.02)" text-anchor="middle">0.00</text>
<text transform="translate(378.5 938.6) scale(1 1.02)" text-anchor="middle">0.05</text>
<text transform="translate(525.7 938.6) scale(1 1.02)" text-anchor="middle">0.10</text>
<text transform="translate(672.9 938.6) scale(1 1.02)" text-anchor="middle">0.15</text>
<text transform="translate(820.1 938.6) scale(1 1.02)" text-anchor="middle">0.20</text>
<text transform="translate(967.3 938.6) scale(1 1.02)" text-anchor="middle">0.25</text>
</g>
<text font-family="Liberation Sans, Arial, sans-serif" font-weight="bold" font-size="44.15" fill="#000" stroke="#000" stroke-width="0.45" x="600" y="1003" text-anchor="middle">Filling Volume (cm³)</text>
<g transform="translate(76.3 874) rotate(-90)" font-family="Liberation Sans, Arial, sans-serif" font-weight="bold" fill="#000" stroke="#000" stroke-width="0.45" font-size="43.7">
<text x="0" y="0" font-style="italic">C</text>
<text x="30.5" y="12.3" font-size="29" textLength="39.5" lengthAdjust="spacingAndGlyphs">ms</text>
<text x="73" y="0" font-style="italic">P</text>
<text x="102" y="12.3" font-size="29.5">0</text>
<text x="119.5" y="0" font-style="italic">S</text>
<text x="148.2" y="12.3" font-size="29.5">d</text>
<text x="147.5" y="-17.9" font-size="29.5">2</text>
<text x="176.4" y="0">(mH)</text>
</g>
</svg>
</body></html>
